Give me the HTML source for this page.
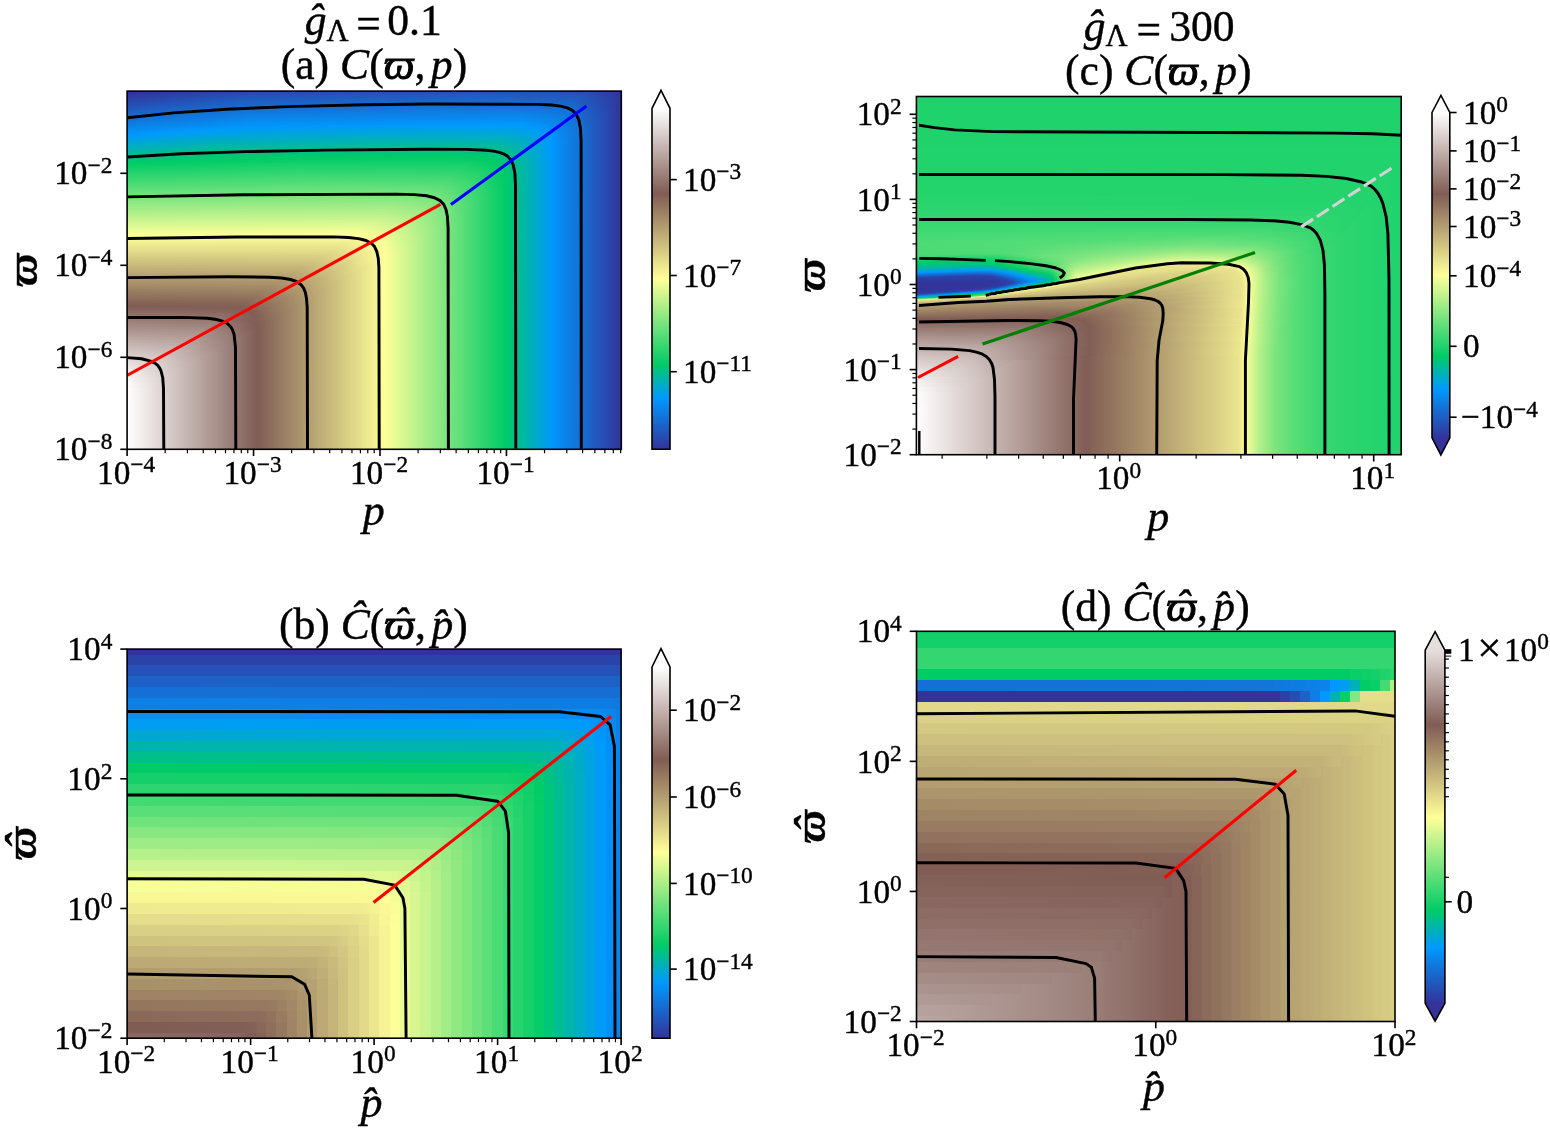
<!DOCTYPE html>
<html><head><meta charset="utf-8"><title>C(varpi,p) contour panels</title><style>html,body{margin:0;padding:0;background:#fff;overflow:hidden}svg{display:block}text{stroke:#000;stroke-width:0.4px;paint-order:stroke}</style></head><body>
<svg width="1550" height="1138" viewBox="0 0 1550 1138" font-family="'Liberation Serif', 'DejaVu Serif', serif">
<defs><linearGradient id="g0" gradientUnits="userSpaceOnUse" x1="127.00" y1="0" x2="622.00" y2="0"><stop offset="0.00101" stop-color="#ffffff"/><stop offset="0.2636" stop-color="#805d55"/><stop offset="0.5202" stop-color="#feff99"/><stop offset="0.7646" stop-color="#00cc67"/><stop offset="0.8596" stop-color="#0098fe"/><stop offset="0.999" stop-color="#333399"/></linearGradient>
<linearGradient id="g1" gradientUnits="userSpaceOnUse" x1="127.00" y1="0" x2="622.00" y2="0"><stop offset="0.00101" stop-color="#333399"/><stop offset="0.3" stop-color="#264db3"/><stop offset="0.8495" stop-color="#2254ba"/><stop offset="0.9444" stop-color="#274ab0"/><stop offset="0.999" stop-color="#333399"/></linearGradient>
<linearGradient id="g2" gradientUnits="userSpaceOnUse" x1="127.00" y1="0" x2="622.00" y2="0"><stop offset="0.00101" stop-color="#32349a"/><stop offset="0.2192" stop-color="#264db3"/><stop offset="0.696" stop-color="#2059bf"/><stop offset="0.9182" stop-color="#2353b9"/><stop offset="0.9828" stop-color="#2f3ba1"/><stop offset="0.999" stop-color="#333399"/></linearGradient>
<linearGradient id="g3" gradientUnits="userSpaceOnUse" x1="127.00" y1="0" x2="622.00" y2="0"><stop offset="0.00101" stop-color="#30399f"/><stop offset="0.2172" stop-color="#2452b8"/><stop offset="0.698" stop-color="#1e5dc3"/><stop offset="0.9121" stop-color="#2158be"/><stop offset="0.9768" stop-color="#2d3fa5"/><stop offset="0.999" stop-color="#333399"/></linearGradient>
<linearGradient id="g4" gradientUnits="userSpaceOnUse" x1="127.00" y1="0" x2="622.00" y2="0"><stop offset="0.00101" stop-color="#2e3ea4"/><stop offset="0.2212" stop-color="#2156bc"/><stop offset="0.7121" stop-color="#1c61c7"/><stop offset="0.9081" stop-color="#1f5cc2"/><stop offset="0.9727" stop-color="#2b42a8"/><stop offset="0.999" stop-color="#333399"/></linearGradient>
<linearGradient id="g5" gradientUnits="userSpaceOnUse" x1="127.00" y1="0" x2="622.00" y2="0"><stop offset="0.00101" stop-color="#2b43a9"/><stop offset="0.2232" stop-color="#1f5bc1"/><stop offset="0.7242" stop-color="#1a66cc"/><stop offset="0.904" stop-color="#1d5fc5"/><stop offset="0.9687" stop-color="#2a45ab"/><stop offset="0.999" stop-color="#333399"/></linearGradient>
<linearGradient id="g6" gradientUnits="userSpaceOnUse" x1="127.00" y1="0" x2="619.00" y2="0"><stop offset="0.001016" stop-color="#2947ad"/><stop offset="0.2266" stop-color="#1d60c6"/><stop offset="0.7388" stop-color="#186ad0"/><stop offset="0.9055" stop-color="#1b63c9"/><stop offset="0.9726" stop-color="#2947ad"/><stop offset="0.999" stop-color="#31369c"/></linearGradient>
<linearGradient id="g7" gradientUnits="userSpaceOnUse" x1="127.00" y1="0" x2="616.00" y2="0"><stop offset="0.001022" stop-color="#264cb2"/><stop offset="0.2321" stop-color="#1a64ca"/><stop offset="0.7597" stop-color="#156ed4"/><stop offset="0.907" stop-color="#1967cd"/><stop offset="0.9744" stop-color="#274ab0"/><stop offset="0.999" stop-color="#2f3ba1"/></linearGradient>
<linearGradient id="g8" gradientUnits="userSpaceOnUse" x1="127.00" y1="0" x2="613.00" y2="0"><stop offset="0.001029" stop-color="#2451b7"/><stop offset="0.2377" stop-color="#1869cf"/><stop offset="0.7809" stop-color="#1372d8"/><stop offset="0.9105" stop-color="#176bd1"/><stop offset="0.9784" stop-color="#264cb2"/><stop offset="0.999" stop-color="#2d3fa5"/></linearGradient>
<linearGradient id="g9" gradientUnits="userSpaceOnUse" x1="127.00" y1="0" x2="610.00" y2="0"><stop offset="0.001035" stop-color="#2156bc"/><stop offset="0.2412" stop-color="#166dd3"/><stop offset="0.7961" stop-color="#1176dc"/><stop offset="0.9141" stop-color="#166ed4"/><stop offset="0.9845" stop-color="#264db3"/><stop offset="0.999" stop-color="#2b44aa"/></linearGradient>
<linearGradient id="g10" gradientUnits="userSpaceOnUse" x1="127.00" y1="0" x2="607.00" y2="0"><stop offset="0.001042" stop-color="#1f5bc1"/><stop offset="0.2469" stop-color="#1372d8"/><stop offset="0.8115" stop-color="#0f7be1"/><stop offset="0.9177" stop-color="#1471d7"/><stop offset="0.9927" stop-color="#274cb2"/><stop offset="0.999" stop-color="#2948ae"/></linearGradient>
<linearGradient id="g11" gradientUnits="userSpaceOnUse" x1="127.00" y1="0" x2="604.00" y2="0"><stop offset="0.001048" stop-color="#1d60c6"/><stop offset="0.2526" stop-color="#1177dd"/><stop offset="0.8249" stop-color="#0d7fe5"/><stop offset="0.9214" stop-color="#1274da"/><stop offset="0.999" stop-color="#264cb2"/></linearGradient>
<linearGradient id="g12" gradientUnits="userSpaceOnUse" x1="127.00" y1="0" x2="601.00" y2="0"><stop offset="0.001055" stop-color="#1a65cb"/><stop offset="0.2584" stop-color="#0f7be1"/><stop offset="0.8365" stop-color="#0b83e9"/><stop offset="0.9251" stop-color="#1177dd"/><stop offset="0.9989" stop-color="#2451b7"/></linearGradient>
<linearGradient id="g13" gradientUnits="userSpaceOnUse" x1="127.00" y1="0" x2="598.00" y2="0"><stop offset="0.001062" stop-color="#186ad0"/><stop offset="0.2622" stop-color="#0d80e6"/><stop offset="0.8418" stop-color="#0987ed"/><stop offset="0.9268" stop-color="#0f7be1"/><stop offset="0.9989" stop-color="#2255bb"/></linearGradient>
<linearGradient id="g14" gradientUnits="userSpaceOnUse" x1="127.00" y1="0" x2="596.00" y2="0"><stop offset="0.001066" stop-color="#156fd5"/><stop offset="0.2676" stop-color="#0a84ea"/><stop offset="0.8454" stop-color="#078bf1"/><stop offset="0.9286" stop-color="#0e7de3"/><stop offset="0.9989" stop-color="#2058be"/></linearGradient>
<linearGradient id="g15" gradientUnits="userSpaceOnUse" x1="127.00" y1="0" x2="593.00" y2="0"><stop offset="0.001073" stop-color="#1373d9"/><stop offset="0.2758" stop-color="#0889ef"/><stop offset="0.8509" stop-color="#058ff5"/><stop offset="0.9303" stop-color="#0c81e7"/><stop offset="0.9989" stop-color="#1e5cc2"/></linearGradient>
<linearGradient id="g16" gradientUnits="userSpaceOnUse" x1="127.00" y1="0" x2="590.00" y2="0"><stop offset="0.00108" stop-color="#1078de"/><stop offset="0.2819" stop-color="#068ef4"/><stop offset="0.8542" stop-color="#0393f9"/><stop offset="0.932" stop-color="#0a84ea"/><stop offset="0.9989" stop-color="#1c61c7"/></linearGradient>
<linearGradient id="g17" gradientUnits="userSpaceOnUse" x1="127.00" y1="0" x2="587.00" y2="0"><stop offset="0.001087" stop-color="#0e7de3"/><stop offset="0.288" stop-color="#0392f8"/><stop offset="0.8598" stop-color="#0197fd"/><stop offset="0.9359" stop-color="#0987ed"/><stop offset="0.9989" stop-color="#1a65cb"/></linearGradient>
<linearGradient id="g18" gradientUnits="userSpaceOnUse" x1="127.00" y1="0" x2="584.00" y2="0"><stop offset="0.001094" stop-color="#0c81e7"/><stop offset="0.2943" stop-color="#0296fc"/><stop offset="0.535" stop-color="#009afc"/><stop offset="0.8589" stop-color="#009afd"/><stop offset="0.9179" stop-color="#0491f7"/><stop offset="0.9989" stop-color="#1869cf"/></linearGradient>
<linearGradient id="g19" gradientUnits="userSpaceOnUse" x1="127.00" y1="0" x2="583.00" y2="0"><stop offset="0.001096" stop-color="#0b83e9"/><stop offset="0.2971" stop-color="#0198fe"/><stop offset="0.8103" stop-color="#009cf5"/><stop offset="0.9024" stop-color="#0197fd"/><stop offset="0.9748" stop-color="#1079df"/><stop offset="0.9989" stop-color="#176bd1"/></linearGradient>
<linearGradient id="g20" gradientUnits="userSpaceOnUse" x1="127.00" y1="0" x2="581.00" y2="0"><stop offset="0.001101" stop-color="#0a86ec"/><stop offset="0.2764" stop-color="#0099fe"/><stop offset="0.6949" stop-color="#009eef"/><stop offset="0.8733" stop-color="#009cf6"/><stop offset="0.9086" stop-color="#0198fe"/><stop offset="0.9835" stop-color="#1177dd"/><stop offset="0.9989" stop-color="#166ed4"/></linearGradient>
<linearGradient id="g21" gradientUnits="userSpaceOnUse" x1="127.00" y1="0" x2="580.00" y2="0"><stop offset="0.001104" stop-color="#0888ee"/><stop offset="0.2307" stop-color="#009afd"/><stop offset="0.6126" stop-color="#00a0eb"/><stop offset="0.8642" stop-color="#009ef0"/><stop offset="0.9172" stop-color="#0197fd"/><stop offset="0.9989" stop-color="#156fd5"/></linearGradient>
<linearGradient id="g22" gradientUnits="userSpaceOnUse" x1="127.00" y1="0" x2="578.00" y2="0"><stop offset="0.001109" stop-color="#078bf1"/><stop offset="0.1874" stop-color="#009afd"/><stop offset="0.5222" stop-color="#00a0e9"/><stop offset="0.8548" stop-color="#00a0ea"/><stop offset="0.9124" stop-color="#009afb"/><stop offset="0.9279" stop-color="#0196fc"/><stop offset="0.9989" stop-color="#1372d8"/></linearGradient>
<linearGradient id="g23" gradientUnits="userSpaceOnUse" x1="127.00" y1="0" x2="577.00" y2="0"><stop offset="0.001111" stop-color="#068df3"/><stop offset="0.15" stop-color="#009afd"/><stop offset="0.4478" stop-color="#00a1e6"/><stop offset="0.8344" stop-color="#00a2e3"/><stop offset="0.9011" stop-color="#009ef1"/><stop offset="0.9278" stop-color="#0198fe"/><stop offset="0.9989" stop-color="#1374da"/></linearGradient>
<linearGradient id="g24" gradientUnits="userSpaceOnUse" x1="127.00" y1="0" x2="575.00" y2="0"><stop offset="0.001116" stop-color="#0590f6"/><stop offset="0.115" stop-color="#009afd"/><stop offset="0.3828" stop-color="#00a2e4"/><stop offset="0.8158" stop-color="#00a4dd"/><stop offset="0.894" stop-color="#00a0e9"/><stop offset="0.9342" stop-color="#0198fe"/><stop offset="0.9989" stop-color="#1177dd"/></linearGradient>
<linearGradient id="g25" gradientUnits="userSpaceOnUse" x1="127.00" y1="0" x2="574.00" y2="0"><stop offset="0.001119" stop-color="#0392f8"/><stop offset="0.08389" stop-color="#009afd"/><stop offset="0.3277" stop-color="#00a2e3"/><stop offset="0.7819" stop-color="#00a6d8"/><stop offset="0.8848" stop-color="#00a3e2"/><stop offset="0.934" stop-color="#009afd"/><stop offset="0.9989" stop-color="#1078de"/></linearGradient>
<linearGradient id="g26" gradientUnits="userSpaceOnUse" x1="127.00" y1="0" x2="572.00" y2="0"><stop offset="0.001124" stop-color="#0294fa"/><stop offset="0.05955" stop-color="#009afc"/><stop offset="0.2865" stop-color="#00a3e0"/><stop offset="0.7337" stop-color="#00a8d3"/><stop offset="0.8753" stop-color="#00a5da"/><stop offset="0.927" stop-color="#009df2"/><stop offset="0.9449" stop-color="#0198fe"/><stop offset="0.9989" stop-color="#0f7be1"/></linearGradient>
<linearGradient id="g27" gradientUnits="userSpaceOnUse" x1="127.00" y1="0" x2="571.00" y2="0"><stop offset="0.001126" stop-color="#0197fd"/><stop offset="0.04617" stop-color="#009bf9"/><stop offset="0.2646" stop-color="#00a4dd"/><stop offset="0.7038" stop-color="#00a9ce"/><stop offset="0.8705" stop-color="#00a7d5"/><stop offset="0.9223" stop-color="#00a0eb"/><stop offset="0.9471" stop-color="#0098fe"/><stop offset="0.9989" stop-color="#0e7de3"/></linearGradient>
<linearGradient id="g28" gradientUnits="userSpaceOnUse" x1="127.00" y1="0" x2="569.00" y2="0"><stop offset="0.001131" stop-color="#0099fe"/><stop offset="0.1912" stop-color="#00a4df"/><stop offset="0.5532" stop-color="#00aacc"/><stop offset="0.8563" stop-color="#00aacd"/><stop offset="0.9129" stop-color="#00a4df"/><stop offset="0.9536" stop-color="#0098fe"/><stop offset="0.9989" stop-color="#0d7fe5"/></linearGradient>
<linearGradient id="g29" gradientUnits="userSpaceOnUse" x1="127.00" y1="0" x2="568.00" y2="0"><stop offset="0.001134" stop-color="#009bf9"/><stop offset="0.1916" stop-color="#00a5da"/><stop offset="0.559" stop-color="#00acc7"/><stop offset="0.856" stop-color="#00abc9"/><stop offset="0.9127" stop-color="#00a5db"/><stop offset="0.9558" stop-color="#0099ff"/><stop offset="0.9989" stop-color="#0c81e7"/></linearGradient>
<linearGradient id="g30" gradientUnits="userSpaceOnUse" x1="127.00" y1="0" x2="567.00" y2="0"><stop offset="0.001136" stop-color="#009df3"/><stop offset="0.1943" stop-color="#00a7d4"/><stop offset="0.5693" stop-color="#00adc2"/><stop offset="0.8557" stop-color="#00adc4"/><stop offset="0.9125" stop-color="#00a6d7"/><stop offset="0.9602" stop-color="#0198fe"/><stop offset="0.9989" stop-color="#0b82e8"/></linearGradient>
<linearGradient id="g31" gradientUnits="userSpaceOnUse" x1="127.00" y1="0" x2="565.00" y2="0"><stop offset="0.001142" stop-color="#009fee"/><stop offset="0.1975" stop-color="#00a9cf"/><stop offset="0.5811" stop-color="#00afbd"/><stop offset="0.8573" stop-color="#00aec0"/><stop offset="0.9144" stop-color="#00a8d3"/><stop offset="0.9646" stop-color="#0098fe"/><stop offset="0.9989" stop-color="#0a85eb"/></linearGradient>
<linearGradient id="g32" gradientUnits="userSpaceOnUse" x1="127.00" y1="0" x2="564.00" y2="0"><stop offset="0.001144" stop-color="#00a1e8"/><stop offset="0.2002" stop-color="#00abca"/><stop offset="0.5915" stop-color="#00b1b8"/><stop offset="0.857" stop-color="#00b0bb"/><stop offset="0.9119" stop-color="#00aacd"/><stop offset="0.9622" stop-color="#009bfa"/><stop offset="0.9691" stop-color="#0198fe"/><stop offset="0.9989" stop-color="#0987ed"/></linearGradient>
<linearGradient id="g33" gradientUnits="userSpaceOnUse" x1="127.00" y1="0" x2="562.00" y2="0"><stop offset="0.001149" stop-color="#00a2e3"/><stop offset="0.2034" stop-color="#00adc4"/><stop offset="0.6034" stop-color="#00b2b3"/><stop offset="0.8586" stop-color="#00b1b6"/><stop offset="0.9138" stop-color="#00abc9"/><stop offset="0.9644" stop-color="#009cf7"/><stop offset="0.9736" stop-color="#0198fe"/><stop offset="0.9989" stop-color="#088af0"/></linearGradient>
<linearGradient id="g34" gradientUnits="userSpaceOnUse" x1="127.00" y1="0" x2="561.00" y2="0"><stop offset="0.001152" stop-color="#00a4dd"/><stop offset="0.2062" stop-color="#00aebf"/><stop offset="0.6164" stop-color="#00b4ae"/><stop offset="0.8583" stop-color="#00b3b2"/><stop offset="0.9136" stop-color="#00acc5"/><stop offset="0.9643" stop-color="#009df3"/><stop offset="0.9758" stop-color="#0098fe"/><stop offset="0.9988" stop-color="#078bf1"/></linearGradient>
<linearGradient id="g35" gradientUnits="userSpaceOnUse" x1="127.00" y1="0" x2="559.00" y2="0"><stop offset="0.001157" stop-color="#00a6d8"/><stop offset="0.2072" stop-color="#00b0ba"/><stop offset="0.6238" stop-color="#00b6a9"/><stop offset="0.86" stop-color="#00b4ad"/><stop offset="0.9155" stop-color="#00aec1"/><stop offset="0.9664" stop-color="#009eef"/><stop offset="0.9803" stop-color="#0099ff"/><stop offset="0.9988" stop-color="#058ef4"/></linearGradient>
<linearGradient id="g36" gradientUnits="userSpaceOnUse" x1="127.00" y1="0" x2="558.00" y2="0"><stop offset="0.00116" stop-color="#00a8d2"/><stop offset="0.21" stop-color="#00b2b5"/><stop offset="0.6346" stop-color="#00b7a4"/><stop offset="0.8596" stop-color="#00b6a9"/><stop offset="0.9153" stop-color="#00afbd"/><stop offset="0.9664" stop-color="#009fec"/><stop offset="0.9849" stop-color="#0197fd"/><stop offset="0.9988" stop-color="#0590f6"/></linearGradient>
<linearGradient id="g37" gradientUnits="userSpaceOnUse" x1="127.00" y1="0" x2="556.00" y2="0"><stop offset="0.001166" stop-color="#00aacd"/><stop offset="0.2133" stop-color="#00b3b0"/><stop offset="0.6492" stop-color="#00b99f"/><stop offset="0.8613" stop-color="#00b7a4"/><stop offset="0.9172" stop-color="#00b0b9"/><stop offset="0.9685" stop-color="#00a1e8"/><stop offset="0.9872" stop-color="#0099ff"/><stop offset="0.9988" stop-color="#0392f8"/></linearGradient>
<linearGradient id="g38" gradientUnits="userSpaceOnUse" x1="127.00" y1="0" x2="555.00" y2="0"><stop offset="0.001168" stop-color="#00acc7"/><stop offset="0.2161" stop-color="#00b5aa"/><stop offset="0.6624" stop-color="#00bb9a"/><stop offset="0.861" stop-color="#00b9a0"/><stop offset="0.9171" stop-color="#00b2b5"/><stop offset="0.9685" stop-color="#00a2e5"/><stop offset="0.9918" stop-color="#0198fe"/><stop offset="0.9988" stop-color="#0394fa"/></linearGradient>
<linearGradient id="g39" gradientUnits="userSpaceOnUse" x1="127.00" y1="0" x2="554.00" y2="0"><stop offset="0.001171" stop-color="#00adc2"/><stop offset="0.219" stop-color="#00b7a5"/><stop offset="0.6756" stop-color="#00bc95"/><stop offset="0.8607" stop-color="#00ba9b"/><stop offset="0.9169" stop-color="#00b3b1"/><stop offset="0.9684" stop-color="#00a3e1"/><stop offset="0.9941" stop-color="#0098fe"/><stop offset="0.9988" stop-color="#0295fb"/></linearGradient>
<linearGradient id="g40" gradientUnits="userSpaceOnUse" x1="127.00" y1="0" x2="552.00" y2="0"><stop offset="0.001176" stop-color="#00afbc"/><stop offset="0.2224" stop-color="#00b9a0"/><stop offset="0.6906" stop-color="#00be90"/><stop offset="0.8647" stop-color="#00bc97"/><stop offset="0.9188" stop-color="#00b4ad"/><stop offset="0.9729" stop-color="#00a3e0"/><stop offset="0.9988" stop-color="#0098fe"/></linearGradient>
<linearGradient id="g41" gradientUnits="userSpaceOnUse" x1="127.00" y1="0" x2="552.00" y2="0"><stop offset="0.001176" stop-color="#00b1b7"/><stop offset="0.2247" stop-color="#00ba9b"/><stop offset="0.7024" stop-color="#00c08b"/><stop offset="0.8624" stop-color="#00bd92"/><stop offset="0.9165" stop-color="#00b6a9"/><stop offset="0.9706" stop-color="#00a4dd"/><stop offset="0.9988" stop-color="#0098fe"/></linearGradient>
<linearGradient id="g42" gradientUnits="userSpaceOnUse" x1="127.00" y1="0" x2="552.00" y2="0"><stop offset="0.001176" stop-color="#00b3b1"/><stop offset="0.2294" stop-color="#00bc95"/><stop offset="0.7141" stop-color="#00c187"/><stop offset="0.8624" stop-color="#00bf8e"/><stop offset="0.9165" stop-color="#00b7a6"/><stop offset="0.9706" stop-color="#00a5dc"/><stop offset="0.9988" stop-color="#0099ff"/></linearGradient>
<linearGradient id="g43" gradientUnits="userSpaceOnUse" x1="127.00" y1="0" x2="552.00" y2="0"><stop offset="0.001176" stop-color="#00b5ac"/><stop offset="0.2318" stop-color="#00be90"/><stop offset="0.7235" stop-color="#00c382"/><stop offset="0.86" stop-color="#00c08a"/><stop offset="0.9141" stop-color="#00b8a2"/><stop offset="0.9706" stop-color="#00a5dc"/><stop offset="0.9988" stop-color="#0099ff"/></linearGradient>
<linearGradient id="g44" gradientUnits="userSpaceOnUse" x1="127.00" y1="0" x2="552.00" y2="0"><stop offset="0.001176" stop-color="#00b7a6"/><stop offset="0.2341" stop-color="#00c08b"/><stop offset="0.7306" stop-color="#00c47d"/><stop offset="0.8576" stop-color="#00c285"/><stop offset="0.9118" stop-color="#00b99e"/><stop offset="0.9682" stop-color="#00a6d8"/><stop offset="0.9988" stop-color="#0099ff"/></linearGradient>
<linearGradient id="g45" gradientUnits="userSpaceOnUse" x1="127.00" y1="0" x2="552.00" y2="0"><stop offset="0.001176" stop-color="#00b8a1"/><stop offset="0.2365" stop-color="#00c186"/><stop offset="0.7353" stop-color="#00c678"/><stop offset="0.8576" stop-color="#00c381"/><stop offset="0.9094" stop-color="#00bb9a"/><stop offset="0.9659" stop-color="#00a7d5"/><stop offset="0.9988" stop-color="#0099ff"/></linearGradient>
<linearGradient id="g46" gradientUnits="userSpaceOnUse" x1="127.00" y1="0" x2="553.00" y2="0"><stop offset="0.001174" stop-color="#00ba9b"/><stop offset="0.2406" stop-color="#00c381"/><stop offset="0.743" stop-color="#00c774"/><stop offset="0.8533" stop-color="#00c47d"/><stop offset="0.9049" stop-color="#00bc96"/><stop offset="0.9613" stop-color="#00a8d1"/><stop offset="0.9965" stop-color="#0099ff"/><stop offset="0.9988" stop-color="#0198fe"/></linearGradient>
<linearGradient id="g47" gradientUnits="userSpaceOnUse" x1="127.00" y1="0" x2="553.00" y2="0"><stop offset="0.001174" stop-color="#00bc96"/><stop offset="0.243" stop-color="#00c57b"/><stop offset="0.7477" stop-color="#00c96f"/><stop offset="0.8533" stop-color="#00c679"/><stop offset="0.9049" stop-color="#00bd94"/><stop offset="0.9636" stop-color="#00a7d4"/><stop offset="0.9965" stop-color="#0099ff"/><stop offset="0.9988" stop-color="#0198fe"/></linearGradient>
<linearGradient id="g48" gradientUnits="userSpaceOnUse" x1="127.00" y1="0" x2="551.00" y2="0"><stop offset="0.001179" stop-color="#00be90"/><stop offset="0.2512" stop-color="#00c776"/><stop offset="0.7583" stop-color="#00cb6a"/><stop offset="0.855" stop-color="#00c774"/><stop offset="0.9068" stop-color="#00be91"/><stop offset="0.9658" stop-color="#00a9d0"/><stop offset="0.9988" stop-color="#009afc"/></linearGradient>
<linearGradient id="g49" gradientUnits="userSpaceOnUse" x1="127.00" y1="0" x2="550.00" y2="0"><stop offset="0.001182" stop-color="#00c08b"/><stop offset="0.2565" stop-color="#00c871"/><stop offset="0.7364" stop-color="#01cc66"/><stop offset="0.8452" stop-color="#00ca6d"/><stop offset="0.8995" stop-color="#00c187"/><stop offset="0.9539" stop-color="#00afbe"/><stop offset="0.9988" stop-color="#009bf8"/></linearGradient>
<linearGradient id="g50" gradientUnits="userSpaceOnUse" x1="127.00" y1="0" x2="548.00" y2="0"><stop offset="0.001188" stop-color="#00c285"/><stop offset="0.2625" stop-color="#00ca6b"/><stop offset="0.5831" stop-color="#03cd67"/><stop offset="0.8492" stop-color="#00cb69"/><stop offset="0.9014" stop-color="#00c283"/><stop offset="0.9561" stop-color="#00b0bb"/><stop offset="0.9988" stop-color="#009df2"/></linearGradient>
<linearGradient id="g51" gradientUnits="userSpaceOnUse" x1="127.00" y1="0" x2="547.00" y2="0"><stop offset="0.00119" stop-color="#00c380"/><stop offset="0.2655" stop-color="#00cc66"/><stop offset="0.8155" stop-color="#05cd67"/><stop offset="0.8655" stop-color="#00ca6b"/><stop offset="0.9179" stop-color="#00bf8d"/><stop offset="0.9893" stop-color="#00a3e2"/><stop offset="0.9988" stop-color="#009fee"/></linearGradient>
<linearGradient id="g52" gradientUnits="userSpaceOnUse" x1="127.00" y1="0" x2="545.00" y2="0"><stop offset="0.001196" stop-color="#00c57a"/><stop offset="0.2141" stop-color="#01cc66"/><stop offset="0.7978" stop-color="#09ce68"/><stop offset="0.8744" stop-color="#00cb69"/><stop offset="0.927" stop-color="#00be91"/><stop offset="0.9988" stop-color="#00a1e8"/></linearGradient>
<linearGradient id="g53" gradientUnits="userSpaceOnUse" x1="127.00" y1="0" x2="544.00" y2="0"><stop offset="0.001199" stop-color="#00c775"/><stop offset="0.1595" stop-color="#02cc66"/><stop offset="0.7542" stop-color="#0dcf69"/><stop offset="0.8645" stop-color="#03cd67"/><stop offset="0.8861" stop-color="#00ca6c"/><stop offset="0.9388" stop-color="#00bb9a"/><stop offset="0.9988" stop-color="#00a2e5"/></linearGradient>
<linearGradient id="g54" gradientUnits="userSpaceOnUse" x1="127.00" y1="0" x2="542.00" y2="0"><stop offset="0.001205" stop-color="#00c96f"/><stop offset="0.1096" stop-color="#02cc66"/><stop offset="0.6518" stop-color="#10cf69"/><stop offset="0.847" stop-color="#0bce68"/><stop offset="0.8904" stop-color="#00cb69"/><stop offset="0.9458" stop-color="#00ba9c"/><stop offset="0.9988" stop-color="#00a4de"/></linearGradient>
<linearGradient id="g55" gradientUnits="userSpaceOnUse" x1="127.00" y1="0" x2="541.00" y2="0"><stop offset="0.001208" stop-color="#00cb6a"/><stop offset="0.1365" stop-color="#07cd67"/><stop offset="0.7283" stop-color="#14d06a"/><stop offset="0.8587" stop-color="#0bce68"/><stop offset="0.8949" stop-color="#00cb69"/><stop offset="0.9505" stop-color="#00b99e"/><stop offset="0.9988" stop-color="#00a5db"/></linearGradient>
<linearGradient id="g56" gradientUnits="userSpaceOnUse" x1="127.00" y1="0" x2="540.00" y2="0"><stop offset="0.001211" stop-color="#01cc66"/><stop offset="0.3814" stop-color="#13d06a"/><stop offset="0.822" stop-color="#14d06a"/><stop offset="0.8923" stop-color="#02cc66"/><stop offset="0.9213" stop-color="#00c57b"/><stop offset="0.9988" stop-color="#00a6d7"/></linearGradient>
<linearGradient id="g57" gradientUnits="userSpaceOnUse" x1="127.00" y1="0" x2="538.00" y2="0"><stop offset="0.001217" stop-color="#04cd67"/><stop offset="0.3881" stop-color="#17d16b"/><stop offset="0.8236" stop-color="#17d16b"/><stop offset="0.8942" stop-color="#05cd67"/><stop offset="0.9088" stop-color="#00cb6a"/><stop offset="0.972" stop-color="#00b4ae"/><stop offset="0.9988" stop-color="#00a8d1"/></linearGradient>
<linearGradient id="g58" gradientUnits="userSpaceOnUse" x1="127.00" y1="0" x2="537.00" y2="0"><stop offset="0.00122" stop-color="#08ce68"/><stop offset="0.3963" stop-color="#1ad16b"/><stop offset="0.8232" stop-color="#1ad16b"/><stop offset="0.8939" stop-color="#07cd67"/><stop offset="0.9134" stop-color="#00ca6b"/><stop offset="0.9817" stop-color="#00b1b7"/><stop offset="0.9988" stop-color="#00aacd"/></linearGradient>
<linearGradient id="g59" gradientUnits="userSpaceOnUse" x1="127.00" y1="0" x2="535.00" y2="0"><stop offset="0.001225" stop-color="#0cce68"/><stop offset="0.4032" stop-color="#1ed26c"/><stop offset="0.8223" stop-color="#1dd26c"/><stop offset="0.8934" stop-color="#0bce68"/><stop offset="0.9179" stop-color="#00cb69"/><stop offset="0.989" stop-color="#00b0ba"/><stop offset="0.9988" stop-color="#00acc7"/></linearGradient>
<linearGradient id="g60" gradientUnits="userSpaceOnUse" x1="127.00" y1="0" x2="534.00" y2="0"><stop offset="0.001229" stop-color="#0fcf69"/><stop offset="0.4091" stop-color="#21d36d"/><stop offset="0.8219" stop-color="#21d36d"/><stop offset="0.8931" stop-color="#0ecf69"/><stop offset="0.9201" stop-color="#00cb68"/><stop offset="0.9939" stop-color="#00afbd"/><stop offset="0.9988" stop-color="#00adc4"/></linearGradient>
<linearGradient id="g61" gradientUnits="userSpaceOnUse" x1="127.00" y1="0" x2="532.00" y2="0"><stop offset="0.001235" stop-color="#13d06a"/><stop offset="0.416" stop-color="#24d36d"/><stop offset="0.8235" stop-color="#24d36d"/><stop offset="0.8951" stop-color="#10cf69"/><stop offset="0.9272" stop-color="#00cb69"/><stop offset="0.9988" stop-color="#00afbd"/></linearGradient>
<linearGradient id="g62" gradientUnits="userSpaceOnUse" x1="127.00" y1="0" x2="531.00" y2="0"><stop offset="0.001238" stop-color="#16d06a"/><stop offset="0.4245" stop-color="#28d46e"/><stop offset="0.823" stop-color="#27d46e"/><stop offset="0.8948" stop-color="#13d06a"/><stop offset="0.9295" stop-color="#00cb68"/><stop offset="0.9988" stop-color="#00b0ba"/></linearGradient>
<linearGradient id="g63" gradientUnits="userSpaceOnUse" x1="127.00" y1="0" x2="529.00" y2="0"><stop offset="0.001244" stop-color="#1ad16b"/><stop offset="0.4341" stop-color="#2bd56f"/><stop offset="0.8246" stop-color="#2ad46e"/><stop offset="0.8968" stop-color="#16d06a"/><stop offset="0.9366" stop-color="#00cb6a"/><stop offset="0.9988" stop-color="#00b2b3"/></linearGradient>
<linearGradient id="g64" gradientUnits="userSpaceOnUse" x1="127.00" y1="0" x2="528.00" y2="0"><stop offset="0.001247" stop-color="#1ed26c"/><stop offset="0.4401" stop-color="#2ed56f"/><stop offset="0.8217" stop-color="#2dd56f"/><stop offset="0.894" stop-color="#19d16b"/><stop offset="0.9389" stop-color="#00cb69"/><stop offset="0.9988" stop-color="#00b3b0"/></linearGradient>
<linearGradient id="g65" gradientUnits="userSpaceOnUse" x1="127.00" y1="0" x2="526.00" y2="0"><stop offset="0.001253" stop-color="#21d36d"/><stop offset="0.4499" stop-color="#32d670"/><stop offset="0.8233" stop-color="#30d670"/><stop offset="0.896" stop-color="#1cd26c"/><stop offset="0.9436" stop-color="#00cb68"/><stop offset="0.9987" stop-color="#00b6a9"/></linearGradient>
<linearGradient id="g66" gradientUnits="userSpaceOnUse" x1="127.00" y1="0" x2="525.00" y2="0"><stop offset="0.001256" stop-color="#25d36d"/><stop offset="0.4585" stop-color="#35d771"/><stop offset="0.8229" stop-color="#33d670"/><stop offset="0.8932" stop-color="#20d26c"/><stop offset="0.946" stop-color="#00cc67"/><stop offset="0.9987" stop-color="#00b7a6"/></linearGradient>
<linearGradient id="g67" gradientUnits="userSpaceOnUse" x1="127.00" y1="0" x2="523.00" y2="0"><stop offset="0.001263" stop-color="#28d46e"/><stop offset="0.4684" stop-color="#39d771"/><stop offset="0.8245" stop-color="#36d771"/><stop offset="0.8952" stop-color="#22d36d"/><stop offset="0.9533" stop-color="#00cb69"/><stop offset="0.9987" stop-color="#00b99f"/></linearGradient>
<linearGradient id="g68" gradientUnits="userSpaceOnUse" x1="127.00" y1="0" x2="522.00" y2="0"><stop offset="0.001266" stop-color="#2cd56f"/><stop offset="0.4772" stop-color="#3cd872"/><stop offset="0.8241" stop-color="#39d771"/><stop offset="0.8949" stop-color="#25d36d"/><stop offset="0.9557" stop-color="#00cb69"/><stop offset="0.9987" stop-color="#00ba9c"/></linearGradient>
<linearGradient id="g69" gradientUnits="userSpaceOnUse" x1="127.00" y1="0" x2="520.00" y2="0"><stop offset="0.001272" stop-color="#30d670"/><stop offset="0.4873" stop-color="#3fd973"/><stop offset="0.8232" stop-color="#3dd872"/><stop offset="0.8944" stop-color="#29d46e"/><stop offset="0.9606" stop-color="#00cb68"/><stop offset="0.9987" stop-color="#00bc96"/></linearGradient>
<linearGradient id="g70" gradientUnits="userSpaceOnUse" x1="127.00" y1="0" x2="519.00" y2="0"><stop offset="0.001276" stop-color="#33d670"/><stop offset="0.4987" stop-color="#43d973"/><stop offset="0.8227" stop-color="#40d973"/><stop offset="0.8941" stop-color="#2bd56f"/><stop offset="0.963" stop-color="#00cb68"/><stop offset="0.9987" stop-color="#00bd92"/></linearGradient>
<linearGradient id="g71" gradientUnits="userSpaceOnUse" x1="127.00" y1="0" x2="518.00" y2="0"><stop offset="0.001279" stop-color="#37d771"/><stop offset="0.5102" stop-color="#46da74"/><stop offset="0.8223" stop-color="#43d973"/><stop offset="0.8939" stop-color="#2ed56f"/><stop offset="0.9655" stop-color="#00cc67"/><stop offset="0.9987" stop-color="#00be8f"/></linearGradient>
<linearGradient id="g72" gradientUnits="userSpaceOnUse" x1="127.00" y1="0" x2="516.00" y2="0"><stop offset="0.001285" stop-color="#3ad872"/><stop offset="0.5206" stop-color="#49db75"/><stop offset="0.8239" stop-color="#46da74"/><stop offset="0.8959" stop-color="#31d670"/><stop offset="0.9704" stop-color="#00cc67"/><stop offset="0.9987" stop-color="#00c188"/></linearGradient>
<linearGradient id="g73" gradientUnits="userSpaceOnUse" x1="127.00" y1="0" x2="515.00" y2="0"><stop offset="0.001289" stop-color="#3ed872"/><stop offset="0.5322" stop-color="#4ddb75"/><stop offset="0.8235" stop-color="#49db75"/><stop offset="0.8956" stop-color="#33d670"/><stop offset="0.9729" stop-color="#00cc67"/><stop offset="0.9987" stop-color="#00c285"/></linearGradient>
<linearGradient id="g74" gradientUnits="userSpaceOnUse" x1="127.00" y1="0" x2="513.00" y2="0"><stop offset="0.001295" stop-color="#42d973"/><stop offset="0.5479" stop-color="#50dc76"/><stop offset="0.8251" stop-color="#4cdb75"/><stop offset="0.8977" stop-color="#36d771"/><stop offset="0.978" stop-color="#00cc66"/><stop offset="0.9987" stop-color="#00c47f"/></linearGradient>
<linearGradient id="g75" gradientUnits="userSpaceOnUse" x1="127.00" y1="0" x2="512.00" y2="0"><stop offset="0.001299" stop-color="#45da74"/><stop offset="0.5597" stop-color="#53dd77"/><stop offset="0.8247" stop-color="#4fdc76"/><stop offset="0.8948" stop-color="#3ad872"/><stop offset="0.9831" stop-color="#00cb69"/><stop offset="0.9987" stop-color="#00c57c"/></linearGradient>
<linearGradient id="g76" gradientUnits="userSpaceOnUse" x1="127.00" y1="0" x2="510.00" y2="0"><stop offset="0.001305" stop-color="#49db75"/><stop offset="0.5757" stop-color="#57dd77"/><stop offset="0.8264" stop-color="#52dc76"/><stop offset="0.8969" stop-color="#3cd872"/><stop offset="0.9883" stop-color="#00cb69"/><stop offset="0.9987" stop-color="#00c775"/></linearGradient>
<linearGradient id="g77" gradientUnits="userSpaceOnUse" x1="127.00" y1="0" x2="508.00" y2="0"><stop offset="0.001312" stop-color="#4cdb75"/><stop offset="0.5919" stop-color="#5ade78"/><stop offset="0.8281" stop-color="#55dd77"/><stop offset="0.899" stop-color="#3fd973"/><stop offset="0.9934" stop-color="#00cb69"/><stop offset="0.9987" stop-color="#00c96f"/></linearGradient>
<linearGradient id="g78" gradientUnits="userSpaceOnUse" x1="127.00" y1="0" x2="507.00" y2="0"><stop offset="0.001316" stop-color="#50dc76"/><stop offset="0.6066" stop-color="#5ddf79"/><stop offset="0.8276" stop-color="#58de78"/><stop offset="0.8987" stop-color="#41d973"/><stop offset="0.9961" stop-color="#00cb69"/><stop offset="0.9987" stop-color="#00ca6c"/></linearGradient>
<linearGradient id="g79" gradientUnits="userSpaceOnUse" x1="127.00" y1="0" x2="500.00" y2="0"><stop offset="0.00134" stop-color="#54dd77"/><stop offset="0.6314" stop-color="#61df79"/><stop offset="0.8405" stop-color="#5bde78"/><stop offset="0.9129" stop-color="#44da74"/><stop offset="0.9987" stop-color="#0bce68"/></linearGradient>
<linearGradient id="g80" gradientUnits="userSpaceOnUse" x1="127.00" y1="0" x2="498.00" y2="0"><stop offset="0.001348" stop-color="#57dd77"/><stop offset="0.6509" stop-color="#64e07a"/><stop offset="0.845" stop-color="#5edf79"/><stop offset="0.9178" stop-color="#45da74"/><stop offset="0.9987" stop-color="#0fcf69"/></linearGradient>
<linearGradient id="g81" gradientUnits="userSpaceOnUse" x1="127.00" y1="0" x2="497.00" y2="0"><stop offset="0.001351" stop-color="#5bde78"/><stop offset="0.6689" stop-color="#67e17b"/><stop offset="0.8446" stop-color="#61df79"/><stop offset="0.9176" stop-color="#47da74"/><stop offset="0.9986" stop-color="#11cf69"/></linearGradient>
<linearGradient id="g82" gradientUnits="userSpaceOnUse" x1="127.00" y1="0" x2="495.00" y2="0"><stop offset="0.001359" stop-color="#5edf79"/><stop offset="0.6861" stop-color="#6be17b"/><stop offset="0.8492" stop-color="#63e07a"/><stop offset="0.9198" stop-color="#4adb75"/><stop offset="0.9986" stop-color="#15d06a"/></linearGradient>
<linearGradient id="g83" gradientUnits="userSpaceOnUse" x1="127.00" y1="0" x2="494.00" y2="0"><stop offset="0.001362" stop-color="#62e07a"/><stop offset="0.7016" stop-color="#6ee27c"/><stop offset="0.8515" stop-color="#65e07a"/><stop offset="0.9223" stop-color="#4bdb75"/><stop offset="0.9986" stop-color="#17d16b"/></linearGradient>
<linearGradient id="g84" gradientUnits="userSpaceOnUse" x1="127.00" y1="0" x2="492.00" y2="0"><stop offset="0.00137" stop-color="#66e07a"/><stop offset="0.7192" stop-color="#71e37d"/><stop offset="0.8562" stop-color="#68e17b"/><stop offset="0.9274" stop-color="#4cdb75"/><stop offset="0.9986" stop-color="#1cd26c"/></linearGradient>
<linearGradient id="g85" gradientUnits="userSpaceOnUse" x1="127.00" y1="0" x2="491.00" y2="0"><stop offset="0.001374" stop-color="#69e17b"/><stop offset="0.7294" stop-color="#74e37d"/><stop offset="0.8558" stop-color="#6be17b"/><stop offset="0.9272" stop-color="#4edc76"/><stop offset="0.9986" stop-color="#1ed26c"/></linearGradient>
<linearGradient id="g86" gradientUnits="userSpaceOnUse" x1="127.00" y1="0" x2="489.00" y2="0"><stop offset="0.001381" stop-color="#6de27c"/><stop offset="0.7417" stop-color="#77e47e"/><stop offset="0.8605" stop-color="#6de27c"/><stop offset="0.9323" stop-color="#4fdc76"/><stop offset="0.9986" stop-color="#22d36d"/></linearGradient>
<linearGradient id="g87" gradientUnits="userSpaceOnUse" x1="127.00" y1="0" x2="488.00" y2="0"><stop offset="0.001385" stop-color="#70e27c"/><stop offset="0.7548" stop-color="#7ae47e"/><stop offset="0.8657" stop-color="#6ee27c"/><stop offset="0.9404" stop-color="#4cdb75"/><stop offset="0.9986" stop-color="#24d36d"/></linearGradient>
<linearGradient id="g88" gradientUnits="userSpaceOnUse" x1="127.00" y1="0" x2="486.00" y2="0"><stop offset="0.001393" stop-color="#74e37d"/><stop offset="0.7618" stop-color="#7de57f"/><stop offset="0.8677" stop-color="#71e37d"/><stop offset="0.9429" stop-color="#4fdc76"/><stop offset="0.9986" stop-color="#28d46e"/></linearGradient>
<linearGradient id="g89" gradientUnits="userSpaceOnUse" x1="127.00" y1="0" x2="485.00" y2="0"><stop offset="0.001397" stop-color="#78e47e"/><stop offset="0.7668" stop-color="#81e680"/><stop offset="0.8701" stop-color="#73e37d"/><stop offset="0.9455" stop-color="#4fdc76"/><stop offset="0.9986" stop-color="#2bd56f"/></linearGradient>
<linearGradient id="g90" gradientUnits="userSpaceOnUse" x1="127.00" y1="0" x2="483.00" y2="0"><stop offset="0.001404" stop-color="#7de57f"/><stop offset="0.7683" stop-color="#86e781"/><stop offset="0.8694" stop-color="#78e47e"/><stop offset="0.9452" stop-color="#54dd77"/><stop offset="0.9986" stop-color="#2fd56f"/></linearGradient>
<linearGradient id="g91" gradientUnits="userSpaceOnUse" x1="127.00" y1="0" x2="480.00" y2="0"><stop offset="0.001416" stop-color="#84e680"/><stop offset="0.7691" stop-color="#8ce882"/><stop offset="0.8683" stop-color="#7fe57f"/><stop offset="0.9448" stop-color="#5ade78"/><stop offset="0.9986" stop-color="#35d771"/></linearGradient>
<linearGradient id="g92" gradientUnits="userSpaceOnUse" x1="127.00" y1="0" x2="477.00" y2="0"><stop offset="0.001429" stop-color="#8be882"/><stop offset="0.77" stop-color="#93e983"/><stop offset="0.8671" stop-color="#85e781"/><stop offset="0.9471" stop-color="#5fdf79"/><stop offset="0.9986" stop-color="#3cd872"/></linearGradient>
<linearGradient id="g93" gradientUnits="userSpaceOnUse" x1="127.00" y1="0" x2="473.00" y2="0"><stop offset="0.001445" stop-color="#92e983"/><stop offset="0.7731" stop-color="#99eb85"/><stop offset="0.8714" stop-color="#8be882"/><stop offset="0.9552" stop-color="#61df79"/><stop offset="0.9986" stop-color="#44da74"/></linearGradient>
<linearGradient id="g94" gradientUnits="userSpaceOnUse" x1="127.00" y1="0" x2="470.00" y2="0"><stop offset="0.001458" stop-color="#98ea84"/><stop offset="0.7711" stop-color="#a0ec86"/><stop offset="0.8703" stop-color="#91e983"/><stop offset="0.9548" stop-color="#68e17b"/><stop offset="0.9985" stop-color="#4bdb75"/></linearGradient>
<linearGradient id="g95" gradientUnits="userSpaceOnUse" x1="127.00" y1="0" x2="467.00" y2="0"><stop offset="0.001471" stop-color="#9fec86"/><stop offset="0.7721" stop-color="#a7ed87"/><stop offset="0.8691" stop-color="#98ea84"/><stop offset="0.9544" stop-color="#6ee27c"/><stop offset="0.9985" stop-color="#51dc76"/></linearGradient>
<linearGradient id="g96" gradientUnits="userSpaceOnUse" x1="127.00" y1="0" x2="464.00" y2="0"><stop offset="0.001484" stop-color="#a6ed87"/><stop offset="0.77" stop-color="#adef89"/><stop offset="0.868" stop-color="#9eec86"/><stop offset="0.957" stop-color="#73e37d"/><stop offset="0.9985" stop-color="#57dd77"/></linearGradient>
<linearGradient id="g97" gradientUnits="userSpaceOnUse" x1="127.00" y1="0" x2="461.00" y2="0"><stop offset="0.001497" stop-color="#adef89"/><stop offset="0.771" stop-color="#b4f08a"/><stop offset="0.8668" stop-color="#a5ed87"/><stop offset="0.9566" stop-color="#79e47e"/><stop offset="0.9985" stop-color="#5edf79"/></linearGradient>
<linearGradient id="g98" gradientUnits="userSpaceOnUse" x1="127.00" y1="0" x2="458.00" y2="0"><stop offset="0.001511" stop-color="#b4f08a"/><stop offset="0.7689" stop-color="#bbf18b"/><stop offset="0.8656" stop-color="#abee88"/><stop offset="0.9562" stop-color="#80e680"/><stop offset="0.9985" stop-color="#64e07a"/></linearGradient>
<linearGradient id="g99" gradientUnits="userSpaceOnUse" x1="127.00" y1="0" x2="454.00" y2="0"><stop offset="0.001529" stop-color="#bbf18b"/><stop offset="0.7691" stop-color="#c1f38d"/><stop offset="0.867" stop-color="#b2f08a"/><stop offset="0.9587" stop-color="#86e781"/><stop offset="0.9985" stop-color="#6de27c"/></linearGradient>
<linearGradient id="g100" gradientUnits="userSpaceOnUse" x1="127.00" y1="0" x2="451.00" y2="0"><stop offset="0.001543" stop-color="#c2f38d"/><stop offset="0.7701" stop-color="#c8f48e"/><stop offset="0.8688" stop-color="#b7f18b"/><stop offset="0.9645" stop-color="#88e781"/><stop offset="0.9985" stop-color="#73e37d"/></linearGradient>
<linearGradient id="g101" gradientUnits="userSpaceOnUse" x1="127.00" y1="0" x2="448.00" y2="0"><stop offset="0.001558" stop-color="#c9f48e"/><stop offset="0.7679" stop-color="#cef58f"/><stop offset="0.8676" stop-color="#bef28c"/><stop offset="0.9642" stop-color="#8fe983"/><stop offset="0.9984" stop-color="#79e47e"/></linearGradient>
<linearGradient id="g102" gradientUnits="userSpaceOnUse" x1="127.00" y1="0" x2="445.00" y2="0"><stop offset="0.001572" stop-color="#d0f690"/><stop offset="0.7657" stop-color="#d5f791"/><stop offset="0.8632" stop-color="#c5f38d"/><stop offset="0.9607" stop-color="#97ea84"/><stop offset="0.9984" stop-color="#80e680"/></linearGradient>
<linearGradient id="g103" gradientUnits="userSpaceOnUse" x1="127.00" y1="0" x2="442.00" y2="0"><stop offset="0.001587" stop-color="#d7f791"/><stop offset="0.7635" stop-color="#dcf892"/><stop offset="0.8619" stop-color="#ccf58f"/><stop offset="0.9603" stop-color="#9deb85"/><stop offset="0.9984" stop-color="#86e781"/></linearGradient>
<linearGradient id="g104" gradientUnits="userSpaceOnUse" x1="127.00" y1="0" x2="438.00" y2="0"><stop offset="0.001608" stop-color="#ddf892"/><stop offset="0.7637" stop-color="#e2f993"/><stop offset="0.8633" stop-color="#d2f690"/><stop offset="0.963" stop-color="#a3ed87"/><stop offset="0.9984" stop-color="#8ee882"/></linearGradient>
<linearGradient id="g105" gradientUnits="userSpaceOnUse" x1="127.00" y1="0" x2="435.00" y2="0"><stop offset="0.001623" stop-color="#e4fa94"/><stop offset="0.7614" stop-color="#e9fb95"/><stop offset="0.862" stop-color="#d9f791"/><stop offset="0.9627" stop-color="#aaee88"/><stop offset="0.9984" stop-color="#94ea84"/></linearGradient>
<linearGradient id="g106" gradientUnits="userSpaceOnUse" x1="127.00" y1="0" x2="432.00" y2="0"><stop offset="0.001639" stop-color="#ebfb95"/><stop offset="0.759" stop-color="#f0fc96"/><stop offset="0.8607" stop-color="#dff993"/><stop offset="0.9623" stop-color="#b0ef89"/><stop offset="0.9984" stop-color="#9beb85"/></linearGradient>
<linearGradient id="g107" gradientUnits="userSpaceOnUse" x1="127.00" y1="0" x2="429.00" y2="0"><stop offset="0.001656" stop-color="#f2fc96"/><stop offset="0.7566" stop-color="#f6fd97"/><stop offset="0.8593" stop-color="#e6fa94"/><stop offset="0.9652" stop-color="#b4f08a"/><stop offset="0.9983" stop-color="#a1ec86"/></linearGradient>
<linearGradient id="g108" gradientUnits="userSpaceOnUse" x1="127.00" y1="0" x2="425.00" y2="0"><stop offset="0.001678" stop-color="#f9fe98"/><stop offset="0.7802" stop-color="#fbfe98"/><stop offset="0.8775" stop-color="#e6fa94"/><stop offset="0.9983" stop-color="#a9ee88"/></linearGradient>
<linearGradient id="g109" gradientUnits="userSpaceOnUse" x1="127.00" y1="0" x2="422.00" y2="0"><stop offset="0.001695" stop-color="#fefe99"/><stop offset="0.7847" stop-color="#fefe98"/><stop offset="0.8525" stop-color="#f5fd97"/><stop offset="0.9576" stop-color="#c7f48e"/><stop offset="0.9983" stop-color="#afef89"/></linearGradient>
<linearGradient id="g110" gradientUnits="userSpaceOnUse" x1="127.00" y1="0" x2="419.00" y2="0"><stop offset="0.001712" stop-color="#fbfa97"/><stop offset="0.7825" stop-color="#faf997"/><stop offset="0.851" stop-color="#fbfe98"/><stop offset="0.9538" stop-color="#cff58f"/><stop offset="0.9983" stop-color="#b6f08a"/></linearGradient>
<linearGradient id="g111" gradientUnits="userSpaceOnUse" x1="127.00" y1="0" x2="415.00" y2="0"><stop offset="0.001736" stop-color="#f7f595"/><stop offset="0.7795" stop-color="#f7f495"/><stop offset="0.8698" stop-color="#fcfe98"/><stop offset="0.9913" stop-color="#c2f38d"/><stop offset="0.9983" stop-color="#bef28c"/></linearGradient>
<linearGradient id="g112" gradientUnits="userSpaceOnUse" x1="127.00" y1="0" x2="412.00" y2="0"><stop offset="0.001754" stop-color="#f4f193"/><stop offset="0.7772" stop-color="#f3f093"/><stop offset="0.886" stop-color="#fdff99"/><stop offset="0.9982" stop-color="#c4f38d"/></linearGradient>
<linearGradient id="g113" gradientUnits="userSpaceOnUse" x1="127.00" y1="0" x2="408.00" y2="0"><stop offset="0.001779" stop-color="#f0ec91"/><stop offset="0.774" stop-color="#f0eb91"/><stop offset="0.9021" stop-color="#fdff99"/><stop offset="0.9982" stop-color="#ccf58f"/></linearGradient>
<linearGradient id="g114" gradientUnits="userSpaceOnUse" x1="127.00" y1="0" x2="405.00" y2="0"><stop offset="0.001799" stop-color="#ece78f"/><stop offset="0.7716" stop-color="#ece78f"/><stop offset="0.9011" stop-color="#fdfc98"/><stop offset="0.9227" stop-color="#fafe98"/><stop offset="0.9982" stop-color="#d3f690"/></linearGradient>
<linearGradient id="g115" gradientUnits="userSpaceOnUse" x1="127.00" y1="0" x2="401.00" y2="0"><stop offset="0.001825" stop-color="#e9e38d"/><stop offset="0.7682" stop-color="#e9e28d"/><stop offset="0.8996" stop-color="#f9f796"/><stop offset="0.9325" stop-color="#fdff99"/><stop offset="0.9982" stop-color="#dbf892"/></linearGradient>
<linearGradient id="g116" gradientUnits="userSpaceOnUse" x1="127.00" y1="0" x2="398.00" y2="0"><stop offset="0.001845" stop-color="#e5de8b"/><stop offset="0.7657" stop-color="#e5de8b"/><stop offset="0.8985" stop-color="#f6f394"/><stop offset="0.9428" stop-color="#feff99"/><stop offset="0.9982" stop-color="#e1f993"/></linearGradient>
<linearGradient id="g117" gradientUnits="userSpaceOnUse" x1="127.00" y1="0" x2="394.00" y2="0"><stop offset="0.001873" stop-color="#e1d989"/><stop offset="0.7659" stop-color="#e2d989"/><stop offset="0.9007" stop-color="#f2ef92"/><stop offset="0.9607" stop-color="#fdff99"/><stop offset="0.9981" stop-color="#e9fb95"/></linearGradient>
<linearGradient id="g118" gradientUnits="userSpaceOnUse" x1="127.00" y1="0" x2="391.00" y2="0"><stop offset="0.001894" stop-color="#ded487"/><stop offset="0.7595" stop-color="#ded587"/><stop offset="0.8958" stop-color="#efea90"/><stop offset="0.9716" stop-color="#fdff99"/><stop offset="0.9981" stop-color="#f0fc96"/></linearGradient>
<linearGradient id="g119" gradientUnits="userSpaceOnUse" x1="127.00" y1="0" x2="388.00" y2="0"><stop offset="0.001916" stop-color="#dad085"/><stop offset="0.7567" stop-color="#dad085"/><stop offset="0.8946" stop-color="#ebe68e"/><stop offset="0.9828" stop-color="#feff99"/><stop offset="0.9981" stop-color="#f6fd97"/></linearGradient>
<linearGradient id="g120" gradientUnits="userSpaceOnUse" x1="127.00" y1="0" x2="378.00" y2="0"><stop offset="0.001992" stop-color="#d6cb83"/><stop offset="0.7709" stop-color="#d7cc83"/><stop offset="0.9143" stop-color="#e8e18c"/><stop offset="0.998" stop-color="#faf896"/></linearGradient>
<linearGradient id="g121" gradientUnits="userSpaceOnUse" x1="127.00" y1="0" x2="374.00" y2="0"><stop offset="0.002024" stop-color="#d3c681"/><stop offset="0.7713" stop-color="#d3c781"/><stop offset="0.917" stop-color="#e4dd8b"/><stop offset="0.998" stop-color="#f6f394"/></linearGradient>
<linearGradient id="g122" gradientUnits="userSpaceOnUse" x1="127.00" y1="0" x2="371.00" y2="0"><stop offset="0.002049" stop-color="#cfc27f"/><stop offset="0.7684" stop-color="#d0c380"/><stop offset="0.916" stop-color="#e1d989"/><stop offset="0.998" stop-color="#f3ef92"/></linearGradient>
<linearGradient id="g123" gradientUnits="userSpaceOnUse" x1="127.00" y1="0" x2="367.00" y2="0"><stop offset="0.002083" stop-color="#cbbd7d"/><stop offset="0.7646" stop-color="#ccbe7e"/><stop offset="0.9146" stop-color="#ddd487"/><stop offset="0.9979" stop-color="#efea90"/></linearGradient>
<linearGradient id="g124" gradientUnits="userSpaceOnUse" x1="127.00" y1="0" x2="363.00" y2="0"><stop offset="0.002119" stop-color="#c8b87b"/><stop offset="0.7648" stop-color="#c9ba7c"/><stop offset="0.9174" stop-color="#dad085"/><stop offset="0.9979" stop-color="#ebe58e"/></linearGradient>
<linearGradient id="g125" gradientUnits="userSpaceOnUse" x1="127.00" y1="0" x2="360.00" y2="0"><stop offset="0.002146" stop-color="#c4b379"/><stop offset="0.7575" stop-color="#c5b57a"/><stop offset="0.912" stop-color="#d6cb83"/><stop offset="0.9979" stop-color="#e8e18c"/></linearGradient>
<linearGradient id="g126" gradientUnits="userSpaceOnUse" x1="127.00" y1="0" x2="356.00" y2="0"><stop offset="0.002183" stop-color="#c0af77"/><stop offset="0.7576" stop-color="#c2b078"/><stop offset="0.9148" stop-color="#d3c781"/><stop offset="0.9978" stop-color="#e4dc8a"/></linearGradient>
<linearGradient id="g127" gradientUnits="userSpaceOnUse" x1="127.00" y1="0" x2="353.00" y2="0"><stop offset="0.002212" stop-color="#bdaa75"/><stop offset="0.75" stop-color="#beac76"/><stop offset="0.9093" stop-color="#cfc27f"/><stop offset="0.9978" stop-color="#e1d889"/></linearGradient>
<linearGradient id="g128" gradientUnits="userSpaceOnUse" x1="127.00" y1="0" x2="349.00" y2="0"><stop offset="0.002252" stop-color="#b9a573"/><stop offset="0.75" stop-color="#baa774"/><stop offset="0.9122" stop-color="#ccbe7e"/><stop offset="0.9977" stop-color="#ddd386"/></linearGradient>
<linearGradient id="g129" gradientUnits="userSpaceOnUse" x1="127.00" y1="0" x2="345.00" y2="0"><stop offset="0.002294" stop-color="#b5a171"/><stop offset="0.75" stop-color="#b7a372"/><stop offset="0.9151" stop-color="#c9ba7c"/><stop offset="0.9977" stop-color="#d9ce84"/></linearGradient>
<linearGradient id="g130" gradientUnits="userSpaceOnUse" x1="127.00" y1="0" x2="342.00" y2="0"><stop offset="0.002326" stop-color="#b29c6f"/><stop offset="0.7419" stop-color="#b39e70"/><stop offset="0.9093" stop-color="#c5b57a"/><stop offset="0.9977" stop-color="#d6ca83"/></linearGradient>
<linearGradient id="g131" gradientUnits="userSpaceOnUse" x1="127.00" y1="0" x2="338.00" y2="0"><stop offset="0.00237" stop-color="#ae976d"/><stop offset="0.7417" stop-color="#b09a6e"/><stop offset="0.9123" stop-color="#c2b178"/><stop offset="0.9976" stop-color="#d2c580"/></linearGradient>
<linearGradient id="g132" gradientUnits="userSpaceOnUse" x1="127.00" y1="0" x2="335.00" y2="0"><stop offset="0.002404" stop-color="#aa936b"/><stop offset="0.738" stop-color="#ac956c"/><stop offset="0.9111" stop-color="#bfad76"/><stop offset="0.9976" stop-color="#cec17f"/></linearGradient>
<linearGradient id="g133" gradientUnits="userSpaceOnUse" x1="127.00" y1="0" x2="331.00" y2="0"><stop offset="0.002451" stop-color="#a78e69"/><stop offset="0.7328" stop-color="#a9916a"/><stop offset="0.9093" stop-color="#bba874"/><stop offset="0.9975" stop-color="#cbbc7d"/></linearGradient>
<linearGradient id="g134" gradientUnits="userSpaceOnUse" x1="127.00" y1="0" x2="328.00" y2="0"><stop offset="0.002488" stop-color="#a38a67"/><stop offset="0.7289" stop-color="#a58c69"/><stop offset="0.908" stop-color="#b8a473"/><stop offset="0.9975" stop-color="#c7b87b"/></linearGradient>
<linearGradient id="g135" gradientUnits="userSpaceOnUse" x1="127.00" y1="0" x2="324.00" y2="0"><stop offset="0.002538" stop-color="#a08566"/><stop offset="0.7284" stop-color="#a28867"/><stop offset="0.9112" stop-color="#b5a071"/><stop offset="0.9975" stop-color="#c4b379"/></linearGradient>
<linearGradient id="g136" gradientUnits="userSpaceOnUse" x1="127.00" y1="0" x2="321.00" y2="0"><stop offset="0.002577" stop-color="#9c8064"/><stop offset="0.7191" stop-color="#9e8365"/><stop offset="0.9046" stop-color="#b19b6f"/><stop offset="0.9974" stop-color="#c0af77"/></linearGradient>
<linearGradient id="g137" gradientUnits="userSpaceOnUse" x1="127.00" y1="0" x2="317.00" y2="0"><stop offset="0.002632" stop-color="#987c62"/><stop offset="0.7184" stop-color="#9b7f63"/><stop offset="0.9079" stop-color="#ae976d"/><stop offset="0.9974" stop-color="#bcaa75"/></linearGradient>
<linearGradient id="g138" gradientUnits="userSpaceOnUse" x1="127.00" y1="0" x2="314.00" y2="0"><stop offset="0.002674" stop-color="#957760"/><stop offset="0.7086" stop-color="#977a61"/><stop offset="0.9011" stop-color="#aa926b"/><stop offset="0.9973" stop-color="#b9a673"/></linearGradient>
<linearGradient id="g139" gradientUnits="userSpaceOnUse" x1="127.00" y1="0" x2="310.00" y2="0"><stop offset="0.002732" stop-color="#91735e"/><stop offset="0.7077" stop-color="#94765f"/><stop offset="0.9044" stop-color="#a78e69"/><stop offset="0.9973" stop-color="#b5a171"/></linearGradient>
<linearGradient id="g140" gradientUnits="userSpaceOnUse" x1="127.00" y1="0" x2="306.00" y2="0"><stop offset="0.002793" stop-color="#8e6e5c"/><stop offset="0.7067" stop-color="#90715d"/><stop offset="0.9078" stop-color="#a48a68"/><stop offset="0.9972" stop-color="#b29c6f"/></linearGradient>
<linearGradient id="g141" gradientUnits="userSpaceOnUse" x1="127.00" y1="0" x2="303.00" y2="0"><stop offset="0.002841" stop-color="#8a695a"/><stop offset="0.7017" stop-color="#8d6d5b"/><stop offset="0.9062" stop-color="#a08666"/><stop offset="0.9972" stop-color="#ae986e"/></linearGradient>
<linearGradient id="g142" gradientUnits="userSpaceOnUse" x1="127.00" y1="0" x2="299.00" y2="0"><stop offset="0.002907" stop-color="#866558"/><stop offset="0.6948" stop-color="#896859"/><stop offset="0.9041" stop-color="#9c8164"/><stop offset="0.9971" stop-color="#aa936b"/></linearGradient>
<linearGradient id="g143" gradientUnits="userSpaceOnUse" x1="127.00" y1="0" x2="296.00" y2="0"><stop offset="0.002959" stop-color="#836056"/><stop offset="0.6893" stop-color="#866458"/><stop offset="0.9024" stop-color="#997d62"/><stop offset="0.997" stop-color="#a78f6a"/></linearGradient>
<linearGradient id="g144" gradientUnits="userSpaceOnUse" x1="127.00" y1="0" x2="292.00" y2="0"><stop offset="0.00303" stop-color="#805d55"/><stop offset="0.7061" stop-color="#836156"/><stop offset="0.9303" stop-color="#9a7d62"/><stop offset="0.997" stop-color="#a38a68"/></linearGradient>
<linearGradient id="g145" gradientUnits="userSpaceOnUse" x1="127.00" y1="0" x2="289.00" y2="0"><stop offset="0.003086" stop-color="#836159"/><stop offset="0.6759" stop-color="#805d55"/><stop offset="0.8673" stop-color="#8e6f5c"/><stop offset="0.9969" stop-color="#a08666"/></linearGradient>
<linearGradient id="g146" gradientUnits="userSpaceOnUse" x1="127.00" y1="0" x2="285.00" y2="0"><stop offset="0.003165" stop-color="#87655e"/><stop offset="0.6677" stop-color="#84615a"/><stop offset="0.7816" stop-color="#825f56"/><stop offset="0.9968" stop-color="#9c8164"/></linearGradient>
<linearGradient id="g147" gradientUnits="userSpaceOnUse" x1="127.00" y1="0" x2="282.00" y2="0"><stop offset="0.003226" stop-color="#8b6a63"/><stop offset="0.6613" stop-color="#87665e"/><stop offset="0.8032" stop-color="#815e55"/><stop offset="0.9968" stop-color="#997d62"/></linearGradient>
<linearGradient id="g148" gradientUnits="userSpaceOnUse" x1="127.00" y1="0" x2="278.00" y2="0"><stop offset="0.003311" stop-color="#8e6f68"/><stop offset="0.6589" stop-color="#8b6a63"/><stop offset="0.8377" stop-color="#815e55"/><stop offset="0.9967" stop-color="#957860"/></linearGradient>
<linearGradient id="g149" gradientUnits="userSpaceOnUse" x1="127.00" y1="0" x2="275.00" y2="0"><stop offset="0.003378" stop-color="#92736d"/><stop offset="0.652" stop-color="#8e6e68"/><stop offset="0.8615" stop-color="#815e55"/><stop offset="0.9966" stop-color="#92745e"/></linearGradient>
<linearGradient id="g150" gradientUnits="userSpaceOnUse" x1="127.00" y1="0" x2="271.00" y2="0"><stop offset="0.003472" stop-color="#957871"/><stop offset="0.6424" stop-color="#92736d"/><stop offset="0.8924" stop-color="#815e55"/><stop offset="0.9965" stop-color="#8e6f5c"/></linearGradient>
<linearGradient id="g151" gradientUnits="userSpaceOnUse" x1="127.00" y1="0" x2="268.00" y2="0"><stop offset="0.003546" stop-color="#997c76"/><stop offset="0.6348" stop-color="#957771"/><stop offset="0.883" stop-color="#825f57"/><stop offset="0.9326" stop-color="#836156"/><stop offset="0.9965" stop-color="#8b6b5b"/></linearGradient>
<linearGradient id="g152" gradientUnits="userSpaceOnUse" x1="127.00" y1="0" x2="264.00" y2="0"><stop offset="0.00365" stop-color="#9d817b"/><stop offset="0.6314" stop-color="#997c76"/><stop offset="0.8869" stop-color="#85635b"/><stop offset="0.9453" stop-color="#815e55"/><stop offset="0.9964" stop-color="#876658"/></linearGradient>
<linearGradient id="g153" gradientUnits="userSpaceOnUse" x1="127.00" y1="0" x2="260.00" y2="0"><stop offset="0.003759" stop-color="#a08680"/><stop offset="0.6278" stop-color="#9c807a"/><stop offset="0.8985" stop-color="#87665e"/><stop offset="0.9737" stop-color="#815d55"/><stop offset="0.9962" stop-color="#836156"/></linearGradient>
<linearGradient id="g154" gradientUnits="userSpaceOnUse" x1="127.00" y1="0" x2="257.00" y2="0"><stop offset="0.003846" stop-color="#a48a85"/><stop offset="0.6192" stop-color="#9f857f"/><stop offset="0.8962" stop-color="#8a6962"/><stop offset="0.9962" stop-color="#805d55"/></linearGradient>
<linearGradient id="g155" gradientUnits="userSpaceOnUse" x1="127.00" y1="0" x2="254.00" y2="0"><stop offset="0.003937" stop-color="#a88f8a"/><stop offset="0.6102" stop-color="#a38983"/><stop offset="0.8937" stop-color="#8d6d67"/><stop offset="0.9961" stop-color="#825f57"/></linearGradient>
<linearGradient id="g156" gradientUnits="userSpaceOnUse" x1="127.00" y1="0" x2="250.00" y2="0"><stop offset="0.004065" stop-color="#ab948f"/><stop offset="0.6057" stop-color="#a68d88"/><stop offset="0.8984" stop-color="#90716b"/><stop offset="0.9959" stop-color="#86645c"/></linearGradient>
<linearGradient id="g157" gradientUnits="userSpaceOnUse" x1="127.00" y1="0" x2="247.00" y2="0"><stop offset="0.004167" stop-color="#af9894"/><stop offset="0.5958" stop-color="#a9928c"/><stop offset="0.8958" stop-color="#93756f"/><stop offset="0.9958" stop-color="#896860"/></linearGradient>
<linearGradient id="g158" gradientUnits="userSpaceOnUse" x1="127.00" y1="0" x2="243.00" y2="0"><stop offset="0.00431" stop-color="#b29d98"/><stop offset="0.5905" stop-color="#ad9691"/><stop offset="0.9095" stop-color="#967872"/><stop offset="0.9957" stop-color="#8d6d66"/></linearGradient>
<linearGradient id="g159" gradientUnits="userSpaceOnUse" x1="127.00" y1="0" x2="240.00" y2="0"><stop offset="0.004425" stop-color="#b6a29d"/><stop offset="0.5796" stop-color="#b09a95"/><stop offset="0.9071" stop-color="#997c76"/><stop offset="0.9956" stop-color="#90716a"/></linearGradient>
<linearGradient id="g160" gradientUnits="userSpaceOnUse" x1="127.00" y1="0" x2="236.00" y2="0"><stop offset="0.004587" stop-color="#baa6a2"/><stop offset="0.5734" stop-color="#b49f9a"/><stop offset="0.9128" stop-color="#9c807a"/><stop offset="0.9954" stop-color="#94766f"/></linearGradient>
<linearGradient id="g161" gradientUnits="userSpaceOnUse" x1="127.00" y1="0" x2="233.00" y2="0"><stop offset="0.004717" stop-color="#bdaba7"/><stop offset="0.5708" stop-color="#b7a29e"/><stop offset="0.9292" stop-color="#9d827c"/><stop offset="0.9953" stop-color="#977a73"/></linearGradient>
<linearGradient id="g162" gradientUnits="userSpaceOnUse" x1="127.00" y1="0" x2="229.00" y2="0"><stop offset="0.004902" stop-color="#c1afac"/><stop offset="0.5637" stop-color="#baa7a3"/><stop offset="0.9363" stop-color="#a08680"/><stop offset="0.9951" stop-color="#9b7f79"/></linearGradient>
<linearGradient id="g163" gradientUnits="userSpaceOnUse" x1="127.00" y1="0" x2="225.00" y2="0"><stop offset="0.005102" stop-color="#c4b4b1"/><stop offset="0.5561" stop-color="#bdaba7"/><stop offset="0.9541" stop-color="#a28883"/><stop offset="0.9949" stop-color="#9f847e"/></linearGradient>
<linearGradient id="g164" gradientUnits="userSpaceOnUse" x1="127.00" y1="0" x2="222.00" y2="0"><stop offset="0.005263" stop-color="#c8b9b5"/><stop offset="0.5526" stop-color="#c0afab"/><stop offset="0.9737" stop-color="#a48a84"/><stop offset="0.9947" stop-color="#a28882"/></linearGradient>
<linearGradient id="g165" gradientUnits="userSpaceOnUse" x1="127.00" y1="0" x2="218.00" y2="0"><stop offset="0.005495" stop-color="#ccbdba"/><stop offset="0.544" stop-color="#c4b3af"/><stop offset="0.9945" stop-color="#a68d87"/></linearGradient>
<linearGradient id="g166" gradientUnits="userSpaceOnUse" x1="127.00" y1="0" x2="215.00" y2="0"><stop offset="0.005682" stop-color="#cfc2bf"/><stop offset="0.5398" stop-color="#c7b7b3"/><stop offset="0.9943" stop-color="#a9908b"/></linearGradient>
<linearGradient id="g167" gradientUnits="userSpaceOnUse" x1="127.00" y1="0" x2="211.00" y2="0"><stop offset="0.005952" stop-color="#d3c6c4"/><stop offset="0.5417" stop-color="#c9bab7"/><stop offset="0.994" stop-color="#ad9691"/></linearGradient>
<linearGradient id="g168" gradientUnits="userSpaceOnUse" x1="127.00" y1="0" x2="207.00" y2="0"><stop offset="0.00625" stop-color="#d6cbc8"/><stop offset="0.5437" stop-color="#ccbebb"/><stop offset="0.9938" stop-color="#b19b96"/></linearGradient>
<linearGradient id="g169" gradientUnits="userSpaceOnUse" x1="127.00" y1="0" x2="204.00" y2="0"><stop offset="0.006494" stop-color="#dacfcd"/><stop offset="0.539" stop-color="#cfc1bf"/><stop offset="0.9935" stop-color="#b49f9a"/></linearGradient>
<linearGradient id="g170" gradientUnits="userSpaceOnUse" x1="127.00" y1="0" x2="200.00" y2="0"><stop offset="0.006849" stop-color="#ddd3d1"/><stop offset="0.5411" stop-color="#d2c5c2"/><stop offset="0.9932" stop-color="#b8a49f"/></linearGradient>
<linearGradient id="g171" gradientUnits="userSpaceOnUse" x1="127.00" y1="0" x2="197.00" y2="0"><stop offset="0.007143" stop-color="#e0d8d6"/><stop offset="0.55" stop-color="#d4c8c5"/><stop offset="0.9929" stop-color="#bba7a3"/></linearGradient>
<linearGradient id="g172" gradientUnits="userSpaceOnUse" x1="127.00" y1="0" x2="193.00" y2="0"><stop offset="0.007576" stop-color="#e3dcda"/><stop offset="0.5682" stop-color="#d6cac8"/><stop offset="0.9924" stop-color="#bfada9"/></linearGradient>
<linearGradient id="g173" gradientUnits="userSpaceOnUse" x1="127.00" y1="0" x2="189.00" y2="0"><stop offset="0.008065" stop-color="#e7e0de"/><stop offset="0.5887" stop-color="#d7ccca"/><stop offset="0.9919" stop-color="#c3b2ae"/></linearGradient>
<linearGradient id="g174" gradientUnits="userSpaceOnUse" x1="127.00" y1="0" x2="186.00" y2="0"><stop offset="0.008475" stop-color="#eae4e2"/><stop offset="0.6186" stop-color="#d8cecb"/><stop offset="0.9915" stop-color="#c6b5b2"/></linearGradient>
<linearGradient id="g175" gradientUnits="userSpaceOnUse" x1="127.00" y1="0" x2="182.00" y2="0"><stop offset="0.009091" stop-color="#ece7e6"/><stop offset="0.6636" stop-color="#d9cfcc"/><stop offset="0.9909" stop-color="#cabbb7"/></linearGradient>
<linearGradient id="g176" gradientUnits="userSpaceOnUse" x1="127.00" y1="0" x2="178.00" y2="0"><stop offset="0.009804" stop-color="#f0ebea"/><stop offset="0.7353" stop-color="#d9cfcc"/><stop offset="0.9902" stop-color="#cec0bd"/></linearGradient>
<linearGradient id="g177" gradientUnits="userSpaceOnUse" x1="127.00" y1="0" x2="173.00" y2="0"><stop offset="0.01087" stop-color="#f3f0ef"/><stop offset="0.8587" stop-color="#d8cdcb"/><stop offset="0.9891" stop-color="#d3c6c3"/></linearGradient>
<linearGradient id="g178" gradientUnits="userSpaceOnUse" x1="127.00" y1="0" x2="168.00" y2="0"><stop offset="0.0122" stop-color="#f6f4f3"/><stop offset="0.9878" stop-color="#d8cdca"/></linearGradient>
<linearGradient id="g179" gradientUnits="userSpaceOnUse" x1="127.00" y1="0" x2="162.00" y2="0"><stop offset="0.01429" stop-color="#f9f7f7"/><stop offset="0.9857" stop-color="#ded4d2"/></linearGradient>
<linearGradient id="g180" gradientUnits="userSpaceOnUse" x1="127.00" y1="0" x2="155.00" y2="0"><stop offset="0.01786" stop-color="#fcfbfb"/><stop offset="0.9821" stop-color="#e5dddc"/></linearGradient>
<linearGradient id="g181" gradientUnits="userSpaceOnUse" x1="127.00" y1="0" x2="144.00" y2="0"><stop offset="0.02941" stop-color="#fffefe"/><stop offset="0.9706" stop-color="#f0eceb"/></linearGradient>
<linearGradient id="g182" gradientUnits="userSpaceOnUse" x1="127.00" y1="0" x2="622.00" y2="0"><stop offset="0.00101" stop-color="#896861"/><stop offset="0.2172" stop-color="#87655e"/><stop offset="0.2374" stop-color="#85625b"/><stop offset="0.2414" stop-color="#805d55"/><stop offset="0.2596" stop-color="#805d55"/><stop offset="0.2636" stop-color="#856357"/><stop offset="0.2798" stop-color="#856357"/><stop offset="0.2818" stop-color="#8d6d5b"/><stop offset="0.3" stop-color="#8d6d5b"/><stop offset="0.302" stop-color="#957860"/><stop offset="0.3222" stop-color="#957860"/><stop offset="0.3242" stop-color="#9f8465"/><stop offset="0.3424" stop-color="#9f8465"/><stop offset="0.3444" stop-color="#a8906a"/><stop offset="0.3626" stop-color="#a8906a"/><stop offset="0.3646" stop-color="#b29c6f"/><stop offset="0.3828" stop-color="#b29c6f"/><stop offset="0.3848" stop-color="#bca975"/><stop offset="0.4051" stop-color="#bca975"/><stop offset="0.4071" stop-color="#c5b57a"/><stop offset="0.4253" stop-color="#c5b57a"/><stop offset="0.4273" stop-color="#cfc27f"/><stop offset="0.4455" stop-color="#cfc27f"/><stop offset="0.4475" stop-color="#d9ce84"/><stop offset="0.4677" stop-color="#d9ce84"/><stop offset="0.4697" stop-color="#e2da8a"/><stop offset="0.4879" stop-color="#e2da8a"/><stop offset="0.4899" stop-color="#ece78f"/><stop offset="0.5081" stop-color="#ece78f"/><stop offset="0.5101" stop-color="#f6f394"/><stop offset="0.5303" stop-color="#f6f394"/><stop offset="0.5323" stop-color="#feff99"/><stop offset="0.5505" stop-color="#feff99"/><stop offset="0.5525" stop-color="#eafb95"/><stop offset="0.5707" stop-color="#eafb95"/><stop offset="0.5727" stop-color="#d9f791"/><stop offset="0.5909" stop-color="#d9f791"/><stop offset="0.5929" stop-color="#c7f48e"/><stop offset="0.6131" stop-color="#c7f48e"/><stop offset="0.6152" stop-color="#b5f08a"/><stop offset="0.6333" stop-color="#b5f08a"/><stop offset="0.6354" stop-color="#a3ed87"/><stop offset="0.6535" stop-color="#a3ed87"/><stop offset="0.6556" stop-color="#92e983"/><stop offset="0.6758" stop-color="#92e983"/><stop offset="0.6778" stop-color="#80e680"/><stop offset="0.696" stop-color="#80e680"/><stop offset="0.698" stop-color="#6ee27c"/><stop offset="0.7162" stop-color="#6ee27c"/><stop offset="0.7182" stop-color="#5cde78"/><stop offset="0.7364" stop-color="#5cde78"/><stop offset="0.7384" stop-color="#4bdb75"/><stop offset="0.7586" stop-color="#4bdb75"/><stop offset="0.7606" stop-color="#39d771"/><stop offset="0.7788" stop-color="#39d771"/><stop offset="0.7808" stop-color="#28d46e"/><stop offset="0.799" stop-color="#28d46e"/><stop offset="0.801" stop-color="#16d06a"/><stop offset="0.8212" stop-color="#16d06a"/><stop offset="0.8232" stop-color="#05cd67"/><stop offset="0.8414" stop-color="#05cd67"/><stop offset="0.8434" stop-color="#00c678"/><stop offset="0.8616" stop-color="#00c678"/><stop offset="0.8636" stop-color="#00bd92"/><stop offset="0.8818" stop-color="#00bd92"/><stop offset="0.8838" stop-color="#00b5ac"/><stop offset="0.904" stop-color="#00b5ac"/><stop offset="0.9061" stop-color="#00acc6"/><stop offset="0.9242" stop-color="#00acc6"/><stop offset="0.9263" stop-color="#00a4df"/><stop offset="0.9444" stop-color="#00a4df"/><stop offset="0.9465" stop-color="#009bf9"/><stop offset="0.9667" stop-color="#009bf9"/><stop offset="0.9687" stop-color="#0490f6"/><stop offset="0.9869" stop-color="#0490f6"/><stop offset="0.9889" stop-color="#0a85eb"/><stop offset="0.999" stop-color="#0a85eb"/></linearGradient>
<linearGradient id="g183" gradientUnits="userSpaceOnUse" x1="127.00" y1="0" x2="622.00" y2="0"><stop offset="0.00101" stop-color="#1470d6"/><stop offset="0.999" stop-color="#166dd3"/></linearGradient>
<linearGradient id="g184" gradientUnits="userSpaceOnUse" x1="127.00" y1="0" x2="622.00" y2="0"><stop offset="0.00101" stop-color="#1470d6"/><stop offset="0.999" stop-color="#166dd3"/></linearGradient>
<linearGradient id="g185" gradientUnits="userSpaceOnUse" x1="127.00" y1="0" x2="622.00" y2="0"><stop offset="0.00101" stop-color="#0d80e6"/><stop offset="0.9667" stop-color="#0e7de3"/><stop offset="0.999" stop-color="#1177dd"/></linearGradient>
<linearGradient id="g186" gradientUnits="userSpaceOnUse" x1="127.00" y1="0" x2="622.00" y2="0"><stop offset="0.00101" stop-color="#0d80e6"/><stop offset="0.9667" stop-color="#0e7de3"/><stop offset="0.999" stop-color="#1177dd"/></linearGradient>
<linearGradient id="g187" gradientUnits="userSpaceOnUse" x1="127.00" y1="0" x2="622.00" y2="0"><stop offset="0.00101" stop-color="#058ff5"/><stop offset="0.9444" stop-color="#078cf2"/><stop offset="0.9667" stop-color="#0889ef"/><stop offset="0.9747" stop-color="#0a85eb"/><stop offset="0.9869" stop-color="#0a85eb"/><stop offset="0.9909" stop-color="#0d7ee4"/><stop offset="0.999" stop-color="#0d7ee4"/></linearGradient>
<linearGradient id="g188" gradientUnits="userSpaceOnUse" x1="127.00" y1="0" x2="622.00" y2="0"><stop offset="0.00101" stop-color="#009df3"/><stop offset="0.8818" stop-color="#009cf5"/><stop offset="0.904" stop-color="#009cf7"/><stop offset="0.9182" stop-color="#009afb"/><stop offset="0.9444" stop-color="#0197fd"/><stop offset="0.9505" stop-color="#0392f8"/><stop offset="0.9667" stop-color="#0392f8"/><stop offset="0.9687" stop-color="#078bf1"/><stop offset="0.9869" stop-color="#078bf1"/><stop offset="0.9889" stop-color="#0c82e8"/><stop offset="0.999" stop-color="#0c82e8"/></linearGradient>
<linearGradient id="g189" gradientUnits="userSpaceOnUse" x1="127.00" y1="0" x2="622.00" y2="0"><stop offset="0.00101" stop-color="#009df3"/><stop offset="0.8818" stop-color="#009cf5"/><stop offset="0.904" stop-color="#009cf7"/><stop offset="0.9182" stop-color="#009afb"/><stop offset="0.9444" stop-color="#0197fd"/><stop offset="0.9505" stop-color="#0392f8"/><stop offset="0.9667" stop-color="#0392f8"/><stop offset="0.9687" stop-color="#078bf1"/><stop offset="0.9869" stop-color="#078bf1"/><stop offset="0.9889" stop-color="#0c82e8"/><stop offset="0.999" stop-color="#0c82e8"/></linearGradient>
<linearGradient id="g190" gradientUnits="userSpaceOnUse" x1="127.00" y1="0" x2="617.00" y2="0"><stop offset="0.00102" stop-color="#00a8d1"/><stop offset="0.8704" stop-color="#00a8d3"/><stop offset="0.8908" stop-color="#00a7d6"/><stop offset="0.8969" stop-color="#00a5db"/><stop offset="0.9133" stop-color="#00a5db"/><stop offset="0.9153" stop-color="#00a2e4"/><stop offset="0.9337" stop-color="#00a2e4"/><stop offset="0.9357" stop-color="#009ef1"/><stop offset="0.9541" stop-color="#009ef1"/><stop offset="0.9561" stop-color="#0197fd"/><stop offset="0.9765" stop-color="#0197fd"/><stop offset="0.9786" stop-color="#068ef4"/><stop offset="0.9969" stop-color="#068ef4"/><stop offset="0.999" stop-color="#0b84ea"/></linearGradient>
<linearGradient id="g191" gradientUnits="userSpaceOnUse" x1="127.00" y1="0" x2="617.00" y2="0"><stop offset="0.00102" stop-color="#00a8d1"/><stop offset="0.8704" stop-color="#00a8d3"/><stop offset="0.8908" stop-color="#00a7d6"/><stop offset="0.8969" stop-color="#00a5db"/><stop offset="0.9133" stop-color="#00a5db"/><stop offset="0.9153" stop-color="#00a2e4"/><stop offset="0.9337" stop-color="#00a2e4"/><stop offset="0.9357" stop-color="#009ef1"/><stop offset="0.9541" stop-color="#009ef1"/><stop offset="0.9561" stop-color="#0197fd"/><stop offset="0.9765" stop-color="#0197fd"/><stop offset="0.9786" stop-color="#068ef4"/><stop offset="0.9969" stop-color="#068ef4"/><stop offset="0.999" stop-color="#0b84ea"/></linearGradient>
<linearGradient id="g192" gradientUnits="userSpaceOnUse" x1="127.00" y1="0" x2="607.00" y2="0"><stop offset="0.001042" stop-color="#00b4ae"/><stop offset="0.8677" stop-color="#00b3b2"/><stop offset="0.8885" stop-color="#00b2b5"/><stop offset="0.8927" stop-color="#00b0bb"/><stop offset="0.9094" stop-color="#00b0bb"/><stop offset="0.9115" stop-color="#00acc5"/><stop offset="0.9323" stop-color="#00acc5"/><stop offset="0.9344" stop-color="#00a7d4"/><stop offset="0.9531" stop-color="#00a7d4"/><stop offset="0.9552" stop-color="#00a1e7"/><stop offset="0.974" stop-color="#00a1e7"/><stop offset="0.976" stop-color="#009afd"/><stop offset="0.9969" stop-color="#009afd"/><stop offset="0.999" stop-color="#058ff5"/></linearGradient>
<linearGradient id="g193" gradientUnits="userSpaceOnUse" x1="127.00" y1="0" x2="607.00" y2="0"><stop offset="0.001042" stop-color="#00b4ae"/><stop offset="0.8677" stop-color="#00b3b2"/><stop offset="0.8885" stop-color="#00b2b5"/><stop offset="0.8927" stop-color="#00b0bb"/><stop offset="0.9094" stop-color="#00b0bb"/><stop offset="0.9115" stop-color="#00acc5"/><stop offset="0.9323" stop-color="#00acc5"/><stop offset="0.9344" stop-color="#00a7d4"/><stop offset="0.9531" stop-color="#00a7d4"/><stop offset="0.9552" stop-color="#00a1e7"/><stop offset="0.974" stop-color="#00a1e7"/><stop offset="0.976" stop-color="#009afd"/><stop offset="0.9969" stop-color="#009afd"/><stop offset="0.999" stop-color="#058ff5"/></linearGradient>
<linearGradient id="g194" gradientUnits="userSpaceOnUse" x1="127.00" y1="0" x2="596.00" y2="0"><stop offset="0.001066" stop-color="#00bf8c"/><stop offset="0.8433" stop-color="#00bf8e"/><stop offset="0.8667" stop-color="#00be90"/><stop offset="0.8817" stop-color="#00bd94"/><stop offset="0.8881" stop-color="#00bd94"/><stop offset="0.8902" stop-color="#00ba9b"/><stop offset="0.9094" stop-color="#00ba9b"/><stop offset="0.9115" stop-color="#00b6a7"/><stop offset="0.9307" stop-color="#00b6a7"/><stop offset="0.9328" stop-color="#00b1b7"/><stop offset="0.9542" stop-color="#00b1b7"/><stop offset="0.9563" stop-color="#00aacc"/><stop offset="0.9755" stop-color="#00aacc"/><stop offset="0.9776" stop-color="#00a3e2"/><stop offset="0.9968" stop-color="#00a3e2"/><stop offset="0.9989" stop-color="#009afb"/></linearGradient>
<linearGradient id="g195" gradientUnits="userSpaceOnUse" x1="127.00" y1="0" x2="596.00" y2="0"><stop offset="0.001066" stop-color="#00bf8c"/><stop offset="0.8433" stop-color="#00bf8e"/><stop offset="0.8667" stop-color="#00be90"/><stop offset="0.8817" stop-color="#00bd94"/><stop offset="0.8881" stop-color="#00bd94"/><stop offset="0.8902" stop-color="#00ba9b"/><stop offset="0.9094" stop-color="#00ba9b"/><stop offset="0.9115" stop-color="#00b6a7"/><stop offset="0.9307" stop-color="#00b6a7"/><stop offset="0.9328" stop-color="#00b1b7"/><stop offset="0.9542" stop-color="#00b1b7"/><stop offset="0.9563" stop-color="#00aacc"/><stop offset="0.9755" stop-color="#00aacc"/><stop offset="0.9776" stop-color="#00a3e2"/><stop offset="0.9968" stop-color="#00a3e2"/><stop offset="0.9989" stop-color="#009afb"/></linearGradient>
<linearGradient id="g196" gradientUnits="userSpaceOnUse" x1="127.00" y1="0" x2="586.00" y2="0"><stop offset="0.001089" stop-color="#00cb69"/><stop offset="0.8399" stop-color="#00ca6c"/><stop offset="0.8617" stop-color="#00c96f"/><stop offset="0.8682" stop-color="#00c774"/><stop offset="0.8856" stop-color="#00c774"/><stop offset="0.8878" stop-color="#00c57c"/><stop offset="0.9074" stop-color="#00c57c"/><stop offset="0.9096" stop-color="#00c089"/><stop offset="0.9292" stop-color="#00c089"/><stop offset="0.9314" stop-color="#00ba9b"/><stop offset="0.951" stop-color="#00ba9b"/><stop offset="0.9532" stop-color="#00b3b0"/><stop offset="0.9749" stop-color="#00b3b0"/><stop offset="0.9771" stop-color="#00abc8"/><stop offset="0.9967" stop-color="#00abc8"/><stop offset="0.9989" stop-color="#00a3e1"/></linearGradient>
<linearGradient id="g197" gradientUnits="userSpaceOnUse" x1="127.00" y1="0" x2="576.00" y2="0"><stop offset="0.001114" stop-color="#15d06a"/><stop offset="0.8363" stop-color="#13d06a"/><stop offset="0.8808" stop-color="#0cce68"/><stop offset="0.8853" stop-color="#06cd67"/><stop offset="0.9053" stop-color="#06cd67"/><stop offset="0.9098" stop-color="#00ca6c"/><stop offset="0.9276" stop-color="#00ca6c"/><stop offset="0.9298" stop-color="#00c380"/><stop offset="0.9499" stop-color="#00c380"/><stop offset="0.9521" stop-color="#00bc96"/><stop offset="0.9722" stop-color="#00bc96"/><stop offset="0.9744" stop-color="#00b4ae"/><stop offset="0.9967" stop-color="#00b4ae"/><stop offset="0.9989" stop-color="#00acc6"/></linearGradient>
<linearGradient id="g198" gradientUnits="userSpaceOnUse" x1="127.00" y1="0" x2="576.00" y2="0"><stop offset="0.001114" stop-color="#15d06a"/><stop offset="0.8363" stop-color="#13d06a"/><stop offset="0.8808" stop-color="#0cce68"/><stop offset="0.8853" stop-color="#06cd67"/><stop offset="0.9053" stop-color="#06cd67"/><stop offset="0.9098" stop-color="#00ca6c"/><stop offset="0.9276" stop-color="#00ca6c"/><stop offset="0.9298" stop-color="#00c380"/><stop offset="0.9499" stop-color="#00c380"/><stop offset="0.9521" stop-color="#00bc96"/><stop offset="0.9722" stop-color="#00bc96"/><stop offset="0.9744" stop-color="#00b4ae"/><stop offset="0.9967" stop-color="#00b4ae"/><stop offset="0.9989" stop-color="#00acc6"/></linearGradient>
<linearGradient id="g199" gradientUnits="userSpaceOnUse" x1="127.00" y1="0" x2="555.00" y2="0"><stop offset="0.001168" stop-color="#2cd56f"/><stop offset="0.8516" stop-color="#29d46e"/><stop offset="0.8773" stop-color="#26d46e"/><stop offset="0.8843" stop-color="#21d36d"/><stop offset="0.9007" stop-color="#21d36d"/><stop offset="0.903" stop-color="#1ad16b"/><stop offset="0.9241" stop-color="#1ad16b"/><stop offset="0.9264" stop-color="#0fcf69"/><stop offset="0.9498" stop-color="#0fcf69"/><stop offset="0.9521" stop-color="#01cc66"/><stop offset="0.9731" stop-color="#01cc66"/><stop offset="0.9755" stop-color="#00c57b"/><stop offset="0.9965" stop-color="#00c57b"/><stop offset="0.9988" stop-color="#00bd93"/></linearGradient>
<linearGradient id="g200" gradientUnits="userSpaceOnUse" x1="127.00" y1="0" x2="555.00" y2="0"><stop offset="0.001168" stop-color="#2cd56f"/><stop offset="0.8516" stop-color="#29d46e"/><stop offset="0.8773" stop-color="#26d46e"/><stop offset="0.8843" stop-color="#21d36d"/><stop offset="0.9007" stop-color="#21d36d"/><stop offset="0.903" stop-color="#1ad16b"/><stop offset="0.9241" stop-color="#1ad16b"/><stop offset="0.9264" stop-color="#0fcf69"/><stop offset="0.9498" stop-color="#0fcf69"/><stop offset="0.9521" stop-color="#01cc66"/><stop offset="0.9731" stop-color="#01cc66"/><stop offset="0.9755" stop-color="#00c57b"/><stop offset="0.9965" stop-color="#00c57b"/><stop offset="0.9988" stop-color="#00bd93"/></linearGradient>
<linearGradient id="g201" gradientUnits="userSpaceOnUse" x1="127.00" y1="0" x2="545.00" y2="0"><stop offset="0.001196" stop-color="#43d973"/><stop offset="0.8481" stop-color="#3fd973"/><stop offset="0.872" stop-color="#3cd872"/><stop offset="0.8768" stop-color="#36d771"/><stop offset="0.8983" stop-color="#36d771"/><stop offset="0.9007" stop-color="#2dd56f"/><stop offset="0.9222" stop-color="#2dd56f"/><stop offset="0.9246" stop-color="#21d36d"/><stop offset="0.9462" stop-color="#21d36d"/><stop offset="0.9486" stop-color="#13d06a"/><stop offset="0.9725" stop-color="#13d06a"/><stop offset="0.9749" stop-color="#04cd67"/><stop offset="0.9964" stop-color="#04cd67"/><stop offset="0.9988" stop-color="#00c679"/></linearGradient>
<linearGradient id="g202" gradientUnits="userSpaceOnUse" x1="127.00" y1="0" x2="545.00" y2="0"><stop offset="0.001196" stop-color="#43d973"/><stop offset="0.8481" stop-color="#3fd973"/><stop offset="0.872" stop-color="#3cd872"/><stop offset="0.8768" stop-color="#36d771"/><stop offset="0.8983" stop-color="#36d771"/><stop offset="0.9007" stop-color="#2dd56f"/><stop offset="0.9222" stop-color="#2dd56f"/><stop offset="0.9246" stop-color="#21d36d"/><stop offset="0.9462" stop-color="#21d36d"/><stop offset="0.9486" stop-color="#13d06a"/><stop offset="0.9725" stop-color="#13d06a"/><stop offset="0.9749" stop-color="#04cd67"/><stop offset="0.9964" stop-color="#04cd67"/><stop offset="0.9988" stop-color="#00c679"/></linearGradient>
<linearGradient id="g203" gradientUnits="userSpaceOnUse" x1="127.00" y1="0" x2="524.00" y2="0"><stop offset="0.001259" stop-color="#5ade78"/><stop offset="0.8678" stop-color="#56dd77"/><stop offset="0.8904" stop-color="#52dc76"/><stop offset="0.9005" stop-color="#4bdb75"/><stop offset="0.9181" stop-color="#4bdb75"/><stop offset="0.9207" stop-color="#41d973"/><stop offset="0.9458" stop-color="#41d973"/><stop offset="0.9484" stop-color="#34d670"/><stop offset="0.971" stop-color="#34d670"/><stop offset="0.9736" stop-color="#25d36d"/><stop offset="0.9962" stop-color="#25d36d"/><stop offset="0.9987" stop-color="#15d06a"/></linearGradient>
<linearGradient id="g204" gradientUnits="userSpaceOnUse" x1="127.00" y1="0" x2="524.00" y2="0"><stop offset="0.001259" stop-color="#5ade78"/><stop offset="0.8678" stop-color="#56dd77"/><stop offset="0.8904" stop-color="#52dc76"/><stop offset="0.9005" stop-color="#4bdb75"/><stop offset="0.9181" stop-color="#4bdb75"/><stop offset="0.9207" stop-color="#41d973"/><stop offset="0.9458" stop-color="#41d973"/><stop offset="0.9484" stop-color="#34d670"/><stop offset="0.971" stop-color="#34d670"/><stop offset="0.9736" stop-color="#25d36d"/><stop offset="0.9962" stop-color="#25d36d"/><stop offset="0.9987" stop-color="#15d06a"/></linearGradient>
<linearGradient id="g205" gradientUnits="userSpaceOnUse" x1="127.00" y1="0" x2="514.00" y2="0"><stop offset="0.001292" stop-color="#71e37d"/><stop offset="0.8359" stop-color="#6ee27c"/><stop offset="0.8643" stop-color="#6ce27c"/><stop offset="0.8747" stop-color="#67e17b"/><stop offset="0.8902" stop-color="#67e17b"/><stop offset="0.8928" stop-color="#5fdf79"/><stop offset="0.916" stop-color="#5fdf79"/><stop offset="0.9186" stop-color="#54dd77"/><stop offset="0.9419" stop-color="#54dd77"/><stop offset="0.9444" stop-color="#47da74"/><stop offset="0.9703" stop-color="#47da74"/><stop offset="0.9729" stop-color="#37d771"/><stop offset="0.9961" stop-color="#37d771"/><stop offset="0.9987" stop-color="#27d46e"/></linearGradient>
<linearGradient id="g206" gradientUnits="userSpaceOnUse" x1="127.00" y1="0" x2="504.00" y2="0"><stop offset="0.001326" stop-color="#88e781"/><stop offset="0.8316" stop-color="#85e781"/><stop offset="0.8581" stop-color="#81e680"/><stop offset="0.8634" stop-color="#7ce57f"/><stop offset="0.8873" stop-color="#7ce57f"/><stop offset="0.8899" stop-color="#73e37d"/><stop offset="0.9138" stop-color="#73e37d"/><stop offset="0.9164" stop-color="#68e17b"/><stop offset="0.9403" stop-color="#68e17b"/><stop offset="0.943" stop-color="#59de78"/><stop offset="0.9668" stop-color="#59de78"/><stop offset="0.9695" stop-color="#49db75"/><stop offset="0.996" stop-color="#49db75"/><stop offset="0.9987" stop-color="#38d771"/></linearGradient>
<linearGradient id="g207" gradientUnits="userSpaceOnUse" x1="127.00" y1="0" x2="504.00" y2="0"><stop offset="0.001326" stop-color="#88e781"/><stop offset="0.8316" stop-color="#85e781"/><stop offset="0.8581" stop-color="#81e680"/><stop offset="0.8634" stop-color="#7ce57f"/><stop offset="0.8873" stop-color="#7ce57f"/><stop offset="0.8899" stop-color="#73e37d"/><stop offset="0.9138" stop-color="#73e37d"/><stop offset="0.9164" stop-color="#68e17b"/><stop offset="0.9403" stop-color="#68e17b"/><stop offset="0.943" stop-color="#59de78"/><stop offset="0.9668" stop-color="#59de78"/><stop offset="0.9695" stop-color="#49db75"/><stop offset="0.996" stop-color="#49db75"/><stop offset="0.9987" stop-color="#38d771"/></linearGradient>
<linearGradient id="g208" gradientUnits="userSpaceOnUse" x1="127.00" y1="0" x2="483.00" y2="0"><stop offset="0.001404" stop-color="#9eec86"/><stop offset="0.8525" stop-color="#9beb85"/><stop offset="0.8806" stop-color="#97ea84"/><stop offset="0.8862" stop-color="#91e983"/><stop offset="0.9087" stop-color="#91e983"/><stop offset="0.9115" stop-color="#87e781"/><stop offset="0.9396" stop-color="#87e781"/><stop offset="0.9424" stop-color="#7ae47e"/><stop offset="0.9677" stop-color="#7ae47e"/><stop offset="0.9705" stop-color="#6ce27c"/><stop offset="0.9958" stop-color="#6ce27c"/><stop offset="0.9986" stop-color="#5bde78"/></linearGradient>
<linearGradient id="g209" gradientUnits="userSpaceOnUse" x1="127.00" y1="0" x2="483.00" y2="0"><stop offset="0.001404" stop-color="#9eec86"/><stop offset="0.8525" stop-color="#9beb85"/><stop offset="0.8806" stop-color="#97ea84"/><stop offset="0.8862" stop-color="#91e983"/><stop offset="0.9087" stop-color="#91e983"/><stop offset="0.9115" stop-color="#87e781"/><stop offset="0.9396" stop-color="#87e781"/><stop offset="0.9424" stop-color="#7ae47e"/><stop offset="0.9677" stop-color="#7ae47e"/><stop offset="0.9705" stop-color="#6ce27c"/><stop offset="0.9958" stop-color="#6ce27c"/><stop offset="0.9986" stop-color="#5bde78"/></linearGradient>
<linearGradient id="g210" gradientUnits="userSpaceOnUse" x1="127.00" y1="0" x2="473.00" y2="0"><stop offset="0.001445" stop-color="#b5f08a"/><stop offset="0.8165" stop-color="#b3f08a"/><stop offset="0.8454" stop-color="#b1ef89"/><stop offset="0.8598" stop-color="#adef89"/><stop offset="0.8772" stop-color="#adef89"/><stop offset="0.8801" stop-color="#a5ed87"/><stop offset="0.9061" stop-color="#a5ed87"/><stop offset="0.909" stop-color="#9beb85"/><stop offset="0.935" stop-color="#9beb85"/><stop offset="0.9379" stop-color="#8de882"/><stop offset="0.9668" stop-color="#8de882"/><stop offset="0.9697" stop-color="#7ee57f"/><stop offset="0.9957" stop-color="#7ee57f"/><stop offset="0.9986" stop-color="#6de27c"/></linearGradient>
<linearGradient id="g211" gradientUnits="userSpaceOnUse" x1="127.00" y1="0" x2="473.00" y2="0"><stop offset="0.001445" stop-color="#b5f08a"/><stop offset="0.8165" stop-color="#b3f08a"/><stop offset="0.8454" stop-color="#b1ef89"/><stop offset="0.8598" stop-color="#adef89"/><stop offset="0.8772" stop-color="#adef89"/><stop offset="0.8801" stop-color="#a5ed87"/><stop offset="0.9061" stop-color="#a5ed87"/><stop offset="0.909" stop-color="#9beb85"/><stop offset="0.935" stop-color="#9beb85"/><stop offset="0.9379" stop-color="#8de882"/><stop offset="0.9668" stop-color="#8de882"/><stop offset="0.9697" stop-color="#7ee57f"/><stop offset="0.9957" stop-color="#7ee57f"/><stop offset="0.9986" stop-color="#6de27c"/></linearGradient>
<linearGradient id="g212" gradientUnits="userSpaceOnUse" x1="127.00" y1="0" x2="463.00" y2="0"><stop offset="0.001488" stop-color="#ccf58f"/><stop offset="0.811" stop-color="#caf48e"/><stop offset="0.8408" stop-color="#c7f48e"/><stop offset="0.8497" stop-color="#c2f38d"/><stop offset="0.8705" stop-color="#c2f38d"/><stop offset="0.8735" stop-color="#b9f18b"/><stop offset="0.9033" stop-color="#b9f18b"/><stop offset="0.9062" stop-color="#aeef89"/><stop offset="0.933" stop-color="#aeef89"/><stop offset="0.936" stop-color="#a0ec86"/><stop offset="0.9628" stop-color="#a0ec86"/><stop offset="0.9658" stop-color="#90e983"/><stop offset="0.9955" stop-color="#90e983"/><stop offset="0.9985" stop-color="#7fe57f"/></linearGradient>
<linearGradient id="g213" gradientUnits="userSpaceOnUse" x1="127.00" y1="0" x2="463.00" y2="0"><stop offset="0.001488" stop-color="#ccf58f"/><stop offset="0.811" stop-color="#caf48e"/><stop offset="0.8408" stop-color="#c7f48e"/><stop offset="0.8497" stop-color="#c2f38d"/><stop offset="0.8705" stop-color="#c2f38d"/><stop offset="0.8735" stop-color="#b9f18b"/><stop offset="0.9033" stop-color="#b9f18b"/><stop offset="0.9062" stop-color="#aeef89"/><stop offset="0.933" stop-color="#aeef89"/><stop offset="0.936" stop-color="#a0ec86"/><stop offset="0.9628" stop-color="#a0ec86"/><stop offset="0.9658" stop-color="#90e983"/><stop offset="0.9955" stop-color="#90e983"/><stop offset="0.9985" stop-color="#7fe57f"/></linearGradient>
<linearGradient id="g214" gradientUnits="userSpaceOnUse" x1="127.00" y1="0" x2="442.00" y2="0"><stop offset="0.001587" stop-color="#e3f993"/><stop offset="0.8333" stop-color="#e0f993"/><stop offset="0.8651" stop-color="#ddf892"/><stop offset="0.8714" stop-color="#d7f791"/><stop offset="0.8968" stop-color="#d7f791"/><stop offset="0.9" stop-color="#cdf58f"/><stop offset="0.9286" stop-color="#cdf58f"/><stop offset="0.9317" stop-color="#c1f38d"/><stop offset="0.9635" stop-color="#c1f38d"/><stop offset="0.9667" stop-color="#b2f08a"/><stop offset="0.9952" stop-color="#b2f08a"/><stop offset="0.9984" stop-color="#a2ec86"/></linearGradient>
<linearGradient id="g215" gradientUnits="userSpaceOnUse" x1="127.00" y1="0" x2="432.00" y2="0"><stop offset="0.001639" stop-color="#f8fe98"/><stop offset="0.8246" stop-color="#f5fd97"/><stop offset="0.8607" stop-color="#f1fc96"/><stop offset="0.8672" stop-color="#ebfb95"/><stop offset="0.8934" stop-color="#ebfb95"/><stop offset="0.8967" stop-color="#e0f993"/><stop offset="0.9262" stop-color="#e0f993"/><stop offset="0.9295" stop-color="#d3f690"/><stop offset="0.959" stop-color="#d3f690"/><stop offset="0.9623" stop-color="#c4f38d"/><stop offset="0.9951" stop-color="#c4f38d"/><stop offset="0.9984" stop-color="#b4f08a"/></linearGradient>
<linearGradient id="g216" gradientUnits="userSpaceOnUse" x1="127.00" y1="0" x2="432.00" y2="0"><stop offset="0.001639" stop-color="#f8fe98"/><stop offset="0.8246" stop-color="#f5fd97"/><stop offset="0.8607" stop-color="#f1fc96"/><stop offset="0.8672" stop-color="#ebfb95"/><stop offset="0.8934" stop-color="#ebfb95"/><stop offset="0.8967" stop-color="#e0f993"/><stop offset="0.9262" stop-color="#e0f993"/><stop offset="0.9295" stop-color="#d3f690"/><stop offset="0.959" stop-color="#d3f690"/><stop offset="0.9623" stop-color="#c4f38d"/><stop offset="0.9951" stop-color="#c4f38d"/><stop offset="0.9984" stop-color="#b4f08a"/></linearGradient>
<linearGradient id="g217" gradientUnits="userSpaceOnUse" x1="127.00" y1="0" x2="421.00" y2="0"><stop offset="0.001701" stop-color="#f8f795"/><stop offset="0.8214" stop-color="#faf996"/><stop offset="0.8929" stop-color="#ffff99"/><stop offset="0.8963" stop-color="#f4fd97"/><stop offset="0.9269" stop-color="#f4fd97"/><stop offset="0.9303" stop-color="#e6fa94"/><stop offset="0.9609" stop-color="#e6fa94"/><stop offset="0.9643" stop-color="#d6f791"/><stop offset="0.9949" stop-color="#d6f791"/><stop offset="0.9983" stop-color="#c6f48e"/></linearGradient>
<linearGradient id="g218" gradientUnits="userSpaceOnUse" x1="127.00" y1="0" x2="421.00" y2="0"><stop offset="0.001701" stop-color="#f8f795"/><stop offset="0.8214" stop-color="#faf996"/><stop offset="0.8929" stop-color="#ffff99"/><stop offset="0.8963" stop-color="#f4fd97"/><stop offset="0.9269" stop-color="#f4fd97"/><stop offset="0.9303" stop-color="#e6fa94"/><stop offset="0.9609" stop-color="#e6fa94"/><stop offset="0.9643" stop-color="#d6f791"/><stop offset="0.9949" stop-color="#d6f791"/><stop offset="0.9983" stop-color="#c6f48e"/></linearGradient>
<linearGradient id="g219" gradientUnits="userSpaceOnUse" x1="127.00" y1="0" x2="411.00" y2="0"><stop offset="0.001761" stop-color="#eeea90"/><stop offset="0.8151" stop-color="#f0ec91"/><stop offset="0.8504" stop-color="#f2ee92"/><stop offset="0.8644" stop-color="#f5f394"/><stop offset="0.8856" stop-color="#f5f394"/><stop offset="0.8926" stop-color="#fbf997"/><stop offset="0.9243" stop-color="#fbf997"/><stop offset="0.9384" stop-color="#f9fe98"/><stop offset="0.9595" stop-color="#f9fe98"/><stop offset="0.963" stop-color="#e8fa94"/><stop offset="0.9947" stop-color="#e8fa94"/><stop offset="0.9982" stop-color="#d8f791"/></linearGradient>
<linearGradient id="g220" gradientUnits="userSpaceOnUse" x1="127.00" y1="0" x2="411.00" y2="0"><stop offset="0.001761" stop-color="#eeea90"/><stop offset="0.8151" stop-color="#f0ec91"/><stop offset="0.8504" stop-color="#f2ee92"/><stop offset="0.8644" stop-color="#f5f394"/><stop offset="0.8856" stop-color="#f5f394"/><stop offset="0.8926" stop-color="#fbf997"/><stop offset="0.9243" stop-color="#fbf997"/><stop offset="0.9384" stop-color="#f9fe98"/><stop offset="0.9595" stop-color="#f9fe98"/><stop offset="0.963" stop-color="#e8fa94"/><stop offset="0.9947" stop-color="#e8fa94"/><stop offset="0.9982" stop-color="#d8f791"/></linearGradient>
<linearGradient id="g221" gradientUnits="userSpaceOnUse" x1="127.00" y1="0" x2="401.00" y2="0"><stop offset="0.001825" stop-color="#e4dd8b"/><stop offset="0.8047" stop-color="#e6df8b"/><stop offset="0.8449" stop-color="#e8e18d"/><stop offset="0.8595" stop-color="#ebe68e"/><stop offset="0.8814" stop-color="#ebe68e"/><stop offset="0.8887" stop-color="#f1ed91"/><stop offset="0.9179" stop-color="#f1ed91"/><stop offset="0.9215" stop-color="#f8f695"/><stop offset="0.958" stop-color="#f8f695"/><stop offset="0.9617" stop-color="#fcfe98"/><stop offset="0.9945" stop-color="#fcfe98"/><stop offset="0.9982" stop-color="#eafb95"/></linearGradient>
<linearGradient id="g222" gradientUnits="userSpaceOnUse" x1="127.00" y1="0" x2="401.00" y2="0"><stop offset="0.001825" stop-color="#e4dd8b"/><stop offset="0.8047" stop-color="#e6df8b"/><stop offset="0.8449" stop-color="#e8e18d"/><stop offset="0.8595" stop-color="#ebe68e"/><stop offset="0.8814" stop-color="#ebe68e"/><stop offset="0.8887" stop-color="#f1ed91"/><stop offset="0.9179" stop-color="#f1ed91"/><stop offset="0.9215" stop-color="#f8f695"/><stop offset="0.958" stop-color="#f8f695"/><stop offset="0.9617" stop-color="#fcfe98"/><stop offset="0.9945" stop-color="#fcfe98"/><stop offset="0.9982" stop-color="#eafb95"/></linearGradient>
<linearGradient id="g223" gradientUnits="userSpaceOnUse" x1="127.00" y1="0" x2="380.00" y2="0"><stop offset="0.001976" stop-color="#dad085"/><stop offset="0.832" stop-color="#dcd286"/><stop offset="0.8715" stop-color="#ded587"/><stop offset="0.8874" stop-color="#e1d989"/><stop offset="0.915" stop-color="#e1d989"/><stop offset="0.919" stop-color="#e7e08c"/><stop offset="0.9545" stop-color="#e7e08c"/><stop offset="0.9585" stop-color="#eeea90"/><stop offset="0.9941" stop-color="#eeea90"/><stop offset="0.998" stop-color="#f7f595"/></linearGradient>
<linearGradient id="g224" gradientUnits="userSpaceOnUse" x1="127.00" y1="0" x2="380.00" y2="0"><stop offset="0.001976" stop-color="#dad085"/><stop offset="0.832" stop-color="#dcd286"/><stop offset="0.8715" stop-color="#ded587"/><stop offset="0.8874" stop-color="#e1d989"/><stop offset="0.915" stop-color="#e1d989"/><stop offset="0.919" stop-color="#e7e08c"/><stop offset="0.9545" stop-color="#e7e08c"/><stop offset="0.9585" stop-color="#eeea90"/><stop offset="0.9941" stop-color="#eeea90"/><stop offset="0.998" stop-color="#f7f595"/></linearGradient>
<linearGradient id="g225" gradientUnits="userSpaceOnUse" x1="127.00" y1="0" x2="370.00" y2="0"><stop offset="0.002058" stop-color="#d0c380"/><stop offset="0.8251" stop-color="#d2c581"/><stop offset="0.8663" stop-color="#d4c882"/><stop offset="0.8827" stop-color="#d8cd84"/><stop offset="0.9074" stop-color="#d8cd84"/><stop offset="0.9115" stop-color="#ddd487"/><stop offset="0.9527" stop-color="#ddd487"/><stop offset="0.9568" stop-color="#e5dd8b"/><stop offset="0.9938" stop-color="#e5dd8b"/><stop offset="0.9979" stop-color="#ede88f"/></linearGradient>
<linearGradient id="g226" gradientUnits="userSpaceOnUse" x1="127.00" y1="0" x2="360.00" y2="0"><stop offset="0.002146" stop-color="#c6b67a"/><stop offset="0.8133" stop-color="#c8b97b"/><stop offset="0.8605" stop-color="#cabb7c"/><stop offset="0.8734" stop-color="#cec07e"/><stop offset="0.9034" stop-color="#cec07e"/><stop offset="0.9077" stop-color="#d3c781"/><stop offset="0.9464" stop-color="#d3c781"/><stop offset="0.9506" stop-color="#dbd185"/><stop offset="0.9936" stop-color="#dbd185"/><stop offset="0.9979" stop-color="#e3dc8a"/></linearGradient>
<linearGradient id="g227" gradientUnits="userSpaceOnUse" x1="127.00" y1="0" x2="360.00" y2="0"><stop offset="0.002146" stop-color="#c6b67a"/><stop offset="0.8133" stop-color="#c8b97b"/><stop offset="0.8605" stop-color="#cabb7c"/><stop offset="0.8734" stop-color="#cec07e"/><stop offset="0.9034" stop-color="#cec07e"/><stop offset="0.9077" stop-color="#d3c781"/><stop offset="0.9464" stop-color="#d3c781"/><stop offset="0.9506" stop-color="#dbd185"/><stop offset="0.9936" stop-color="#dbd185"/><stop offset="0.9979" stop-color="#e3dc8a"/></linearGradient>
<linearGradient id="g228" gradientUnits="userSpaceOnUse" x1="127.00" y1="0" x2="349.00" y2="0"><stop offset="0.002252" stop-color="#bca975"/><stop offset="0.8086" stop-color="#beac76"/><stop offset="0.8536" stop-color="#c0ae77"/><stop offset="0.8671" stop-color="#c4b379"/><stop offset="0.9032" stop-color="#c4b379"/><stop offset="0.9077" stop-color="#cabb7c"/><stop offset="0.9482" stop-color="#cabb7c"/><stop offset="0.9527" stop-color="#d1c480"/><stop offset="0.9932" stop-color="#d1c480"/><stop offset="0.9977" stop-color="#dacf85"/></linearGradient>
<linearGradient id="g229" gradientUnits="userSpaceOnUse" x1="127.00" y1="0" x2="349.00" y2="0"><stop offset="0.002252" stop-color="#bca975"/><stop offset="0.8086" stop-color="#beac76"/><stop offset="0.8536" stop-color="#c0ae77"/><stop offset="0.8671" stop-color="#c4b379"/><stop offset="0.9032" stop-color="#c4b379"/><stop offset="0.9077" stop-color="#cabb7c"/><stop offset="0.9482" stop-color="#cabb7c"/><stop offset="0.9527" stop-color="#d1c480"/><stop offset="0.9932" stop-color="#d1c480"/><stop offset="0.9977" stop-color="#dacf85"/></linearGradient>
<linearGradient id="g230" gradientUnits="userSpaceOnUse" x1="127.00" y1="0" x2="339.00" y2="0"><stop offset="0.002358" stop-color="#b29d6f"/><stop offset="0.7995" stop-color="#b49f71"/><stop offset="0.8467" stop-color="#b6a272"/><stop offset="0.8608" stop-color="#baa774"/><stop offset="0.8939" stop-color="#baa774"/><stop offset="0.8986" stop-color="#c0ae77"/><stop offset="0.9458" stop-color="#c0ae77"/><stop offset="0.9505" stop-color="#c7b87b"/><stop offset="0.9929" stop-color="#c7b87b"/><stop offset="0.9976" stop-color="#d0c380"/></linearGradient>
<linearGradient id="g231" gradientUnits="userSpaceOnUse" x1="127.00" y1="0" x2="339.00" y2="0"><stop offset="0.002358" stop-color="#b29d6f"/><stop offset="0.7995" stop-color="#b49f71"/><stop offset="0.8467" stop-color="#b6a272"/><stop offset="0.8608" stop-color="#baa774"/><stop offset="0.8939" stop-color="#baa774"/><stop offset="0.8986" stop-color="#c0ae77"/><stop offset="0.9458" stop-color="#c0ae77"/><stop offset="0.9505" stop-color="#c7b87b"/><stop offset="0.9929" stop-color="#c7b87b"/><stop offset="0.9976" stop-color="#d0c380"/></linearGradient>
<linearGradient id="g232" gradientUnits="userSpaceOnUse" x1="127.00" y1="0" x2="329.00" y2="0"><stop offset="0.002475" stop-color="#a8906a"/><stop offset="0.7896" stop-color="#aa926b"/><stop offset="0.8391" stop-color="#ac956c"/><stop offset="0.854" stop-color="#b09a6e"/><stop offset="0.8886" stop-color="#b09a6e"/><stop offset="0.8936" stop-color="#b6a172"/><stop offset="0.9381" stop-color="#b6a172"/><stop offset="0.9431" stop-color="#bdab76"/><stop offset="0.9926" stop-color="#bdab76"/><stop offset="0.9975" stop-color="#c6b67a"/></linearGradient>
<linearGradient id="g233" gradientUnits="userSpaceOnUse" x1="127.00" y1="0" x2="329.00" y2="0"><stop offset="0.002475" stop-color="#a8906a"/><stop offset="0.7896" stop-color="#aa926b"/><stop offset="0.8391" stop-color="#ac956c"/><stop offset="0.854" stop-color="#b09a6e"/><stop offset="0.8886" stop-color="#b09a6e"/><stop offset="0.8936" stop-color="#b6a172"/><stop offset="0.9381" stop-color="#b6a172"/><stop offset="0.9431" stop-color="#bdab76"/><stop offset="0.9926" stop-color="#bdab76"/><stop offset="0.9975" stop-color="#c6b67a"/></linearGradient>
<linearGradient id="g234" gradientUnits="userSpaceOnUse" x1="127.00" y1="0" x2="318.00" y2="0"><stop offset="0.002618" stop-color="#9e8365"/><stop offset="0.7775" stop-color="#a08566"/><stop offset="0.8351" stop-color="#a28867"/><stop offset="0.8508" stop-color="#a68d69"/><stop offset="0.8874" stop-color="#a68d69"/><stop offset="0.8927" stop-color="#ac956c"/><stop offset="0.9398" stop-color="#ac956c"/><stop offset="0.945" stop-color="#b49f70"/><stop offset="0.9921" stop-color="#b49f70"/><stop offset="0.9974" stop-color="#bcaa75"/></linearGradient>
<linearGradient id="g235" gradientUnits="userSpaceOnUse" x1="127.00" y1="0" x2="308.00" y2="0"><stop offset="0.002762" stop-color="#94765f"/><stop offset="0.7652" stop-color="#967960"/><stop offset="0.8204" stop-color="#987c62"/><stop offset="0.837" stop-color="#9c8164"/><stop offset="0.8812" stop-color="#9c8164"/><stop offset="0.8867" stop-color="#a28867"/><stop offset="0.9365" stop-color="#a28867"/><stop offset="0.942" stop-color="#aa926b"/><stop offset="0.9917" stop-color="#aa926b"/><stop offset="0.9972" stop-color="#b39d70"/></linearGradient>
<linearGradient id="g236" gradientUnits="userSpaceOnUse" x1="127.00" y1="0" x2="308.00" y2="0"><stop offset="0.002762" stop-color="#94765f"/><stop offset="0.7652" stop-color="#967960"/><stop offset="0.8204" stop-color="#987c62"/><stop offset="0.837" stop-color="#9c8164"/><stop offset="0.8812" stop-color="#9c8164"/><stop offset="0.8867" stop-color="#a28867"/><stop offset="0.9365" stop-color="#a28867"/><stop offset="0.942" stop-color="#aa926b"/><stop offset="0.9917" stop-color="#aa926b"/><stop offset="0.9972" stop-color="#b39d70"/></linearGradient>
<linearGradient id="g237" gradientUnits="userSpaceOnUse" x1="127.00" y1="0" x2="298.00" y2="0"><stop offset="0.002924" stop-color="#8a695a"/><stop offset="0.7515" stop-color="#8c6c5b"/><stop offset="0.8099" stop-color="#8e6f5c"/><stop offset="0.8275" stop-color="#92745e"/><stop offset="0.8684" stop-color="#92745e"/><stop offset="0.8743" stop-color="#987c62"/><stop offset="0.9327" stop-color="#987c62"/><stop offset="0.9386" stop-color="#a08666"/><stop offset="0.9912" stop-color="#a08666"/><stop offset="0.9971" stop-color="#a9916b"/></linearGradient>
<linearGradient id="g238" gradientUnits="userSpaceOnUse" x1="127.00" y1="0" x2="298.00" y2="0"><stop offset="0.002924" stop-color="#8a695a"/><stop offset="0.7515" stop-color="#8c6c5b"/><stop offset="0.8099" stop-color="#8e6f5c"/><stop offset="0.8275" stop-color="#92745e"/><stop offset="0.8684" stop-color="#92745e"/><stop offset="0.8743" stop-color="#987c62"/><stop offset="0.9327" stop-color="#987c62"/><stop offset="0.9386" stop-color="#a08666"/><stop offset="0.9912" stop-color="#a08666"/><stop offset="0.9971" stop-color="#a9916b"/></linearGradient>
<linearGradient id="g239" gradientUnits="userSpaceOnUse" x1="127.00" y1="0" x2="277.00" y2="0"><stop offset="0.003333" stop-color="#805c54"/><stop offset="0.7833" stop-color="#825f56"/><stop offset="0.8567" stop-color="#846257"/><stop offset="0.87" stop-color="#896759"/><stop offset="0.9233" stop-color="#896759"/><stop offset="0.93" stop-color="#8f6f5c"/><stop offset="0.99" stop-color="#8f6f5c"/><stop offset="0.9967" stop-color="#967961"/></linearGradient>
<linearGradient id="g240" gradientUnits="userSpaceOnUse" x1="127.00" y1="0" x2="277.00" y2="0"><stop offset="0.003333" stop-color="#805c54"/><stop offset="0.7833" stop-color="#825f56"/><stop offset="0.8567" stop-color="#846257"/><stop offset="0.87" stop-color="#896759"/><stop offset="0.9233" stop-color="#896759"/><stop offset="0.93" stop-color="#8f6f5c"/><stop offset="0.99" stop-color="#8f6f5c"/><stop offset="0.9967" stop-color="#967961"/></linearGradient>
<linearGradient id="g241" gradientUnits="userSpaceOnUse" x1="916.00" y1="0" x2="1402.00" y2="0"><stop offset="0.001029" stop-color="#ffffff"/><stop offset="0.3508" stop-color="#815d55"/><stop offset="0.6636" stop-color="#eae48e"/><stop offset="0.678" stop-color="#fdff99"/><stop offset="0.7047" stop-color="#b7f18b"/><stop offset="0.7377" stop-color="#7fe57f"/><stop offset="0.7809" stop-color="#54dd77"/><stop offset="0.8467" stop-color="#34d670"/><stop offset="0.9455" stop-color="#24d36d"/><stop offset="0.999" stop-color="#21d36d"/></linearGradient>
<linearGradient id="g242" gradientUnits="userSpaceOnUse" x1="916.00" y1="0" x2="1371.00" y2="0"><stop offset="0.001099" stop-color="#28d46e"/><stop offset="0.9813" stop-color="#24d36d"/><stop offset="0.9989" stop-color="#23d36d"/></linearGradient>
<linearGradient id="g243" gradientUnits="userSpaceOnUse" x1="916.00" y1="0" x2="1365.00" y2="0"><stop offset="0.001114" stop-color="#2cd56f"/><stop offset="0.9388" stop-color="#28d46e"/><stop offset="0.9989" stop-color="#24d36d"/></linearGradient>
<linearGradient id="g244" gradientUnits="userSpaceOnUse" x1="916.00" y1="0" x2="1360.00" y2="0"><stop offset="0.001126" stop-color="#30d670"/><stop offset="0.9133" stop-color="#2cd56f"/><stop offset="0.9989" stop-color="#25d36d"/></linearGradient>
<linearGradient id="g245" gradientUnits="userSpaceOnUse" x1="916.00" y1="0" x2="1356.00" y2="0"><stop offset="0.001136" stop-color="#34d670"/><stop offset="0.892" stop-color="#30d670"/><stop offset="0.9989" stop-color="#26d46e"/></linearGradient>
<linearGradient id="g246" gradientUnits="userSpaceOnUse" x1="916.00" y1="0" x2="1353.00" y2="0"><stop offset="0.001144" stop-color="#37d771"/><stop offset="0.8707" stop-color="#34d670"/><stop offset="0.9989" stop-color="#27d46e"/></linearGradient>
<linearGradient id="g247" gradientUnits="userSpaceOnUse" x1="916.00" y1="0" x2="1351.00" y2="0"><stop offset="0.001149" stop-color="#3ad872"/><stop offset="0.8448" stop-color="#39d771"/><stop offset="0.9989" stop-color="#27d46e"/></linearGradient>
<linearGradient id="g248" gradientUnits="userSpaceOnUse" x1="916.00" y1="0" x2="1348.00" y2="0"><stop offset="0.001157" stop-color="#3bd872"/><stop offset="0.8252" stop-color="#3ed872"/><stop offset="0.9988" stop-color="#28d46e"/></linearGradient>
<linearGradient id="g249" gradientUnits="userSpaceOnUse" x1="916.00" y1="0" x2="1346.00" y2="0"><stop offset="0.001163" stop-color="#3dd872"/><stop offset="0.8081" stop-color="#42d973"/><stop offset="0.9988" stop-color="#29d46e"/></linearGradient>
<linearGradient id="g250" gradientUnits="userSpaceOnUse" x1="916.00" y1="0" x2="1344.00" y2="0"><stop offset="0.001168" stop-color="#3fd973"/><stop offset="0.7909" stop-color="#47da74"/><stop offset="0.9404" stop-color="#34d670"/><stop offset="0.9988" stop-color="#2ad46e"/></linearGradient>
<linearGradient id="g251" gradientUnits="userSpaceOnUse" x1="916.00" y1="0" x2="1342.00" y2="0"><stop offset="0.001174" stop-color="#41d973"/><stop offset="0.5927" stop-color="#4ddb75"/><stop offset="0.8462" stop-color="#47da74"/><stop offset="0.9988" stop-color="#2bd56f"/></linearGradient>
<linearGradient id="g252" gradientUnits="userSpaceOnUse" x1="916.00" y1="0" x2="1340.00" y2="0"><stop offset="0.001179" stop-color="#43d973"/><stop offset="0.52" stop-color="#4edc76"/><stop offset="0.7936" stop-color="#50dc76"/><stop offset="0.921" stop-color="#3cd872"/><stop offset="0.9988" stop-color="#2cd56f"/></linearGradient>
<linearGradient id="g253" gradientUnits="userSpaceOnUse" x1="916.00" y1="0" x2="1338.00" y2="0"><stop offset="0.001185" stop-color="#45da74"/><stop offset="0.4893" stop-color="#51dc76"/><stop offset="0.731" stop-color="#58de78"/><stop offset="0.8709" stop-color="#4bdb75"/><stop offset="0.9988" stop-color="#2dd56f"/></linearGradient>
<linearGradient id="g254" gradientUnits="userSpaceOnUse" x1="916.00" y1="0" x2="1336.00" y2="0"><stop offset="0.00119" stop-color="#47da74"/><stop offset="0.4655" stop-color="#53dd77"/><stop offset="0.6988" stop-color="#5edf79"/><stop offset="0.8512" stop-color="#54dd77"/><stop offset="0.9988" stop-color="#2ed56f"/></linearGradient>
<linearGradient id="g255" gradientUnits="userSpaceOnUse" x1="916.00" y1="0" x2="1334.00" y2="0"><stop offset="0.001196" stop-color="#49db75"/><stop offset="0.4438" stop-color="#55dd77"/><stop offset="0.6878" stop-color="#64e07a"/><stop offset="0.8433" stop-color="#59de78"/><stop offset="0.9988" stop-color="#2fd56f"/></linearGradient>
<linearGradient id="g256" gradientUnits="userSpaceOnUse" x1="916.00" y1="0" x2="1333.00" y2="0"><stop offset="0.001199" stop-color="#4adb75"/><stop offset="0.4281" stop-color="#56dd77"/><stop offset="0.6823" stop-color="#68e17b"/><stop offset="0.8381" stop-color="#5ddf79"/><stop offset="0.9988" stop-color="#2fd56f"/></linearGradient>
<linearGradient id="g257" gradientUnits="userSpaceOnUse" x1="916.00" y1="0" x2="1332.00" y2="0"><stop offset="0.001202" stop-color="#4bdb75"/><stop offset="0.4123" stop-color="#57dd77"/><stop offset="0.6791" stop-color="#6ce27c"/><stop offset="0.8353" stop-color="#61df79"/><stop offset="0.9988" stop-color="#30d670"/></linearGradient>
<linearGradient id="g258" gradientUnits="userSpaceOnUse" x1="916.00" y1="0" x2="1331.00" y2="0"><stop offset="0.001205" stop-color="#4cdb75"/><stop offset="0.3193" stop-color="#53dd77"/><stop offset="0.6831" stop-color="#70e27c"/><stop offset="0.8325" stop-color="#65e07a"/><stop offset="0.9988" stop-color="#31d670"/></linearGradient>
<linearGradient id="g259" gradientUnits="userSpaceOnUse" x1="916.00" y1="0" x2="1330.00" y2="0"><stop offset="0.001208" stop-color="#4cdb75"/><stop offset="0.2331" stop-color="#51dc76"/><stop offset="0.5133" stop-color="#66e07a"/><stop offset="0.6824" stop-color="#74e37d"/><stop offset="0.8297" stop-color="#69e17b"/><stop offset="0.9988" stop-color="#31d670"/></linearGradient>
<linearGradient id="g260" gradientUnits="userSpaceOnUse" x1="916.00" y1="0" x2="1329.00" y2="0"><stop offset="0.001211" stop-color="#4bdb75"/><stop offset="0.2288" stop-color="#51dc76"/><stop offset="0.5194" stop-color="#6ae17b"/><stop offset="0.6792" stop-color="#79e47e"/><stop offset="0.8245" stop-color="#6ee27c"/><stop offset="0.9383" stop-color="#44da74"/><stop offset="0.9988" stop-color="#32d670"/></linearGradient>
<linearGradient id="g261" gradientUnits="userSpaceOnUse" x1="916.00" y1="0" x2="1328.00" y2="0"><stop offset="0.001214" stop-color="#4bdb75"/><stop offset="0.2245" stop-color="#51dc76"/><stop offset="0.5231" stop-color="#6ee27c"/><stop offset="0.676" stop-color="#7de57f"/><stop offset="0.8192" stop-color="#73e37d"/><stop offset="0.9114" stop-color="#51dc76"/><stop offset="0.9988" stop-color="#33d670"/></linearGradient>
<linearGradient id="g262" gradientUnits="userSpaceOnUse" x1="916.00" y1="0" x2="1327.00" y2="0"><stop offset="0.001217" stop-color="#4bdb75"/><stop offset="0.2226" stop-color="#51dc76"/><stop offset="0.5243" stop-color="#72e37d"/><stop offset="0.6727" stop-color="#82e680"/><stop offset="0.8163" stop-color="#78e47e"/><stop offset="0.9015" stop-color="#58de78"/><stop offset="0.9988" stop-color="#33d670"/></linearGradient>
<linearGradient id="g263" gradientUnits="userSpaceOnUse" x1="916.00" y1="0" x2="1325.00" y2="0"><stop offset="0.001222" stop-color="#4bdb75"/><stop offset="0.2188" stop-color="#50dc76"/><stop offset="0.5269" stop-color="#75e37d"/><stop offset="0.6736" stop-color="#88e781"/><stop offset="0.813" stop-color="#7ee57f"/><stop offset="0.8936" stop-color="#5fdf79"/><stop offset="0.989" stop-color="#37d771"/><stop offset="0.9988" stop-color="#35d771"/></linearGradient>
<linearGradient id="g264" gradientUnits="userSpaceOnUse" x1="916.00" y1="0" x2="1323.00" y2="0"><stop offset="0.001229" stop-color="#4bdb75"/><stop offset="0.2174" stop-color="#51dc76"/><stop offset="0.5295" stop-color="#7ae47e"/><stop offset="0.672" stop-color="#8de882"/><stop offset="0.8096" stop-color="#84e680"/><stop offset="0.8857" stop-color="#67e17b"/><stop offset="0.9816" stop-color="#3bd872"/><stop offset="0.9988" stop-color="#36d771"/></linearGradient>
<linearGradient id="g265" gradientUnits="userSpaceOnUse" x1="916.00" y1="0" x2="1320.00" y2="0"><stop offset="0.001238" stop-color="#4bdb75"/><stop offset="0.2166" stop-color="#51dc76"/><stop offset="0.5309" stop-color="#7de57f"/><stop offset="0.672" stop-color="#93e983"/><stop offset="0.8057" stop-color="#8be882"/><stop offset="0.88" stop-color="#70e27c"/><stop offset="0.979" stop-color="#3fd973"/><stop offset="0.9988" stop-color="#38d771"/></linearGradient>
<linearGradient id="g266" gradientUnits="userSpaceOnUse" x1="916.00" y1="0" x2="1318.00" y2="0"><stop offset="0.001244" stop-color="#4bdb75"/><stop offset="0.2127" stop-color="#50dc76"/><stop offset="0.5286" stop-color="#81e680"/><stop offset="0.6729" stop-color="#99eb85"/><stop offset="0.8022" stop-color="#92e983"/><stop offset="0.8744" stop-color="#78e47e"/><stop offset="0.9764" stop-color="#42d973"/><stop offset="0.9988" stop-color="#3ad872"/></linearGradient>
<linearGradient id="g267" gradientUnits="userSpaceOnUse" x1="916.00" y1="0" x2="1315.00" y2="0"><stop offset="0.001253" stop-color="#4bdb75"/><stop offset="0.2118" stop-color="#50dc76"/><stop offset="0.5301" stop-color="#85e781"/><stop offset="0.6754" stop-color="#a0ec86"/><stop offset="0.8008" stop-color="#99eb85"/><stop offset="0.8709" stop-color="#80e680"/><stop offset="0.9787" stop-color="#44da74"/><stop offset="0.9987" stop-color="#3cd872"/></linearGradient>
<linearGradient id="g268" gradientUnits="userSpaceOnUse" x1="916.00" y1="0" x2="1312.00" y2="0"><stop offset="0.001263" stop-color="#4bdb75"/><stop offset="0.2159" stop-color="#50dc76"/><stop offset="0.5341" stop-color="#89e781"/><stop offset="0.678" stop-color="#a7ed87"/><stop offset="0.7992" stop-color="#a0ec86"/><stop offset="0.8699" stop-color="#88e781"/><stop offset="0.9785" stop-color="#47da74"/><stop offset="0.9987" stop-color="#3fd973"/></linearGradient>
<linearGradient id="g269" gradientUnits="userSpaceOnUse" x1="916.00" y1="0" x2="1308.00" y2="0"><stop offset="0.001276" stop-color="#4bdb75"/><stop offset="0.213" stop-color="#45da74"/><stop offset="0.2691" stop-color="#5cde78"/><stop offset="0.5319" stop-color="#8ce882"/><stop offset="0.6798" stop-color="#aeef89"/><stop offset="0.7972" stop-color="#a8ee88"/><stop offset="0.8686" stop-color="#91e983"/><stop offset="0.9834" stop-color="#4adb75"/><stop offset="0.9987" stop-color="#43d973"/></linearGradient>
<linearGradient id="g270" gradientUnits="userSpaceOnUse" x1="916.00" y1="0" x2="1305.00" y2="0"><stop offset="0.001285" stop-color="#46da74"/><stop offset="0.1941" stop-color="#39d771"/><stop offset="0.2326" stop-color="#46da74"/><stop offset="0.2995" stop-color="#62e07a"/><stop offset="0.5386" stop-color="#92e983"/><stop offset="0.6851" stop-color="#b6f08a"/><stop offset="0.7982" stop-color="#b0ef89"/><stop offset="0.8702" stop-color="#98ea84"/><stop offset="0.9859" stop-color="#4cdb75"/><stop offset="0.9987" stop-color="#46da74"/></linearGradient>
<linearGradient id="g271" gradientUnits="userSpaceOnUse" x1="916.00" y1="0" x2="1301.00" y2="0"><stop offset="0.001299" stop-color="#3bd872"/><stop offset="0.1935" stop-color="#2fd56f"/><stop offset="0.2351" stop-color="#3ed872"/><stop offset="0.326" stop-color="#67e17b"/><stop offset="0.5442" stop-color="#97ea84"/><stop offset="0.6896" stop-color="#bef28c"/><stop offset="0.7987" stop-color="#b9f18b"/><stop offset="0.874" stop-color="#a0ec86"/><stop offset="0.9909" stop-color="#4fdc76"/><stop offset="0.9987" stop-color="#4bdb75"/></linearGradient>
<linearGradient id="g272" gradientUnits="userSpaceOnUse" x1="916.00" y1="0" x2="1298.00" y2="0"><stop offset="0.001309" stop-color="#31d670"/><stop offset="0.1898" stop-color="#24d36d"/><stop offset="0.2317" stop-color="#33d670"/><stop offset="0.3285" stop-color="#63e07a"/><stop offset="0.428" stop-color="#7fe57f"/><stop offset="0.5589" stop-color="#a0ec86"/><stop offset="0.695" stop-color="#c6f48e"/><stop offset="0.7997" stop-color="#c2f38d"/><stop offset="0.8757" stop-color="#a8ee88"/><stop offset="0.9908" stop-color="#54dd77"/><stop offset="0.9987" stop-color="#50dc76"/></linearGradient>
<linearGradient id="g273" gradientUnits="userSpaceOnUse" x1="916.00" y1="0" x2="1294.00" y2="0"><stop offset="0.001323" stop-color="#26d46e"/><stop offset="0.1839" stop-color="#1ad16b"/><stop offset="0.2315" stop-color="#29d46e"/><stop offset="0.3214" stop-color="#59de78"/><stop offset="0.414" stop-color="#7fe57f"/><stop offset="0.5516" stop-color="#a2ec86"/><stop offset="0.6997" stop-color="#cff58f"/><stop offset="0.8003" stop-color="#cbf58f"/><stop offset="0.8743" stop-color="#b3f08a"/><stop offset="0.9378" stop-color="#81e680"/><stop offset="0.9987" stop-color="#56dd77"/></linearGradient>
<linearGradient id="g274" gradientUnits="userSpaceOnUse" x1="916.00" y1="0" x2="1290.00" y2="0"><stop offset="0.001337" stop-color="#1cd26c"/><stop offset="0.1805" stop-color="#0fcf69"/><stop offset="0.2259" stop-color="#1cd26c"/><stop offset="0.3195" stop-color="#52dc76"/><stop offset="0.4291" stop-color="#85e781"/><stop offset="0.5548" stop-color="#a7ed87"/><stop offset="0.7045" stop-color="#d8f791"/><stop offset="0.8008" stop-color="#d6f791"/><stop offset="0.8757" stop-color="#bdf28c"/><stop offset="0.9265" stop-color="#96ea84"/><stop offset="0.9987" stop-color="#5cde78"/></linearGradient>
<linearGradient id="g275" gradientUnits="userSpaceOnUse" x1="916.00" y1="0" x2="1286.00" y2="0"><stop offset="0.001351" stop-color="#12d06a"/><stop offset="0.1716" stop-color="#07cd67"/><stop offset="0.2176" stop-color="#11cf69"/><stop offset="0.3365" stop-color="#53dd77"/><stop offset="0.3905" stop-color="#73e37d"/><stop offset="0.4419" stop-color="#8be882"/><stop offset="0.5608" stop-color="#adef89"/><stop offset="0.7122" stop-color="#e2f993"/><stop offset="0.8068" stop-color="#e0f993"/><stop offset="0.8797" stop-color="#c6f48e"/><stop offset="0.9284" stop-color="#a1ec86"/><stop offset="0.9986" stop-color="#64e07a"/></linearGradient>
<linearGradient id="g276" gradientUnits="userSpaceOnUse" x1="916.00" y1="0" x2="1283.00" y2="0"><stop offset="0.001362" stop-color="#08ce68"/><stop offset="0.1839" stop-color="#01cc66"/><stop offset="0.2248" stop-color="#0dcf69"/><stop offset="0.3202" stop-color="#46da74"/><stop offset="0.3747" stop-color="#63e07a"/><stop offset="0.4373" stop-color="#8de882"/><stop offset="0.5572" stop-color="#b0ef89"/><stop offset="0.7153" stop-color="#edfb95"/><stop offset="0.8052" stop-color="#ebfb95"/><stop offset="0.876" stop-color="#d3f690"/><stop offset="0.9251" stop-color="#aeef89"/><stop offset="0.9986" stop-color="#6ae17b"/></linearGradient>
<linearGradient id="g277" gradientUnits="userSpaceOnUse" x1="916.00" y1="0" x2="1279.00" y2="0"><stop offset="0.001377" stop-color="#00cc66"/><stop offset="0.1667" stop-color="#00c872"/><stop offset="0.2107" stop-color="#00cc67"/><stop offset="0.3292" stop-color="#45da74"/><stop offset="0.3788" stop-color="#61df79"/><stop offset="0.4421" stop-color="#92e983"/><stop offset="0.5579" stop-color="#b4f08a"/><stop offset="0.7231" stop-color="#f8fe98"/><stop offset="0.8113" stop-color="#f7fd97"/><stop offset="0.8802" stop-color="#def892"/><stop offset="0.9298" stop-color="#b8f18b"/><stop offset="0.9986" stop-color="#74e37d"/></linearGradient>
<linearGradient id="g278" gradientUnits="userSpaceOnUse" x1="916.00" y1="0" x2="1274.00" y2="0"><stop offset="0.001397" stop-color="#00c970"/><stop offset="0.1662" stop-color="#00c47d"/><stop offset="0.2109" stop-color="#00c873"/><stop offset="0.2304" stop-color="#02cc66"/><stop offset="0.3254" stop-color="#3ed872"/><stop offset="0.3813" stop-color="#5cde78"/><stop offset="0.4483" stop-color="#96ea84"/><stop offset="0.5628" stop-color="#baf18b"/><stop offset="0.7193" stop-color="#fefd98"/><stop offset="0.8142" stop-color="#fbfa97"/><stop offset="0.8534" stop-color="#fcfe98"/><stop offset="0.9148" stop-color="#d8f791"/><stop offset="0.9986" stop-color="#81e680"/></linearGradient>
<linearGradient id="g279" gradientUnits="userSpaceOnUse" x1="916.00" y1="0" x2="1270.00" y2="0"><stop offset="0.001412" stop-color="#00c57b"/><stop offset="0.1681" stop-color="#00c188"/><stop offset="0.2133" stop-color="#00c47d"/><stop offset="0.2415" stop-color="#01cc66"/><stop offset="0.3263" stop-color="#3ad872"/><stop offset="0.3828" stop-color="#58de78"/><stop offset="0.4534" stop-color="#9beb85"/><stop offset="0.5664" stop-color="#bff28c"/><stop offset="0.6992" stop-color="#fefe98"/><stop offset="0.7556" stop-color="#f2ef92"/><stop offset="0.846" stop-color="#f6f494"/><stop offset="0.8884" stop-color="#fcfe98"/><stop offset="0.9393" stop-color="#d1f690"/><stop offset="0.9986" stop-color="#8de882"/></linearGradient>
<linearGradient id="g280" gradientUnits="userSpaceOnUse" x1="916.00" y1="0" x2="1266.00" y2="0"><stop offset="0.001429" stop-color="#00c186"/><stop offset="0.1671" stop-color="#00bd93"/><stop offset="0.2157" stop-color="#00c187"/><stop offset="0.2529" stop-color="#02cc66"/><stop offset="0.33" stop-color="#37d771"/><stop offset="0.3871" stop-color="#57dd77"/><stop offset="0.4586" stop-color="#9fec86"/><stop offset="0.57" stop-color="#c5f38d"/><stop offset="0.6843" stop-color="#fefe99"/><stop offset="0.7529" stop-color="#eae48e"/><stop offset="0.8471" stop-color="#ede88f"/><stop offset="0.9129" stop-color="#fdff99"/><stop offset="0.9614" stop-color="#c8f48e"/><stop offset="0.9986" stop-color="#9aeb85"/></linearGradient>
<linearGradient id="g281" gradientUnits="userSpaceOnUse" x1="916.00" y1="0" x2="1287.00" y2="0"><stop offset="0.001348" stop-color="#00be90"/><stop offset="0.1739" stop-color="#00b99f"/><stop offset="0.2035" stop-color="#00bb99"/><stop offset="0.2385" stop-color="#00c774"/><stop offset="0.252" stop-color="#03cd67"/><stop offset="0.3113" stop-color="#32d670"/><stop offset="0.3652" stop-color="#55dd77"/><stop offset="0.4299" stop-color="#a3ed87"/><stop offset="0.5323" stop-color="#caf48e"/><stop offset="0.6267" stop-color="#fdfd98"/><stop offset="0.6833" stop-color="#e9e38d"/><stop offset="0.8235" stop-color="#ebe58e"/><stop offset="0.872" stop-color="#fcfe98"/><stop offset="0.9555" stop-color="#8ce882"/><stop offset="0.9987" stop-color="#65e07a"/></linearGradient>
<linearGradient id="g282" gradientUnits="userSpaceOnUse" x1="916.00" y1="0" x2="1291.00" y2="0"><stop offset="0.001333" stop-color="#00ba9b"/><stop offset="0.09733" stop-color="#00b5aa"/><stop offset="0.1587" stop-color="#00b1b6"/><stop offset="0.2013" stop-color="#00b4af"/><stop offset="0.2387" stop-color="#00c382"/><stop offset="0.26" stop-color="#02cc66"/><stop offset="0.308" stop-color="#2ad46e"/><stop offset="0.3613" stop-color="#50dc76"/><stop offset="0.4253" stop-color="#a9ee88"/><stop offset="0.524" stop-color="#d0f690"/><stop offset="0.6013" stop-color="#fdfd98"/><stop offset="0.652" stop-color="#e9e38d"/><stop offset="0.8147" stop-color="#e8e28d"/><stop offset="0.8413" stop-color="#efeb91"/><stop offset="0.8653" stop-color="#fffe99"/><stop offset="0.9427" stop-color="#91e983"/><stop offset="0.9987" stop-color="#5ddf79"/></linearGradient>
<linearGradient id="g283" gradientUnits="userSpaceOnUse" x1="916.00" y1="0" x2="1294.00" y2="0"><stop offset="0.001323" stop-color="#00b7a5"/><stop offset="0.1521" stop-color="#00aacd"/><stop offset="0.1971" stop-color="#00acc7"/><stop offset="0.2368" stop-color="#00bd93"/><stop offset="0.2685" stop-color="#02cc66"/><stop offset="0.3108" stop-color="#26d46e"/><stop offset="0.3585" stop-color="#4adb75"/><stop offset="0.422" stop-color="#aeef89"/><stop offset="0.5172" stop-color="#d6f791"/><stop offset="0.578" stop-color="#fefe99"/><stop offset="0.623" stop-color="#e9e38d"/><stop offset="0.7712" stop-color="#e5de8b"/><stop offset="0.8399" stop-color="#ede78f"/><stop offset="0.8638" stop-color="#feff99"/><stop offset="0.9299" stop-color="#98ea84"/><stop offset="0.9828" stop-color="#63e07a"/><stop offset="0.9987" stop-color="#58de78"/></linearGradient>
<linearGradient id="g284" gradientUnits="userSpaceOnUse" x1="916.00" y1="0" x2="1296.00" y2="0"><stop offset="0.001316" stop-color="#00b0bb"/><stop offset="0.1513" stop-color="#00a2e4"/><stop offset="0.1987" stop-color="#00a5db"/><stop offset="0.2276" stop-color="#00b1b8"/><stop offset="0.2776" stop-color="#01cc66"/><stop offset="0.3539" stop-color="#3fd973"/><stop offset="0.4197" stop-color="#b3f08a"/><stop offset="0.5118" stop-color="#dcf892"/><stop offset="0.5618" stop-color="#fefd98"/><stop offset="0.5987" stop-color="#e9e38d"/><stop offset="0.7487" stop-color="#e3db8a"/><stop offset="0.8382" stop-color="#eae48e"/><stop offset="0.8618" stop-color="#feff99"/><stop offset="0.9224" stop-color="#9deb85"/><stop offset="0.9724" stop-color="#68e17b"/><stop offset="0.9987" stop-color="#55dd77"/></linearGradient>
<linearGradient id="g285" gradientUnits="userSpaceOnUse" x1="916.00" y1="0" x2="1297.00" y2="0"><stop offset="0.001312" stop-color="#00a8d2"/><stop offset="0.1483" stop-color="#0098fe"/><stop offset="0.2008" stop-color="#009afb"/><stop offset="0.2297" stop-color="#00a8d1"/><stop offset="0.29" stop-color="#00cc67"/><stop offset="0.353" stop-color="#33d670"/><stop offset="0.4186" stop-color="#b9f18b"/><stop offset="0.5079" stop-color="#e3f993"/><stop offset="0.5472" stop-color="#fefd98"/><stop offset="0.5787" stop-color="#e9e38d"/><stop offset="0.731" stop-color="#e1d989"/><stop offset="0.8386" stop-color="#eae38d"/><stop offset="0.8622" stop-color="#feff99"/><stop offset="0.9173" stop-color="#a1ec86"/><stop offset="0.9672" stop-color="#6ae17b"/><stop offset="0.9987" stop-color="#54dd77"/></linearGradient>
<linearGradient id="g286" gradientUnits="userSpaceOnUse" x1="916.00" y1="0" x2="1298.00" y2="0"><stop offset="0.001309" stop-color="#00a1e8"/><stop offset="0.07723" stop-color="#0198fe"/><stop offset="0.161" stop-color="#0987ed"/><stop offset="0.2003" stop-color="#078cf2"/><stop offset="0.2212" stop-color="#0099fe"/><stop offset="0.2893" stop-color="#00c47d"/><stop offset="0.3102" stop-color="#02cc66"/><stop offset="0.3521" stop-color="#28d46e"/><stop offset="0.4175" stop-color="#bff28c"/><stop offset="0.5065" stop-color="#ebfb95"/><stop offset="0.5327" stop-color="#fefe99"/><stop offset="0.5615" stop-color="#e9e38d"/><stop offset="0.716" stop-color="#dfd688"/><stop offset="0.8364" stop-color="#e9e38d"/><stop offset="0.8626" stop-color="#fdff99"/><stop offset="0.9123" stop-color="#a6ed87"/><stop offset="0.9594" stop-color="#6fe27c"/><stop offset="0.9987" stop-color="#52dc76"/></linearGradient>
<linearGradient id="g287" gradientUnits="userSpaceOnUse" x1="916.00" y1="0" x2="1299.00" y2="0"><stop offset="0.001305" stop-color="#0099fe"/><stop offset="0.158" stop-color="#1177dd"/><stop offset="0.1971" stop-color="#0f7be1"/><stop offset="0.2363" stop-color="#009afd"/><stop offset="0.2885" stop-color="#00bd93"/><stop offset="0.3251" stop-color="#02cc66"/><stop offset="0.3512" stop-color="#1dd26c"/><stop offset="0.4164" stop-color="#c5f38d"/><stop offset="0.5026" stop-color="#f2fc96"/><stop offset="0.5183" stop-color="#ffff99"/><stop offset="0.5444" stop-color="#e9e38d"/><stop offset="0.701" stop-color="#ddd487"/><stop offset="0.8264" stop-color="#e7e08c"/><stop offset="0.8446" stop-color="#eee990"/><stop offset="0.8603" stop-color="#fefe99"/><stop offset="0.9151" stop-color="#9fec86"/><stop offset="0.9621" stop-color="#6be17b"/><stop offset="0.9987" stop-color="#51dc76"/></linearGradient>
<linearGradient id="g288" gradientUnits="userSpaceOnUse" x1="916.00" y1="0" x2="1300.00" y2="0"><stop offset="0.001302" stop-color="#0889ef"/><stop offset="0.1549" stop-color="#1966cc"/><stop offset="0.1966" stop-color="#176bd1"/><stop offset="0.2487" stop-color="#009afd"/><stop offset="0.2878" stop-color="#00b6a9"/><stop offset="0.3372" stop-color="#02cc66"/><stop offset="0.3503" stop-color="#11cf69"/><stop offset="0.4154" stop-color="#cbf58f"/><stop offset="0.4987" stop-color="#f9fe98"/><stop offset="0.5091" stop-color="#fbfa97"/><stop offset="0.5299" stop-color="#e9e38d"/><stop offset="0.6784" stop-color="#dcd286"/><stop offset="0.8086" stop-color="#e4dc8a"/><stop offset="0.8424" stop-color="#ebe68e"/><stop offset="0.8607" stop-color="#feff99"/><stop offset="0.9049" stop-color="#acee88"/><stop offset="0.9492" stop-color="#75e37d"/><stop offset="0.9987" stop-color="#50dc76"/></linearGradient>
<linearGradient id="g289" gradientUnits="userSpaceOnUse" x1="916.00" y1="0" x2="1301.00" y2="0"><stop offset="0.001299" stop-color="#1079df"/><stop offset="0.1519" stop-color="#2256bc"/><stop offset="0.1961" stop-color="#1f5cc2"/><stop offset="0.2584" stop-color="#0099ff"/><stop offset="0.287" stop-color="#00aebf"/><stop offset="0.3468" stop-color="#02cc66"/><stop offset="0.4143" stop-color="#d2f690"/><stop offset="0.4922" stop-color="#fefe99"/><stop offset="0.5156" stop-color="#e9e38d"/><stop offset="0.6532" stop-color="#dbd185"/><stop offset="0.7857" stop-color="#e0d788"/><stop offset="0.8429" stop-color="#ece78f"/><stop offset="0.8584" stop-color="#fefe98"/><stop offset="0.9078" stop-color="#a4ed87"/><stop offset="0.9545" stop-color="#6de27c"/><stop offset="0.9987" stop-color="#4edc76"/></linearGradient>
<linearGradient id="g290" gradientUnits="userSpaceOnUse" x1="916.00" y1="0" x2="1301.00" y2="0"><stop offset="0.001299" stop-color="#1869cf"/><stop offset="0.1519" stop-color="#2a46ac"/><stop offset="0.1961" stop-color="#264db3"/><stop offset="0.2688" stop-color="#009afd"/><stop offset="0.287" stop-color="#00a8d2"/><stop offset="0.3468" stop-color="#00c872"/><stop offset="0.3519" stop-color="#07cd67"/><stop offset="0.4143" stop-color="#d9f791"/><stop offset="0.4792" stop-color="#ffff99"/><stop offset="0.5026" stop-color="#e9e38d"/><stop offset="0.6325" stop-color="#dad085"/><stop offset="0.7649" stop-color="#dcd386"/><stop offset="0.8429" stop-color="#ebe58e"/><stop offset="0.861" stop-color="#feff99"/><stop offset="0.9026" stop-color="#adef89"/><stop offset="0.9468" stop-color="#75e37d"/><stop offset="0.9987" stop-color="#4edc76"/></linearGradient>
<linearGradient id="g291" gradientUnits="userSpaceOnUse" x1="916.00" y1="0" x2="1302.00" y2="0"><stop offset="0.001295" stop-color="#2059bf"/><stop offset="0.1127" stop-color="#2c40a6"/><stop offset="0.1982" stop-color="#2c41a7"/><stop offset="0.2733" stop-color="#0197fd"/><stop offset="0.2785" stop-color="#009cf5"/><stop offset="0.3044" stop-color="#00acc7"/><stop offset="0.3459" stop-color="#00c380"/><stop offset="0.351" stop-color="#00cb69"/><stop offset="0.4106" stop-color="#daf892"/><stop offset="0.421" stop-color="#e4fa94"/><stop offset="0.465" stop-color="#fffe99"/><stop offset="0.4883" stop-color="#e9e38d"/><stop offset="0.6153" stop-color="#d9cf85"/><stop offset="0.7474" stop-color="#dacf85"/><stop offset="0.8407" stop-color="#eae48d"/><stop offset="0.8588" stop-color="#ffff99"/><stop offset="0.9003" stop-color="#aeef89"/><stop offset="0.9443" stop-color="#75e37d"/><stop offset="0.9987" stop-color="#4ddb75"/></linearGradient>
<linearGradient id="g292" gradientUnits="userSpaceOnUse" x1="916.00" y1="0" x2="1302.00" y2="0"><stop offset="0.001295" stop-color="#2849af"/><stop offset="0.07383" stop-color="#2d3fa5"/><stop offset="0.2034" stop-color="#2d40a6"/><stop offset="0.2215" stop-color="#254fb5"/><stop offset="0.2811" stop-color="#0098fe"/><stop offset="0.3459" stop-color="#00bf8e"/><stop offset="0.3536" stop-color="#00cc66"/><stop offset="0.4106" stop-color="#e2f993"/><stop offset="0.4184" stop-color="#eafb95"/><stop offset="0.4521" stop-color="#fefe99"/><stop offset="0.4754" stop-color="#e9e38d"/><stop offset="0.6049" stop-color="#d8cd84"/><stop offset="0.737" stop-color="#d8cd84"/><stop offset="0.8407" stop-color="#e9e38d"/><stop offset="0.8588" stop-color="#fefd98"/><stop offset="0.9054" stop-color="#a6ed87"/><stop offset="0.9495" stop-color="#70e27c"/><stop offset="0.9987" stop-color="#4ddb75"/></linearGradient>
<linearGradient id="g293" gradientUnits="userSpaceOnUse" x1="916.00" y1="0" x2="1302.00" y2="0"><stop offset="0.001295" stop-color="#2d40a6"/><stop offset="0.1956" stop-color="#2f3ca2"/><stop offset="0.2215" stop-color="#2b43a9"/><stop offset="0.2889" stop-color="#0197fd"/><stop offset="0.294" stop-color="#009afb"/><stop offset="0.3459" stop-color="#00ba9b"/><stop offset="0.351" stop-color="#00c381"/><stop offset="0.3562" stop-color="#03cd67"/><stop offset="0.4106" stop-color="#e9fb95"/><stop offset="0.4184" stop-color="#f2fc96"/><stop offset="0.4391" stop-color="#fefe98"/><stop offset="0.4598" stop-color="#e9e38d"/><stop offset="0.5946" stop-color="#d6cb83"/><stop offset="0.7293" stop-color="#d6ca83"/><stop offset="0.8407" stop-color="#e9e38d"/><stop offset="0.8614" stop-color="#fdff99"/><stop offset="0.8977" stop-color="#b3f08a"/><stop offset="0.9391" stop-color="#7be57f"/><stop offset="0.9935" stop-color="#50dc76"/><stop offset="0.9987" stop-color="#4ddb75"/></linearGradient>
<linearGradient id="g294" gradientUnits="userSpaceOnUse" x1="916.00" y1="0" x2="1303.00" y2="0"><stop offset="0.001292" stop-color="#2e3da3"/><stop offset="0.1977" stop-color="#2f3aa0"/><stop offset="0.2313" stop-color="#2a45ab"/><stop offset="0.2881" stop-color="#058ff5"/><stop offset="0.301" stop-color="#0099fe"/><stop offset="0.345" stop-color="#00b6a8"/><stop offset="0.3501" stop-color="#00bf8d"/><stop offset="0.3553" stop-color="#00ca6b"/><stop offset="0.3605" stop-color="#13d06a"/><stop offset="0.4096" stop-color="#f1fc96"/><stop offset="0.4173" stop-color="#fafe98"/><stop offset="0.4276" stop-color="#faf996"/><stop offset="0.4457" stop-color="#e9e38d"/><stop offset="0.5879" stop-color="#d5c982"/><stop offset="0.7222" stop-color="#d4c882"/><stop offset="0.8411" stop-color="#eae48d"/><stop offset="0.8592" stop-color="#feff99"/><stop offset="0.8953" stop-color="#b4f08a"/><stop offset="0.9367" stop-color="#7be57f"/><stop offset="0.991" stop-color="#50dc76"/><stop offset="0.9987" stop-color="#4cdb75"/></linearGradient>
<linearGradient id="g295" gradientUnits="userSpaceOnUse" x1="916.00" y1="0" x2="1303.00" y2="0"><stop offset="0.001292" stop-color="#2f3aa0"/><stop offset="0.1977" stop-color="#30389e"/><stop offset="0.239" stop-color="#2a45ab"/><stop offset="0.2881" stop-color="#0987ed"/><stop offset="0.3088" stop-color="#0099ff"/><stop offset="0.332" stop-color="#00aacb"/><stop offset="0.345" stop-color="#00b6a7"/><stop offset="0.3501" stop-color="#00c188"/><stop offset="0.3553" stop-color="#02cc66"/><stop offset="0.3941" stop-color="#b7f18b"/><stop offset="0.4096" stop-color="#fcfe98"/><stop offset="0.4302" stop-color="#e9e38d"/><stop offset="0.5775" stop-color="#d3c781"/><stop offset="0.7145" stop-color="#d3c681"/><stop offset="0.8333" stop-color="#e7e18c"/><stop offset="0.8463" stop-color="#efeb90"/><stop offset="0.8592" stop-color="#ffff99"/><stop offset="0.8953" stop-color="#b4f08a"/><stop offset="0.9367" stop-color="#7be57f"/><stop offset="0.991" stop-color="#50dc76"/><stop offset="0.9987" stop-color="#4cdb75"/></linearGradient>
<linearGradient id="g296" gradientUnits="userSpaceOnUse" x1="916.00" y1="0" x2="1303.00" y2="0"><stop offset="0.001292" stop-color="#30389e"/><stop offset="0.1977" stop-color="#31369c"/><stop offset="0.2442" stop-color="#2b42a8"/><stop offset="0.2959" stop-color="#078bf1"/><stop offset="0.3062" stop-color="#0198fe"/><stop offset="0.3165" stop-color="#00a2e5"/><stop offset="0.345" stop-color="#00be8f"/><stop offset="0.3501" stop-color="#00c96f"/><stop offset="0.3527" stop-color="#07cd67"/><stop offset="0.3863" stop-color="#a4ed87"/><stop offset="0.3966" stop-color="#d4f690"/><stop offset="0.4044" stop-color="#fefe99"/><stop offset="0.4121" stop-color="#ebe58e"/><stop offset="0.5517" stop-color="#d3c781"/><stop offset="0.699" stop-color="#d0c380"/><stop offset="0.8178" stop-color="#e3dc8a"/><stop offset="0.8437" stop-color="#ebe68e"/><stop offset="0.8592" stop-color="#ffff99"/><stop offset="0.8979" stop-color="#b0ef89"/><stop offset="0.9393" stop-color="#78e47e"/><stop offset="0.9935" stop-color="#4fdc76"/><stop offset="0.9987" stop-color="#4cdb75"/></linearGradient>
<linearGradient id="g297" gradientUnits="userSpaceOnUse" x1="916.00" y1="0" x2="1303.00" y2="0"><stop offset="0.001292" stop-color="#31369c"/><stop offset="0.2054" stop-color="#31369c"/><stop offset="0.2494" stop-color="#2a44aa"/><stop offset="0.2881" stop-color="#078af0"/><stop offset="0.2984" stop-color="#0098fe"/><stop offset="0.3372" stop-color="#00c285"/><stop offset="0.345" stop-color="#00cb6a"/><stop offset="0.3501" stop-color="#13d06a"/><stop offset="0.3811" stop-color="#a6ed87"/><stop offset="0.3966" stop-color="#feff99"/><stop offset="0.4044" stop-color="#ebe58e"/><stop offset="0.5" stop-color="#d7cc83"/><stop offset="0.6473" stop-color="#cdbf7e"/><stop offset="0.7636" stop-color="#d7cc84"/><stop offset="0.8437" stop-color="#ebe68e"/><stop offset="0.8592" stop-color="#fefe99"/><stop offset="0.8979" stop-color="#b0ef89"/><stop offset="0.9393" stop-color="#78e47e"/><stop offset="0.9935" stop-color="#4fdc76"/><stop offset="0.9987" stop-color="#4cdb75"/></linearGradient>
<linearGradient id="g298" gradientUnits="userSpaceOnUse" x1="916.00" y1="0" x2="1303.00" y2="0"><stop offset="0.001292" stop-color="#32349a"/><stop offset="0.2106" stop-color="#31379d"/><stop offset="0.2442" stop-color="#2b43a9"/><stop offset="0.2881" stop-color="#0099ff"/><stop offset="0.332" stop-color="#00cb6a"/><stop offset="0.345" stop-color="#1cd26c"/><stop offset="0.3656" stop-color="#7ce57f"/><stop offset="0.3863" stop-color="#f5fd97"/><stop offset="0.3889" stop-color="#fdfc98"/><stop offset="0.3966" stop-color="#e9e38d"/><stop offset="0.4612" stop-color="#dad085"/><stop offset="0.6085" stop-color="#ccbe7d"/><stop offset="0.7274" stop-color="#d1c480"/><stop offset="0.8437" stop-color="#ebe58e"/><stop offset="0.8592" stop-color="#fefe99"/><stop offset="0.8979" stop-color="#b0ef89"/><stop offset="0.9393" stop-color="#78e47e"/><stop offset="0.9935" stop-color="#4fdc76"/><stop offset="0.9987" stop-color="#4cdb75"/></linearGradient>
<linearGradient id="g299" gradientUnits="userSpaceOnUse" x1="916.00" y1="0" x2="1303.00" y2="0"><stop offset="0.001292" stop-color="#333399"/><stop offset="0.2054" stop-color="#31369c"/><stop offset="0.2364" stop-color="#2c41a7"/><stop offset="0.2778" stop-color="#0099fe"/><stop offset="0.2933" stop-color="#00adc2"/><stop offset="0.3191" stop-color="#01cc66"/><stop offset="0.3475" stop-color="#49db75"/><stop offset="0.376" stop-color="#f6fd97"/><stop offset="0.3786" stop-color="#fcfc98"/><stop offset="0.3863" stop-color="#e9e38d"/><stop offset="0.438" stop-color="#dbd185"/><stop offset="0.593" stop-color="#cbbc7d"/><stop offset="0.7145" stop-color="#cec17f"/><stop offset="0.8411" stop-color="#e9e38d"/><stop offset="0.8592" stop-color="#fefe99"/><stop offset="0.8979" stop-color="#afef89"/><stop offset="0.9393" stop-color="#78e47e"/><stop offset="0.9935" stop-color="#4fdc76"/><stop offset="0.9987" stop-color="#4cdb75"/></linearGradient>
<linearGradient id="g300" gradientUnits="userSpaceOnUse" x1="916.00" y1="0" x2="1303.00" y2="0"><stop offset="0.001292" stop-color="#333399"/><stop offset="0.1977" stop-color="#31369c"/><stop offset="0.2287" stop-color="#2b43a9"/><stop offset="0.2674" stop-color="#0099fe"/><stop offset="0.2829" stop-color="#00b2b3"/><stop offset="0.3036" stop-color="#00cc66"/><stop offset="0.332" stop-color="#47da74"/><stop offset="0.3475" stop-color="#8fe983"/><stop offset="0.3656" stop-color="#fdff99"/><stop offset="0.3734" stop-color="#eae48e"/><stop offset="0.4276" stop-color="#d9cf85"/><stop offset="0.5879" stop-color="#c9ba7c"/><stop offset="0.7119" stop-color="#cdbf7e"/><stop offset="0.8437" stop-color="#eae58e"/><stop offset="0.8592" stop-color="#fefe99"/><stop offset="0.9005" stop-color="#abee88"/><stop offset="0.9419" stop-color="#76e47e"/><stop offset="0.9987" stop-color="#4cdb75"/></linearGradient>
<linearGradient id="g301" gradientUnits="userSpaceOnUse" x1="916.00" y1="0" x2="1303.00" y2="0"><stop offset="0.001292" stop-color="#333399"/><stop offset="0.1899" stop-color="#31379d"/><stop offset="0.2183" stop-color="#2b44aa"/><stop offset="0.2545" stop-color="#0196fc"/><stop offset="0.2571" stop-color="#009bf8"/><stop offset="0.2829" stop-color="#00c678"/><stop offset="0.2881" stop-color="#01cc66"/><stop offset="0.3165" stop-color="#49db75"/><stop offset="0.3475" stop-color="#ddf892"/><stop offset="0.3527" stop-color="#fcfe98"/><stop offset="0.3605" stop-color="#eae48d"/><stop offset="0.4173" stop-color="#d8cd84"/><stop offset="0.5853" stop-color="#c7b77b"/><stop offset="0.7093" stop-color="#ccbe7e"/><stop offset="0.8437" stop-color="#eae58e"/><stop offset="0.8592" stop-color="#fefe99"/><stop offset="0.8979" stop-color="#afef89"/><stop offset="0.9393" stop-color="#78e47e"/><stop offset="0.9935" stop-color="#4fdc76"/><stop offset="0.9987" stop-color="#4cdb75"/></linearGradient>
<linearGradient id="g302" gradientUnits="userSpaceOnUse" x1="916.00" y1="0" x2="1302.00" y2="0"><stop offset="0.001295" stop-color="#333399"/><stop offset="0.1697" stop-color="#31379d"/><stop offset="0.206" stop-color="#2c42a8"/><stop offset="0.2422" stop-color="#0295fb"/><stop offset="0.2448" stop-color="#009bfa"/><stop offset="0.2733" stop-color="#00cb6a"/><stop offset="0.2811" stop-color="#16d06a"/><stop offset="0.3018" stop-color="#4edc76"/><stop offset="0.3381" stop-color="#feff99"/><stop offset="0.3484" stop-color="#e9e38d"/><stop offset="0.408" stop-color="#d6ca83"/><stop offset="0.5816" stop-color="#c5b57a"/><stop offset="0.706" stop-color="#cbbc7d"/><stop offset="0.8459" stop-color="#eae58e"/><stop offset="0.8614" stop-color="#fefe99"/><stop offset="0.9003" stop-color="#afef89"/><stop offset="0.9417" stop-color="#78e47e"/><stop offset="0.9961" stop-color="#4edc76"/><stop offset="0.9987" stop-color="#4ddb75"/></linearGradient>
<linearGradient id="g303" gradientUnits="userSpaceOnUse" x1="916.00" y1="0" x2="1302.00" y2="0"><stop offset="0.001295" stop-color="#333399"/><stop offset="0.149" stop-color="#31379d"/><stop offset="0.193" stop-color="#2b43a9"/><stop offset="0.2293" stop-color="#0197fd"/><stop offset="0.2319" stop-color="#009cf7"/><stop offset="0.2604" stop-color="#00cc67"/><stop offset="0.2837" stop-color="#47da74"/><stop offset="0.3199" stop-color="#ffff99"/><stop offset="0.3277" stop-color="#ebe68e"/><stop offset="0.3847" stop-color="#d7cb83"/><stop offset="0.5557" stop-color="#c4b379"/><stop offset="0.6904" stop-color="#c8b87b"/><stop offset="0.8329" stop-color="#e6df8c"/><stop offset="0.8484" stop-color="#eee990"/><stop offset="0.8614" stop-color="#fefe99"/><stop offset="0.9003" stop-color="#afef89"/><stop offset="0.9417" stop-color="#78e47e"/><stop offset="0.9961" stop-color="#4edc76"/><stop offset="0.9987" stop-color="#4ddb75"/></linearGradient>
<linearGradient id="g304" gradientUnits="userSpaceOnUse" x1="916.00" y1="0" x2="1302.00" y2="0"><stop offset="0.001295" stop-color="#333399"/><stop offset="0.1308" stop-color="#30399f"/><stop offset="0.1697" stop-color="#2b44aa"/><stop offset="0.1956" stop-color="#176bd1"/><stop offset="0.2163" stop-color="#0099fe"/><stop offset="0.2448" stop-color="#00c96e"/><stop offset="0.2474" stop-color="#03cd67"/><stop offset="0.2681" stop-color="#44da74"/><stop offset="0.2992" stop-color="#f3fd97"/><stop offset="0.3018" stop-color="#fefe99"/><stop offset="0.3096" stop-color="#eae48d"/><stop offset="0.3821" stop-color="#d3c681"/><stop offset="0.5635" stop-color="#c1b078"/><stop offset="0.693" stop-color="#c7b77b"/><stop offset="0.8433" stop-color="#e9e38d"/><stop offset="0.8614" stop-color="#fefe99"/><stop offset="0.9003" stop-color="#afef89"/><stop offset="0.9417" stop-color="#78e47e"/><stop offset="0.9961" stop-color="#4edc76"/><stop offset="0.9987" stop-color="#4ddb75"/></linearGradient>
<linearGradient id="g305" gradientUnits="userSpaceOnUse" x1="916.00" y1="0" x2="1302.00" y2="0"><stop offset="0.001295" stop-color="#333399"/><stop offset="0.1386" stop-color="#2c41a7"/><stop offset="0.193" stop-color="#088af0"/><stop offset="0.1982" stop-color="#0295fb"/><stop offset="0.2008" stop-color="#009afb"/><stop offset="0.2319" stop-color="#00cc66"/><stop offset="0.2526" stop-color="#43d973"/><stop offset="0.2811" stop-color="#f3fd97"/><stop offset="0.2837" stop-color="#fdfd98"/><stop offset="0.2915" stop-color="#e9e38d"/><stop offset="0.3614" stop-color="#d2c681"/><stop offset="0.5402" stop-color="#c0af77"/><stop offset="0.6775" stop-color="#c4b479"/><stop offset="0.8225" stop-color="#e4dc8a"/><stop offset="0.8459" stop-color="#eae58e"/><stop offset="0.8614" stop-color="#fefe99"/><stop offset="0.9003" stop-color="#afef89"/><stop offset="0.9417" stop-color="#78e47e"/><stop offset="0.9961" stop-color="#4edc76"/><stop offset="0.9987" stop-color="#4ddb75"/></linearGradient>
<linearGradient id="g306" gradientUnits="userSpaceOnUse" x1="916.00" y1="0" x2="1302.00" y2="0"><stop offset="0.001295" stop-color="#333399"/><stop offset="0.1075" stop-color="#2b44aa"/><stop offset="0.1541" stop-color="#1078de"/><stop offset="0.1775" stop-color="#0198fe"/><stop offset="0.1904" stop-color="#00a6d9"/><stop offset="0.2163" stop-color="#00cc67"/><stop offset="0.237" stop-color="#42d973"/><stop offset="0.2655" stop-color="#ffff99"/><stop offset="0.2733" stop-color="#e9e38d"/><stop offset="0.3329" stop-color="#d3c781"/><stop offset="0.4806" stop-color="#c1b078"/><stop offset="0.6334" stop-color="#bfad76"/><stop offset="0.7526" stop-color="#d2c580"/><stop offset="0.8459" stop-color="#ebe58e"/><stop offset="0.8614" stop-color="#fefe99"/><stop offset="0.8977" stop-color="#b3f08a"/><stop offset="0.9391" stop-color="#7be57f"/><stop offset="0.9935" stop-color="#50dc76"/><stop offset="0.9987" stop-color="#4ddb75"/></linearGradient>
<linearGradient id="g307" gradientUnits="userSpaceOnUse" x1="916.00" y1="0" x2="1301.00" y2="0"><stop offset="0.001299" stop-color="#31379d"/><stop offset="0.07143" stop-color="#2a46ac"/><stop offset="0.1494" stop-color="#0197fd"/><stop offset="0.1545" stop-color="#009df4"/><stop offset="0.1935" stop-color="#00c47f"/><stop offset="0.1987" stop-color="#00cb69"/><stop offset="0.2221" stop-color="#41d973"/><stop offset="0.2481" stop-color="#f9fe98"/><stop offset="0.2506" stop-color="#f9f796"/><stop offset="0.2558" stop-color="#e9e38d"/><stop offset="0.3078" stop-color="#d4c882"/><stop offset="0.4325" stop-color="#c2b178"/><stop offset="0.6065" stop-color="#bca975"/><stop offset="0.7234" stop-color="#cabc7d"/><stop offset="0.8481" stop-color="#ebe58e"/><stop offset="0.8636" stop-color="#fffe99"/><stop offset="0.9" stop-color="#b3f08a"/><stop offset="0.9416" stop-color="#7ae47e"/><stop offset="0.9961" stop-color="#50dc76"/><stop offset="0.9987" stop-color="#4edc76"/></linearGradient>
<linearGradient id="g308" gradientUnits="userSpaceOnUse" x1="916.00" y1="0" x2="1301.00" y2="0"><stop offset="0.001299" stop-color="#2e3ca2"/><stop offset="0.03247" stop-color="#2a45ab"/><stop offset="0.1182" stop-color="#009afd"/><stop offset="0.1494" stop-color="#00b4af"/><stop offset="0.1753" stop-color="#00cc67"/><stop offset="0.1987" stop-color="#2fd56f"/><stop offset="0.2065" stop-color="#43d973"/><stop offset="0.2299" stop-color="#f3fd97"/><stop offset="0.2325" stop-color="#fbfa97"/><stop offset="0.2377" stop-color="#e9e38d"/><stop offset="0.287" stop-color="#d3c681"/><stop offset="0.4013" stop-color="#c1b078"/><stop offset="0.5935" stop-color="#baa774"/><stop offset="0.713" stop-color="#c8b87b"/><stop offset="0.8481" stop-color="#ebe58e"/><stop offset="0.8636" stop-color="#ffff99"/><stop offset="0.8974" stop-color="#b7f18b"/><stop offset="0.939" stop-color="#7de57f"/><stop offset="0.9935" stop-color="#51dc76"/><stop offset="0.9987" stop-color="#4edc76"/></linearGradient>
<linearGradient id="g309" gradientUnits="userSpaceOnUse" x1="916.00" y1="0" x2="1301.00" y2="0"><stop offset="0.001299" stop-color="#274bb1"/><stop offset="0.07922" stop-color="#0098fe"/><stop offset="0.1468" stop-color="#00cc66"/><stop offset="0.1909" stop-color="#4cdb75"/><stop offset="0.1935" stop-color="#56dd77"/><stop offset="0.2117" stop-color="#edfb95"/><stop offset="0.2143" stop-color="#fdfc98"/><stop offset="0.2195" stop-color="#e9e38d"/><stop offset="0.2636" stop-color="#d3c681"/><stop offset="0.3649" stop-color="#c0af77"/><stop offset="0.5805" stop-color="#b8a473"/><stop offset="0.7026" stop-color="#c5b57a"/><stop offset="0.8481" stop-color="#ebe58e"/><stop offset="0.8636" stop-color="#ffff99"/><stop offset="0.8974" stop-color="#b7f18b"/><stop offset="0.939" stop-color="#7de57f"/><stop offset="0.9935" stop-color="#51dc76"/><stop offset="0.9987" stop-color="#4edc76"/></linearGradient>
<linearGradient id="g310" gradientUnits="userSpaceOnUse" x1="916.00" y1="0" x2="1301.00" y2="0"><stop offset="0.001299" stop-color="#1570d6"/><stop offset="0.04286" stop-color="#0099fe"/><stop offset="0.113" stop-color="#01cc66"/><stop offset="0.1701" stop-color="#56dd77"/><stop offset="0.1831" stop-color="#93e983"/><stop offset="0.1935" stop-color="#dff993"/><stop offset="0.1961" stop-color="#f6fd97"/><stop offset="0.1987" stop-color="#f7f595"/><stop offset="0.2013" stop-color="#eae58e"/><stop offset="0.2351" stop-color="#d5c982"/><stop offset="0.3156" stop-color="#c1b078"/><stop offset="0.5312" stop-color="#b5a171"/><stop offset="0.6662" stop-color="#beac76"/><stop offset="0.8455" stop-color="#e9e38d"/><stop offset="0.8636" stop-color="#ffff99"/><stop offset="0.8974" stop-color="#b7f18b"/><stop offset="0.939" stop-color="#7de57f"/><stop offset="0.9935" stop-color="#51dc76"/><stop offset="0.9987" stop-color="#4edc76"/></linearGradient>
<linearGradient id="g311" gradientUnits="userSpaceOnUse" x1="916.00" y1="0" x2="1301.00" y2="0"><stop offset="0.001299" stop-color="#0295fb"/><stop offset="0.006494" stop-color="#009afc"/><stop offset="0.07403" stop-color="#00cb68"/><stop offset="0.1338" stop-color="#4fdc76"/><stop offset="0.1545" stop-color="#9beb85"/><stop offset="0.1753" stop-color="#fefd98"/><stop offset="0.1831" stop-color="#e9e38d"/><stop offset="0.2273" stop-color="#cfc17f"/><stop offset="0.313" stop-color="#bcaa75"/><stop offset="0.5468" stop-color="#b39e70"/><stop offset="0.6766" stop-color="#bfad77"/><stop offset="0.8481" stop-color="#ebe68e"/><stop offset="0.8636" stop-color="#ffff99"/><stop offset="0.8974" stop-color="#b7f18b"/><stop offset="0.939" stop-color="#7de57f"/><stop offset="0.9935" stop-color="#51dc76"/><stop offset="0.9987" stop-color="#4edc76"/></linearGradient>
<linearGradient id="g312" gradientUnits="userSpaceOnUse" x1="916.00" y1="0" x2="1301.00" y2="0"><stop offset="0.001299" stop-color="#00b2b5"/><stop offset="0.03766" stop-color="#00cc67"/><stop offset="0.06104" stop-color="#2dd56f"/><stop offset="0.1104" stop-color="#9beb85"/><stop offset="0.1338" stop-color="#e8fa94"/><stop offset="0.139" stop-color="#fdff99"/><stop offset="0.1494" stop-color="#e9e38d"/><stop offset="0.2325" stop-color="#c4b479"/><stop offset="0.3442" stop-color="#b5a071"/><stop offset="0.5883" stop-color="#b39e70"/><stop offset="0.713" stop-color="#c6b77a"/><stop offset="0.8481" stop-color="#ebe68e"/><stop offset="0.8636" stop-color="#ffff99"/><stop offset="0.8974" stop-color="#b6f08a"/><stop offset="0.939" stop-color="#7de57f"/><stop offset="0.9935" stop-color="#51dc76"/><stop offset="0.9987" stop-color="#4edc76"/></linearGradient>
<linearGradient id="g313" gradientUnits="userSpaceOnUse" x1="916.00" y1="0" x2="1300.00" y2="0"><stop offset="0.001302" stop-color="#22d36d"/><stop offset="0.0638" stop-color="#c1f38d"/><stop offset="0.08464" stop-color="#fbfe98"/><stop offset="0.08984" stop-color="#faf896"/><stop offset="0.1029" stop-color="#e9e38d"/><stop offset="0.2409" stop-color="#bba874"/><stop offset="0.3555" stop-color="#b19b6f"/><stop offset="0.5898" stop-color="#b19b6f"/><stop offset="0.7148" stop-color="#c6b67a"/><stop offset="0.8503" stop-color="#ebe68e"/><stop offset="0.8659" stop-color="#feff99"/><stop offset="0.8997" stop-color="#b6f08a"/><stop offset="0.9414" stop-color="#7de57f"/><stop offset="0.9961" stop-color="#51dc76"/><stop offset="0.9987" stop-color="#50dc76"/></linearGradient>
<linearGradient id="g314" gradientUnits="userSpaceOnUse" x1="916.00" y1="0" x2="1300.00" y2="0"><stop offset="0.001302" stop-color="#a7ed87"/><stop offset="0.02995" stop-color="#ffff99"/><stop offset="0.04297" stop-color="#eae48d"/><stop offset="0.2435" stop-color="#b39e70"/><stop offset="0.556" stop-color="#ad966d"/><stop offset="0.681" stop-color="#beac76"/><stop offset="0.8503" stop-color="#ebe68e"/><stop offset="0.8659" stop-color="#feff99"/><stop offset="0.8997" stop-color="#b6f08a"/><stop offset="0.9414" stop-color="#7de57f"/><stop offset="0.9961" stop-color="#51dc76"/><stop offset="0.9987" stop-color="#50dc76"/></linearGradient>
<linearGradient id="g315" gradientUnits="userSpaceOnUse" x1="916.00" y1="0" x2="1300.00" y2="0"><stop offset="0.001302" stop-color="#e7e08c"/><stop offset="0.2148" stop-color="#b29c6f"/><stop offset="0.5247" stop-color="#aa926b"/><stop offset="0.6471" stop-color="#b7a272"/><stop offset="0.8503" stop-color="#ece68f"/><stop offset="0.8659" stop-color="#feff99"/><stop offset="0.8997" stop-color="#b6f08a"/><stop offset="0.9414" stop-color="#7de57f"/><stop offset="0.9961" stop-color="#51dc76"/><stop offset="0.9987" stop-color="#50dc76"/></linearGradient>
<linearGradient id="g316" gradientUnits="userSpaceOnUse" x1="916.00" y1="0" x2="1300.00" y2="0"><stop offset="0.001302" stop-color="#dacf85"/><stop offset="0.1732" stop-color="#b29d6f"/><stop offset="0.4596" stop-color="#a78f6a"/><stop offset="0.5977" stop-color="#ae976d"/><stop offset="0.7513" stop-color="#cfc27f"/><stop offset="0.8503" stop-color="#ece68f"/><stop offset="0.8659" stop-color="#feff99"/><stop offset="0.8997" stop-color="#b6f08a"/><stop offset="0.9414" stop-color="#7ce57f"/><stop offset="0.9961" stop-color="#51dc76"/><stop offset="0.9987" stop-color="#50dc76"/></linearGradient>
<linearGradient id="g317" gradientUnits="userSpaceOnUse" x1="916.00" y1="0" x2="1299.00" y2="0"><stop offset="0.001305" stop-color="#cfc27f"/><stop offset="0.1266" stop-color="#b29d6f"/><stop offset="0.4191" stop-color="#a58c69"/><stop offset="0.5809" stop-color="#aa926b"/><stop offset="0.7272" stop-color="#c8b97c"/><stop offset="0.8525" stop-color="#ece78f"/><stop offset="0.8681" stop-color="#fdff99"/><stop offset="0.9021" stop-color="#b6f08a"/><stop offset="0.9439" stop-color="#7ce57f"/><stop offset="0.9987" stop-color="#51dc76"/></linearGradient>
<linearGradient id="g318" gradientUnits="userSpaceOnUse" x1="916.00" y1="0" x2="1299.00" y2="0"><stop offset="0.001305" stop-color="#c6b67a"/><stop offset="0.0953" stop-color="#b19c6f"/><stop offset="0.393" stop-color="#a38967"/><stop offset="0.5679" stop-color="#a78f6a"/><stop offset="0.7115" stop-color="#c4b479"/><stop offset="0.8525" stop-color="#ece78f"/><stop offset="0.8681" stop-color="#fdff99"/><stop offset="0.9021" stop-color="#b5f08a"/><stop offset="0.9439" stop-color="#7ce57f"/><stop offset="0.9987" stop-color="#51dc76"/></linearGradient>
<linearGradient id="g319" gradientUnits="userSpaceOnUse" x1="916.00" y1="0" x2="1299.00" y2="0"><stop offset="0.001305" stop-color="#bdaa75"/><stop offset="0.0718" stop-color="#b09a6e"/><stop offset="0.3747" stop-color="#a18666"/><stop offset="0.5574" stop-color="#a58b68"/><stop offset="0.7037" stop-color="#c2b178"/><stop offset="0.8525" stop-color="#ece78f"/><stop offset="0.8681" stop-color="#fdff99"/><stop offset="0.9021" stop-color="#b5f08a"/><stop offset="0.9439" stop-color="#7ce57f"/><stop offset="0.9987" stop-color="#51dc76"/></linearGradient>
<linearGradient id="g320" gradientUnits="userSpaceOnUse" x1="916.00" y1="0" x2="1299.00" y2="0"><stop offset="0.001305" stop-color="#b5a071"/><stop offset="0.2415" stop-color="#a28867"/><stop offset="0.5131" stop-color="#9f8565"/><stop offset="0.6358" stop-color="#b19c6f"/><stop offset="0.8525" stop-color="#ede78f"/><stop offset="0.8655" stop-color="#fdfd98"/><stop offset="0.8708" stop-color="#f6fd97"/><stop offset="0.9047" stop-color="#b1ef89"/><stop offset="0.9465" stop-color="#79e47e"/><stop offset="0.9987" stop-color="#51dc76"/></linearGradient>
<linearGradient id="g321" gradientUnits="userSpaceOnUse" x1="916.00" y1="0" x2="1298.00" y2="0"><stop offset="0.001309" stop-color="#b09a6e"/><stop offset="0.2893" stop-color="#9d8264"/><stop offset="0.5223" stop-color="#9e8365"/><stop offset="0.6531" stop-color="#b5a071"/><stop offset="0.8547" stop-color="#ede88f"/><stop offset="0.8678" stop-color="#fdfd98"/><stop offset="0.8757" stop-color="#effc96"/><stop offset="0.9097" stop-color="#acee88"/><stop offset="0.9516" stop-color="#77e47e"/><stop offset="0.9987" stop-color="#52dc76"/></linearGradient>
<linearGradient id="g322" gradientUnits="userSpaceOnUse" x1="916.00" y1="0" x2="1298.00" y2="0"><stop offset="0.001309" stop-color="#ac956c"/><stop offset="0.3076" stop-color="#9a7e62"/><stop offset="0.5196" stop-color="#9c8164"/><stop offset="0.6558" stop-color="#b5a171"/><stop offset="0.8547" stop-color="#ede88f"/><stop offset="0.8678" stop-color="#fefd98"/><stop offset="0.8809" stop-color="#e3f993"/><stop offset="0.9175" stop-color="#a0ec86"/><stop offset="0.962" stop-color="#6de27c"/><stop offset="0.9987" stop-color="#52dc76"/></linearGradient>
<linearGradient id="g323" gradientUnits="userSpaceOnUse" x1="916.00" y1="0" x2="1298.00" y2="0"><stop offset="0.001309" stop-color="#a9906a"/><stop offset="0.3259" stop-color="#977a61"/><stop offset="0.517" stop-color="#9b7e63"/><stop offset="0.6584" stop-color="#b6a172"/><stop offset="0.8521" stop-color="#eae48d"/><stop offset="0.8678" stop-color="#fefd98"/><stop offset="0.9097" stop-color="#acee88"/><stop offset="0.9516" stop-color="#77e47e"/><stop offset="0.9987" stop-color="#52dc76"/></linearGradient>
<linearGradient id="g324" gradientUnits="userSpaceOnUse" x1="916.00" y1="0" x2="1298.00" y2="0"><stop offset="0.001309" stop-color="#a58c68"/><stop offset="0.3442" stop-color="#94765f"/><stop offset="0.517" stop-color="#997d62"/><stop offset="0.6715" stop-color="#b9a673"/><stop offset="0.8521" stop-color="#eae48e"/><stop offset="0.8678" stop-color="#fefe98"/><stop offset="0.9097" stop-color="#acee88"/><stop offset="0.9516" stop-color="#76e47e"/><stop offset="0.9987" stop-color="#52dc76"/></linearGradient>
<linearGradient id="g325" gradientUnits="userSpaceOnUse" x1="916.00" y1="0" x2="1297.00" y2="0"><stop offset="0.001312" stop-color="#a18766"/><stop offset="0.3556" stop-color="#91725e"/><stop offset="0.5157" stop-color="#977b61"/><stop offset="0.6811" stop-color="#bba874"/><stop offset="0.8543" stop-color="#eae48e"/><stop offset="0.8701" stop-color="#fefe98"/><stop offset="0.9094" stop-color="#b0ef89"/><stop offset="0.9514" stop-color="#79e47e"/><stop offset="0.9987" stop-color="#54dd77"/></linearGradient>
<linearGradient id="g326" gradientUnits="userSpaceOnUse" x1="916.00" y1="0" x2="1297.00" y2="0"><stop offset="0.001312" stop-color="#9d8264"/><stop offset="0.3609" stop-color="#8e6f5c"/><stop offset="0.5131" stop-color="#967960"/><stop offset="0.6942" stop-color="#bfad76"/><stop offset="0.8543" stop-color="#eae48e"/><stop offset="0.8701" stop-color="#fefe99"/><stop offset="0.9094" stop-color="#b0ef89"/><stop offset="0.9514" stop-color="#79e47e"/><stop offset="0.9987" stop-color="#54dd77"/></linearGradient>
<linearGradient id="g327" gradientUnits="userSpaceOnUse" x1="916.00" y1="0" x2="1297.00" y2="0"><stop offset="0.001312" stop-color="#9a7d62"/><stop offset="0.3661" stop-color="#8c6c5b"/><stop offset="0.5079" stop-color="#94765f"/><stop offset="0.7021" stop-color="#c1b077"/><stop offset="0.8543" stop-color="#eae58e"/><stop offset="0.8701" stop-color="#fefe99"/><stop offset="0.9094" stop-color="#afef89"/><stop offset="0.9514" stop-color="#79e47e"/><stop offset="0.9987" stop-color="#54dd77"/></linearGradient>
<linearGradient id="g328" gradientUnits="userSpaceOnUse" x1="916.00" y1="0" x2="1296.00" y2="0"><stop offset="0.001316" stop-color="#967960"/><stop offset="0.3724" stop-color="#896859"/><stop offset="0.5092" stop-color="#93755f"/><stop offset="0.7382" stop-color="#cabb7c"/><stop offset="0.8566" stop-color="#ebe58e"/><stop offset="0.8724" stop-color="#fffe99"/><stop offset="0.9092" stop-color="#b4f08a"/><stop offset="0.9513" stop-color="#7be57f"/><stop offset="0.9987" stop-color="#55dd77"/></linearGradient>
<linearGradient id="g329" gradientUnits="userSpaceOnUse" x1="916.00" y1="0" x2="1296.00" y2="0"><stop offset="0.001316" stop-color="#92745e"/><stop offset="0.375" stop-color="#876558"/><stop offset="0.5066" stop-color="#92735e"/><stop offset="0.7724" stop-color="#d3c781"/><stop offset="0.8566" stop-color="#ebe58e"/><stop offset="0.8724" stop-color="#ffff99"/><stop offset="0.9092" stop-color="#b3f08a"/><stop offset="0.9513" stop-color="#7be57f"/><stop offset="0.9987" stop-color="#55dd77"/></linearGradient>
<linearGradient id="g330" gradientUnits="userSpaceOnUse" x1="916.00" y1="0" x2="1295.00" y2="0"><stop offset="0.001319" stop-color="#8f6f5c"/><stop offset="0.376" stop-color="#846257"/><stop offset="0.5053" stop-color="#90725d"/><stop offset="0.8245" stop-color="#e1d889"/><stop offset="0.8588" stop-color="#ebe58e"/><stop offset="0.8747" stop-color="#ffff99"/><stop offset="0.909" stop-color="#b8f18b"/><stop offset="0.9512" stop-color="#7ee57f"/><stop offset="0.9987" stop-color="#57dd77"/></linearGradient>
<linearGradient id="g331" gradientUnits="userSpaceOnUse" x1="916.00" y1="0" x2="1295.00" y2="0"><stop offset="0.001319" stop-color="#8b6b5a"/><stop offset="0.376" stop-color="#825f56"/><stop offset="0.5026" stop-color="#8f705d"/><stop offset="0.8562" stop-color="#e9e38d"/><stop offset="0.8747" stop-color="#ffff99"/><stop offset="0.909" stop-color="#b7f18b"/><stop offset="0.9512" stop-color="#7ee57f"/><stop offset="0.9987" stop-color="#57dd77"/></linearGradient>
<linearGradient id="g332" gradientUnits="userSpaceOnUse" x1="916.00" y1="0" x2="1295.00" y2="0"><stop offset="0.001319" stop-color="#876658"/><stop offset="0.376" stop-color="#805c54"/><stop offset="0.5" stop-color="#8e6e5c"/><stop offset="0.8562" stop-color="#e9e38d"/><stop offset="0.8747" stop-color="#ffff99"/><stop offset="0.909" stop-color="#b7f18b"/><stop offset="0.9512" stop-color="#7ee57f"/><stop offset="0.9987" stop-color="#57dd77"/></linearGradient>
<linearGradient id="g333" gradientUnits="userSpaceOnUse" x1="916.00" y1="0" x2="1294.00" y2="0"><stop offset="0.001323" stop-color="#846156"/><stop offset="0.2156" stop-color="#815e57"/><stop offset="0.4352" stop-color="#826056"/><stop offset="0.5966" stop-color="#a48b68"/><stop offset="0.8611" stop-color="#ece68f"/><stop offset="0.877" stop-color="#feff99"/><stop offset="0.9114" stop-color="#b7f18b"/><stop offset="0.9537" stop-color="#7ee57f"/><stop offset="0.9987" stop-color="#58de78"/></linearGradient>
<linearGradient id="g334" gradientUnits="userSpaceOnUse" x1="916.00" y1="0" x2="1294.00" y2="0"><stop offset="0.001323" stop-color="#805c54"/><stop offset="0.3717" stop-color="#84615a"/><stop offset="0.4378" stop-color="#815e55"/><stop offset="0.6257" stop-color="#ac946c"/><stop offset="0.8611" stop-color="#ece68f"/><stop offset="0.877" stop-color="#feff99"/><stop offset="0.9114" stop-color="#b7f18b"/><stop offset="0.9537" stop-color="#7ee57f"/><stop offset="0.9987" stop-color="#58de78"/></linearGradient>
<linearGradient id="g335" gradientUnits="userSpaceOnUse" x1="916.00" y1="0" x2="1293.00" y2="0"><stop offset="0.001326" stop-color="#836058"/><stop offset="0.3621" stop-color="#86645d"/><stop offset="0.4443" stop-color="#815e55"/><stop offset="0.6857" stop-color="#bba874"/><stop offset="0.8634" stop-color="#ece78f"/><stop offset="0.8793" stop-color="#feff99"/><stop offset="0.9138" stop-color="#b7f18b"/><stop offset="0.9562" stop-color="#7ee57f"/><stop offset="0.9987" stop-color="#5ade78"/></linearGradient>
<linearGradient id="g336" gradientUnits="userSpaceOnUse" x1="916.00" y1="0" x2="1293.00" y2="0"><stop offset="0.001326" stop-color="#86645d"/><stop offset="0.3647" stop-color="#88665f"/><stop offset="0.4496" stop-color="#815e55"/><stop offset="0.7997" stop-color="#d9cf85"/><stop offset="0.8634" stop-color="#ece78f"/><stop offset="0.8793" stop-color="#fdff99"/><stop offset="0.9138" stop-color="#b6f08a"/><stop offset="0.9562" stop-color="#7de57f"/><stop offset="0.9987" stop-color="#5ade78"/></linearGradient>
<linearGradient id="g337" gradientUnits="userSpaceOnUse" x1="916.00" y1="0" x2="1293.00" y2="0"><stop offset="0.001326" stop-color="#8a6a63"/><stop offset="0.3568" stop-color="#8b6a63"/><stop offset="0.4523" stop-color="#815e55"/><stop offset="0.8607" stop-color="#eae48d"/><stop offset="0.8793" stop-color="#fdff99"/><stop offset="0.9138" stop-color="#b6f08a"/><stop offset="0.9562" stop-color="#7de57f"/><stop offset="0.9987" stop-color="#5ade78"/></linearGradient>
<linearGradient id="g338" gradientUnits="userSpaceOnUse" x1="916.00" y1="0" x2="1292.00" y2="0"><stop offset="0.00133" stop-color="#8f6f69"/><stop offset="0.3444" stop-color="#8f6f68"/><stop offset="0.4588" stop-color="#815e55"/><stop offset="0.8657" stop-color="#ede88f"/><stop offset="0.879" stop-color="#fdfd98"/><stop offset="0.887" stop-color="#effc96"/><stop offset="0.9215" stop-color="#adef89"/><stop offset="0.9641" stop-color="#78e47e"/><stop offset="0.9987" stop-color="#5cde78"/></linearGradient>
<linearGradient id="g339" gradientUnits="userSpaceOnUse" x1="916.00" y1="0" x2="1291.00" y2="0"><stop offset="0.001333" stop-color="#93756f"/><stop offset="0.332" stop-color="#92746e"/><stop offset="0.46" stop-color="#815d55"/><stop offset="0.8653" stop-color="#eae48e"/><stop offset="0.8813" stop-color="#fefd98"/><stop offset="0.924" stop-color="#adef89"/><stop offset="0.9693" stop-color="#75e37d"/><stop offset="0.9987" stop-color="#5ddf79"/></linearGradient>
<linearGradient id="g340" gradientUnits="userSpaceOnUse" x1="916.00" y1="0" x2="1289.00" y2="0"><stop offset="0.00134" stop-color="#987b75"/><stop offset="0.3204" stop-color="#967973"/><stop offset="0.4464" stop-color="#826058"/><stop offset="0.4705" stop-color="#825f56"/><stop offset="0.87" stop-color="#eae58e"/><stop offset="0.8861" stop-color="#fefe99"/><stop offset="0.9263" stop-color="#b1ef89"/><stop offset="0.9692" stop-color="#7ae47e"/><stop offset="0.9987" stop-color="#61df79"/></linearGradient>
<linearGradient id="g341" gradientUnits="userSpaceOnUse" x1="916.00" y1="0" x2="1288.00" y2="0"><stop offset="0.001344" stop-color="#9c817b"/><stop offset="0.3078" stop-color="#9a7e78"/><stop offset="0.4341" stop-color="#86645d"/><stop offset="0.4664" stop-color="#815d55"/><stop offset="0.8723" stop-color="#ebe58e"/><stop offset="0.8884" stop-color="#fefe99"/><stop offset="0.9288" stop-color="#b0ef89"/><stop offset="0.9718" stop-color="#7ae47e"/><stop offset="0.9987" stop-color="#63e07a"/></linearGradient>
<linearGradient id="g342" gradientUnits="userSpaceOnUse" x1="916.00" y1="0" x2="1287.00" y2="0"><stop offset="0.001348" stop-color="#a18781"/><stop offset="0.2951" stop-color="#9e837d"/><stop offset="0.4218" stop-color="#8a6962"/><stop offset="0.4677" stop-color="#815d55"/><stop offset="0.8747" stop-color="#ebe68e"/><stop offset="0.8908" stop-color="#ffff99"/><stop offset="0.9286" stop-color="#b4f08a"/><stop offset="0.9717" stop-color="#7ce57f"/><stop offset="0.9987" stop-color="#65e07a"/></linearGradient>
<linearGradient id="g343" gradientUnits="userSpaceOnUse" x1="916.00" y1="0" x2="1285.00" y2="0"><stop offset="0.001355" stop-color="#a58c87"/><stop offset="0.2832" stop-color="#a28882"/><stop offset="0.4133" stop-color="#8c6c66"/><stop offset="0.4702" stop-color="#815d55"/><stop offset="0.8794" stop-color="#ece68f"/><stop offset="0.8957" stop-color="#ffff99"/><stop offset="0.9309" stop-color="#b8f18b"/><stop offset="0.9743" stop-color="#7fe57f"/><stop offset="0.9986" stop-color="#69e17b"/></linearGradient>
<linearGradient id="g344" gradientUnits="userSpaceOnUse" x1="916.00" y1="0" x2="1284.00" y2="0"><stop offset="0.001359" stop-color="#aa928d"/><stop offset="0.2677" stop-color="#a68d88"/><stop offset="0.3981" stop-color="#91726b"/><stop offset="0.4715" stop-color="#815d55"/><stop offset="0.8818" stop-color="#ece78f"/><stop offset="0.8981" stop-color="#feff99"/><stop offset="0.9334" stop-color="#b8f18b"/><stop offset="0.9769" stop-color="#7fe57f"/><stop offset="0.9986" stop-color="#6be17b"/></linearGradient>
<linearGradient id="g345" gradientUnits="userSpaceOnUse" x1="916.00" y1="0" x2="1282.00" y2="0"><stop offset="0.001366" stop-color="#ae9893"/><stop offset="0.2527" stop-color="#aa938d"/><stop offset="0.3839" stop-color="#957771"/><stop offset="0.474" stop-color="#815d55"/><stop offset="0.8866" stop-color="#ede88f"/><stop offset="0.903" stop-color="#feff99"/><stop offset="0.9385" stop-color="#b7f18b"/><stop offset="0.9822" stop-color="#7fe57f"/><stop offset="0.9986" stop-color="#6fe27c"/></linearGradient>
<linearGradient id="g346" gradientUnits="userSpaceOnUse" x1="916.00" y1="0" x2="1280.00" y2="0"><stop offset="0.001374" stop-color="#b39e99"/><stop offset="0.2404" stop-color="#ae9793"/><stop offset="0.3723" stop-color="#997c76"/><stop offset="0.4766" stop-color="#815d55"/><stop offset="0.8915" stop-color="#ede88f"/><stop offset="0.908" stop-color="#fdff99"/><stop offset="0.9437" stop-color="#b7f18b"/><stop offset="0.9876" stop-color="#7ee57f"/><stop offset="0.9986" stop-color="#74e37d"/></linearGradient>
<linearGradient id="g347" gradientUnits="userSpaceOnUse" x1="916.00" y1="0" x2="1278.00" y2="0"><stop offset="0.001381" stop-color="#b7a39f"/><stop offset="0.2279" stop-color="#b29c98"/><stop offset="0.3633" stop-color="#9b807a"/><stop offset="0.4793" stop-color="#815e55"/><stop offset="0.8936" stop-color="#eae48e"/><stop offset="0.9102" stop-color="#fdfd98"/><stop offset="0.9185" stop-color="#f0fc96"/><stop offset="0.9544" stop-color="#aeef89"/><stop offset="0.9986" stop-color="#79e47e"/></linearGradient>
<linearGradient id="g348" gradientUnits="userSpaceOnUse" x1="916.00" y1="0" x2="1276.00" y2="0"><stop offset="0.001389" stop-color="#bca9a5"/><stop offset="0.2153" stop-color="#b6a29d"/><stop offset="0.3542" stop-color="#9e837e"/><stop offset="0.4819" stop-color="#815e55"/><stop offset="0.8986" stop-color="#eae58e"/><stop offset="0.9153" stop-color="#fefd98"/><stop offset="0.9625" stop-color="#a9ee88"/><stop offset="0.9986" stop-color="#7ee57f"/></linearGradient>
<linearGradient id="g349" gradientUnits="userSpaceOnUse" x1="916.00" y1="0" x2="1273.00" y2="0"><stop offset="0.001401" stop-color="#c0afab"/><stop offset="0.2059" stop-color="#baa6a2"/><stop offset="0.3487" stop-color="#a18681"/><stop offset="0.4832" stop-color="#805d55"/><stop offset="0.9062" stop-color="#ebe58e"/><stop offset="0.923" stop-color="#fefe98"/><stop offset="0.9678" stop-color="#adef89"/><stop offset="0.9986" stop-color="#86e781"/></linearGradient>
<linearGradient id="g350" gradientUnits="userSpaceOnUse" x1="916.00" y1="0" x2="1269.00" y2="0"><stop offset="0.001416" stop-color="#c4b4b1"/><stop offset="0.1969" stop-color="#bdaba7"/><stop offset="0.347" stop-color="#a28883"/><stop offset="0.4887" stop-color="#805d55"/><stop offset="0.9164" stop-color="#ebe68e"/><stop offset="0.9334" stop-color="#fefe99"/><stop offset="0.9759" stop-color="#b1ef89"/><stop offset="0.9986" stop-color="#93e983"/></linearGradient>
<linearGradient id="g351" gradientUnits="userSpaceOnUse" x1="916.00" y1="0" x2="1265.00" y2="0"><stop offset="0.001433" stop-color="#c8b8b5"/><stop offset="0.1905" stop-color="#c0afab"/><stop offset="0.3481" stop-color="#a38984"/><stop offset="0.4943" stop-color="#815d55"/><stop offset="0.9269" stop-color="#ece68f"/><stop offset="0.9441" stop-color="#ffff99"/><stop offset="0.9842" stop-color="#b5f08a"/><stop offset="0.9986" stop-color="#a1ec86"/></linearGradient>
<linearGradient id="g352" gradientUnits="userSpaceOnUse" x1="916.00" y1="0" x2="1260.00" y2="0"><stop offset="0.001453" stop-color="#cbbdba"/><stop offset="0.1846" stop-color="#c3b3af"/><stop offset="0.3532" stop-color="#a38a84"/><stop offset="0.5015" stop-color="#815d55"/><stop offset="0.9404" stop-color="#ece78f"/><stop offset="0.9578" stop-color="#ffff99"/><stop offset="0.9956" stop-color="#b9f18b"/><stop offset="0.9985" stop-color="#b5f08a"/></linearGradient>
<linearGradient id="g353" gradientUnits="userSpaceOnUse" x1="916.00" y1="0" x2="1252.00" y2="0"><stop offset="0.001488" stop-color="#cfc1be"/><stop offset="0.183" stop-color="#c6b6b3"/><stop offset="0.3646" stop-color="#a38983"/><stop offset="0.5134" stop-color="#815d55"/><stop offset="0.9628" stop-color="#ece78f"/><stop offset="0.9807" stop-color="#feff99"/><stop offset="0.9985" stop-color="#dbf892"/></linearGradient>
<linearGradient id="g354" gradientUnits="userSpaceOnUse" x1="916.00" y1="0" x2="1086.00" y2="0"><stop offset="0.002941" stop-color="#d2c6c3"/><stop offset="0.3441" stop-color="#c9bab6"/><stop offset="0.7265" stop-color="#a28882"/><stop offset="0.9971" stop-color="#805d55"/></linearGradient>
<linearGradient id="g355" gradientUnits="userSpaceOnUse" x1="916.00" y1="0" x2="1079.00" y2="0"><stop offset="0.003067" stop-color="#d6cac7"/><stop offset="0.3466" stop-color="#cbbdba"/><stop offset="0.7761" stop-color="#a0857f"/><stop offset="0.9969" stop-color="#85635c"/></linearGradient>
<linearGradient id="g356" gradientUnits="userSpaceOnUse" x1="916.00" y1="0" x2="1011.00" y2="0"><stop offset="0.005263" stop-color="#d9cecc"/><stop offset="0.5632" stop-color="#cec1be"/><stop offset="0.9947" stop-color="#b7a29e"/></linearGradient>
<linearGradient id="g357" gradientUnits="userSpaceOnUse" x1="916.00" y1="0" x2="1008.00" y2="0"><stop offset="0.005435" stop-color="#dcd2d0"/><stop offset="0.5598" stop-color="#d1c4c1"/><stop offset="0.9946" stop-color="#b9a5a1"/></linearGradient>
<linearGradient id="g358" gradientUnits="userSpaceOnUse" x1="916.00" y1="0" x2="1005.00" y2="0"><stop offset="0.005618" stop-color="#dfd6d4"/><stop offset="0.5562" stop-color="#d3c7c4"/><stop offset="0.9944" stop-color="#bba8a4"/></linearGradient>
<linearGradient id="g359" gradientUnits="userSpaceOnUse" x1="916.00" y1="0" x2="1001.00" y2="0"><stop offset="0.005882" stop-color="#e2dad9"/><stop offset="0.5706" stop-color="#d5c9c7"/><stop offset="0.9941" stop-color="#beaca8"/></linearGradient>
<linearGradient id="g360" gradientUnits="userSpaceOnUse" x1="916.00" y1="0" x2="998.00" y2="0"><stop offset="0.006098" stop-color="#e5dedd"/><stop offset="0.5793" stop-color="#d7cbc9"/><stop offset="0.9939" stop-color="#c0afab"/></linearGradient>
<linearGradient id="g361" gradientUnits="userSpaceOnUse" x1="916.00" y1="0" x2="994.00" y2="0"><stop offset="0.00641" stop-color="#e8e2e1"/><stop offset="0.5962" stop-color="#d8cdcb"/><stop offset="0.9936" stop-color="#c3b3af"/></linearGradient>
<linearGradient id="g362" gradientUnits="userSpaceOnUse" x1="916.00" y1="0" x2="990.00" y2="0"><stop offset="0.006757" stop-color="#ebe6e4"/><stop offset="0.6284" stop-color="#d9cecc"/><stop offset="0.9932" stop-color="#c7b7b3"/></linearGradient>
<linearGradient id="g363" gradientUnits="userSpaceOnUse" x1="916.00" y1="0" x2="985.00" y2="0"><stop offset="0.007246" stop-color="#eeeae9"/><stop offset="0.6739" stop-color="#dacfcd"/><stop offset="0.9928" stop-color="#cbbcb9"/></linearGradient>
<linearGradient id="g364" gradientUnits="userSpaceOnUse" x1="916.00" y1="0" x2="979.00" y2="0"><stop offset="0.007937" stop-color="#f2eeed"/><stop offset="0.7857" stop-color="#d9cecc"/><stop offset="0.9921" stop-color="#cfc2bf"/></linearGradient>
<linearGradient id="g365" gradientUnits="userSpaceOnUse" x1="916.00" y1="0" x2="972.00" y2="0"><stop offset="0.008929" stop-color="#f5f2f2"/><stop offset="0.9554" stop-color="#d6cbc8"/><stop offset="0.9911" stop-color="#d5c9c6"/></linearGradient>
<linearGradient id="g366" gradientUnits="userSpaceOnUse" x1="916.00" y1="0" x2="965.00" y2="0"><stop offset="0.0102" stop-color="#f8f6f6"/><stop offset="0.9898" stop-color="#dad0ce"/></linearGradient>
<linearGradient id="g367" gradientUnits="userSpaceOnUse" x1="916.00" y1="0" x2="956.00" y2="0"><stop offset="0.0125" stop-color="#fbfafa"/><stop offset="0.9875" stop-color="#e1d9d7"/></linearGradient>
<linearGradient id="g368" gradientUnits="userSpaceOnUse" x1="916.00" y1="0" x2="945.00" y2="0"><stop offset="0.01724" stop-color="#fefefe"/><stop offset="0.9828" stop-color="#eae4e3"/></linearGradient>
<linearGradient id="g369" gradientUnits="userSpaceOnUse" x1="916.00" y1="0" x2="922.00" y2="0"><stop offset="0.08333" stop-color="#ffffff"/><stop offset="0.9167" stop-color="#fcfbfb"/></linearGradient>
<linearGradient id="g370" gradientUnits="userSpaceOnUse" x1="916.00" y1="0" x2="1395.00" y2="0"><stop offset="0.001044" stop-color="#bba8a4"/><stop offset="0.3434" stop-color="#9d827c"/><stop offset="0.3852" stop-color="#997c76"/><stop offset="0.3998" stop-color="#967872"/><stop offset="0.4478" stop-color="#90716a"/><stop offset="0.4624" stop-color="#8d6d66"/><stop offset="0.5104" stop-color="#87655e"/><stop offset="0.5251" stop-color="#84615a"/><stop offset="0.5731" stop-color="#825e55"/><stop offset="0.5772" stop-color="#866458"/><stop offset="0.5939" stop-color="#866458"/><stop offset="0.5981" stop-color="#8b6b5b"/><stop offset="0.6148" stop-color="#8b6b5b"/><stop offset="0.619" stop-color="#90715d"/><stop offset="0.6357" stop-color="#90715d"/><stop offset="0.6399" stop-color="#957860"/><stop offset="0.6566" stop-color="#957860"/><stop offset="0.6608" stop-color="#9b7e63"/><stop offset="0.6754" stop-color="#9b7e63"/><stop offset="0.6795" stop-color="#a08565"/><stop offset="0.6962" stop-color="#a08565"/><stop offset="0.7004" stop-color="#a58b68"/><stop offset="0.7171" stop-color="#a58b68"/><stop offset="0.7213" stop-color="#aa926b"/><stop offset="0.738" stop-color="#aa926b"/><stop offset="0.7422" stop-color="#af986e"/><stop offset="0.7589" stop-color="#af986e"/><stop offset="0.763" stop-color="#b49f70"/><stop offset="0.7797" stop-color="#b49f70"/><stop offset="0.786" stop-color="#b8a472"/><stop offset="0.8006" stop-color="#b8a472"/><stop offset="0.8111" stop-color="#bba874"/><stop offset="0.8215" stop-color="#bba874"/><stop offset="0.8319" stop-color="#beac76"/><stop offset="0.8424" stop-color="#beac76"/><stop offset="0.8528" stop-color="#c2b178"/><stop offset="0.8633" stop-color="#c2b178"/><stop offset="0.8737" stop-color="#c5b57a"/><stop offset="0.8841" stop-color="#c5b57a"/><stop offset="0.8946" stop-color="#c9b97c"/><stop offset="0.905" stop-color="#c9b97c"/><stop offset="0.9154" stop-color="#ccbe7e"/><stop offset="0.9259" stop-color="#ccbe7e"/><stop offset="0.9363" stop-color="#d0c27f"/><stop offset="0.9468" stop-color="#d0c27f"/><stop offset="0.9572" stop-color="#d3c781"/><stop offset="0.9676" stop-color="#d3c781"/><stop offset="0.9781" stop-color="#d6cb83"/><stop offset="0.9885" stop-color="#d6cb83"/><stop offset="0.999" stop-color="#dacf85"/></linearGradient>
<linearGradient id="g371" gradientUnits="userSpaceOnUse" x1="916.00" y1="0" x2="1395.00" y2="0"><stop offset="0.001044" stop-color="#00cc66"/><stop offset="0.905" stop-color="#00cc66"/><stop offset="0.9071" stop-color="#0ace68"/><stop offset="0.9259" stop-color="#0ace68"/><stop offset="0.9322" stop-color="#0fcf69"/><stop offset="0.9468" stop-color="#0fcf69"/><stop offset="0.953" stop-color="#14d06a"/><stop offset="0.9676" stop-color="#14d06a"/><stop offset="0.9697" stop-color="#1fd26c"/><stop offset="0.9885" stop-color="#1fd26c"/><stop offset="0.9906" stop-color="#29d46e"/><stop offset="0.999" stop-color="#29d46e"/></linearGradient>
<linearGradient id="g372" gradientUnits="userSpaceOnUse" x1="916.00" y1="0" x2="1395.00" y2="0"><stop offset="0.001044" stop-color="#00cc66"/><stop offset="0.905" stop-color="#00cc66"/><stop offset="0.9071" stop-color="#0ace68"/><stop offset="0.9259" stop-color="#0ace68"/><stop offset="0.9322" stop-color="#0fcf69"/><stop offset="0.9468" stop-color="#0fcf69"/><stop offset="0.953" stop-color="#14d06a"/><stop offset="0.9676" stop-color="#14d06a"/><stop offset="0.9697" stop-color="#1fd26c"/><stop offset="0.9885" stop-color="#1fd26c"/><stop offset="0.9906" stop-color="#29d46e"/><stop offset="0.999" stop-color="#29d46e"/></linearGradient>
<linearGradient id="g373" gradientUnits="userSpaceOnUse" x1="916.00" y1="0" x2="1395.00" y2="0"><stop offset="0.001044" stop-color="#1470d6"/><stop offset="0.738" stop-color="#1374da"/><stop offset="0.8633" stop-color="#0a85eb"/><stop offset="0.8653" stop-color="#0099ff"/><stop offset="0.8841" stop-color="#0099ff"/><stop offset="0.8862" stop-color="#009ef0"/><stop offset="0.905" stop-color="#009ef0"/><stop offset="0.9071" stop-color="#00b3b2"/><stop offset="0.9259" stop-color="#00b3b2"/><stop offset="0.928" stop-color="#00cc66"/><stop offset="0.9468" stop-color="#00cc66"/><stop offset="0.9489" stop-color="#0ace68"/><stop offset="0.9676" stop-color="#0ace68"/><stop offset="0.9697" stop-color="#47da74"/><stop offset="0.9885" stop-color="#47da74"/><stop offset="0.9906" stop-color="#adef89"/><stop offset="0.999" stop-color="#adef89"/></linearGradient>
<linearGradient id="g374" gradientUnits="userSpaceOnUse" x1="916.00" y1="0" x2="1395.00" y2="0"><stop offset="0.001044" stop-color="#1470d6"/><stop offset="0.738" stop-color="#1374da"/><stop offset="0.8633" stop-color="#0a85eb"/><stop offset="0.8653" stop-color="#0099ff"/><stop offset="0.8841" stop-color="#0099ff"/><stop offset="0.8862" stop-color="#009ef0"/><stop offset="0.905" stop-color="#009ef0"/><stop offset="0.9071" stop-color="#00b3b2"/><stop offset="0.9259" stop-color="#00b3b2"/><stop offset="0.928" stop-color="#00cc66"/><stop offset="0.9468" stop-color="#00cc66"/><stop offset="0.9489" stop-color="#0ace68"/><stop offset="0.9676" stop-color="#0ace68"/><stop offset="0.9697" stop-color="#47da74"/><stop offset="0.9885" stop-color="#47da74"/><stop offset="0.9906" stop-color="#adef89"/><stop offset="0.999" stop-color="#adef89"/></linearGradient>
<linearGradient id="g375" gradientUnits="userSpaceOnUse" x1="916.00" y1="0" x2="1395.00" y2="0"><stop offset="0.001044" stop-color="#333399"/><stop offset="0.7589" stop-color="#333399"/><stop offset="0.761" stop-color="#2c41a7"/><stop offset="0.7797" stop-color="#2c41a7"/><stop offset="0.7818" stop-color="#254eb4"/><stop offset="0.8006" stop-color="#254eb4"/><stop offset="0.8027" stop-color="#1b63c9"/><stop offset="0.8215" stop-color="#1b63c9"/><stop offset="0.8236" stop-color="#0e7ee4"/><stop offset="0.8424" stop-color="#0e7ee4"/><stop offset="0.8445" stop-color="#0099ff"/><stop offset="0.8633" stop-color="#0099ff"/><stop offset="0.8653" stop-color="#00b3b2"/><stop offset="0.8841" stop-color="#00b3b2"/><stop offset="0.8862" stop-color="#0ace68"/><stop offset="0.905" stop-color="#0ace68"/><stop offset="0.9071" stop-color="#85e781"/><stop offset="0.9259" stop-color="#85e781"/><stop offset="0.928" stop-color="#e5de8b"/><stop offset="0.999" stop-color="#e5de8b"/></linearGradient>
<linearGradient id="g376" gradientUnits="userSpaceOnUse" x1="916.00" y1="0" x2="1395.00" y2="0"><stop offset="0.001044" stop-color="#333399"/><stop offset="0.7589" stop-color="#333399"/><stop offset="0.761" stop-color="#2c41a7"/><stop offset="0.7797" stop-color="#2c41a7"/><stop offset="0.7818" stop-color="#254eb4"/><stop offset="0.8006" stop-color="#254eb4"/><stop offset="0.8027" stop-color="#1b63c9"/><stop offset="0.8215" stop-color="#1b63c9"/><stop offset="0.8236" stop-color="#0e7ee4"/><stop offset="0.8424" stop-color="#0e7ee4"/><stop offset="0.8445" stop-color="#0099ff"/><stop offset="0.8633" stop-color="#0099ff"/><stop offset="0.8653" stop-color="#00b3b2"/><stop offset="0.8841" stop-color="#00b3b2"/><stop offset="0.8862" stop-color="#0ace68"/><stop offset="0.905" stop-color="#0ace68"/><stop offset="0.9071" stop-color="#85e781"/><stop offset="0.9259" stop-color="#85e781"/><stop offset="0.928" stop-color="#e5de8b"/><stop offset="0.999" stop-color="#e5de8b"/></linearGradient>
<linearGradient id="g377" gradientUnits="userSpaceOnUse" x1="916.00" y1="0" x2="1395.00" y2="0"><stop offset="0.001044" stop-color="#dbd186"/><stop offset="0.9885" stop-color="#dcd286"/><stop offset="0.999" stop-color="#ddd487"/></linearGradient>
<linearGradient id="g378" gradientUnits="userSpaceOnUse" x1="916.00" y1="0" x2="1395.00" y2="0"><stop offset="0.001044" stop-color="#d4c982"/><stop offset="0.9468" stop-color="#d5c982"/><stop offset="0.999" stop-color="#dbd186"/></linearGradient>
<linearGradient id="g379" gradientUnits="userSpaceOnUse" x1="916.00" y1="0" x2="1395.00" y2="0"><stop offset="0.001044" stop-color="#d4c982"/><stop offset="0.9468" stop-color="#d5c982"/><stop offset="0.999" stop-color="#dbd186"/></linearGradient>
<linearGradient id="g380" gradientUnits="userSpaceOnUse" x1="916.00" y1="0" x2="1381.00" y2="0"><stop offset="0.001075" stop-color="#cec07e"/><stop offset="0.9323" stop-color="#cfc17f"/><stop offset="0.9989" stop-color="#d7cc83"/></linearGradient>
<linearGradient id="g381" gradientUnits="userSpaceOnUse" x1="916.00" y1="0" x2="1381.00" y2="0"><stop offset="0.001075" stop-color="#cec07e"/><stop offset="0.9323" stop-color="#cfc17f"/><stop offset="0.9989" stop-color="#d7cc83"/></linearGradient>
<linearGradient id="g382" gradientUnits="userSpaceOnUse" x1="916.00" y1="0" x2="1361.00" y2="0"><stop offset="0.001124" stop-color="#c7b77b"/><stop offset="0.9517" stop-color="#c9ba7c"/><stop offset="0.9989" stop-color="#d0c380"/></linearGradient>
<linearGradient id="g383" gradientUnits="userSpaceOnUse" x1="916.00" y1="0" x2="1361.00" y2="0"><stop offset="0.001124" stop-color="#c7b77b"/><stop offset="0.9517" stop-color="#c9ba7c"/><stop offset="0.9989" stop-color="#d0c380"/></linearGradient>
<linearGradient id="g384" gradientUnits="userSpaceOnUse" x1="916.00" y1="0" x2="1341.00" y2="0"><stop offset="0.001176" stop-color="#c0ae77"/><stop offset="0.9494" stop-color="#c3b278"/><stop offset="0.9988" stop-color="#cabb7c"/></linearGradient>
<linearGradient id="g385" gradientUnits="userSpaceOnUse" x1="916.00" y1="0" x2="1341.00" y2="0"><stop offset="0.001176" stop-color="#c0ae77"/><stop offset="0.9494" stop-color="#c3b278"/><stop offset="0.9988" stop-color="#cabb7c"/></linearGradient>
<linearGradient id="g386" gradientUnits="userSpaceOnUse" x1="916.00" y1="0" x2="1321.00" y2="0"><stop offset="0.001235" stop-color="#b9a673"/><stop offset="0.9469" stop-color="#bca975"/><stop offset="0.9988" stop-color="#c3b278"/></linearGradient>
<linearGradient id="g387" gradientUnits="userSpaceOnUse" x1="916.00" y1="0" x2="1321.00" y2="0"><stop offset="0.001235" stop-color="#b9a673"/><stop offset="0.9469" stop-color="#bca975"/><stop offset="0.9988" stop-color="#c3b278"/></linearGradient>
<linearGradient id="g388" gradientUnits="userSpaceOnUse" x1="916.00" y1="0" x2="1301.00" y2="0"><stop offset="0.001299" stop-color="#b39d70"/><stop offset="0.9442" stop-color="#b5a171"/><stop offset="0.9987" stop-color="#bca975"/></linearGradient>
<linearGradient id="g389" gradientUnits="userSpaceOnUse" x1="916.00" y1="0" x2="1291.00" y2="0"><stop offset="0.001333" stop-color="#ac956c"/><stop offset="0.916" stop-color="#ae976d"/><stop offset="0.9693" stop-color="#b29c6f"/><stop offset="0.9827" stop-color="#b5a171"/><stop offset="0.9987" stop-color="#b8a573"/></linearGradient>
<linearGradient id="g390" gradientUnits="userSpaceOnUse" x1="916.00" y1="0" x2="1291.00" y2="0"><stop offset="0.001333" stop-color="#ac956c"/><stop offset="0.916" stop-color="#ae976d"/><stop offset="0.9693" stop-color="#b29c6f"/><stop offset="0.9827" stop-color="#b5a171"/><stop offset="0.9987" stop-color="#b8a573"/></linearGradient>
<linearGradient id="g391" gradientUnits="userSpaceOnUse" x1="916.00" y1="0" x2="1281.00" y2="0"><stop offset="0.00137" stop-color="#a58c68"/><stop offset="0.9137" stop-color="#a78f6a"/><stop offset="0.9685" stop-color="#ac956c"/><stop offset="0.9767" stop-color="#b09a6e"/><stop offset="0.9959" stop-color="#b09a6e"/><stop offset="0.9986" stop-color="#b4a071"/></linearGradient>
<linearGradient id="g392" gradientUnits="userSpaceOnUse" x1="916.00" y1="0" x2="1281.00" y2="0"><stop offset="0.00137" stop-color="#a58c68"/><stop offset="0.9137" stop-color="#a78f6a"/><stop offset="0.9685" stop-color="#ac956c"/><stop offset="0.9767" stop-color="#b09a6e"/><stop offset="0.9959" stop-color="#b09a6e"/><stop offset="0.9986" stop-color="#b4a071"/></linearGradient>
<linearGradient id="g393" gradientUnits="userSpaceOnUse" x1="916.00" y1="0" x2="1261.00" y2="0"><stop offset="0.001449" stop-color="#9e8365"/><stop offset="0.9377" stop-color="#a18766"/><stop offset="0.9957" stop-color="#a78e69"/><stop offset="0.9986" stop-color="#ab936c"/></linearGradient>
<linearGradient id="g394" gradientUnits="userSpaceOnUse" x1="916.00" y1="0" x2="1261.00" y2="0"><stop offset="0.001449" stop-color="#9e8365"/><stop offset="0.9377" stop-color="#a18766"/><stop offset="0.9957" stop-color="#a78e69"/><stop offset="0.9986" stop-color="#ab936c"/></linearGradient>
<linearGradient id="g395" gradientUnits="userSpaceOnUse" x1="916.00" y1="0" x2="1251.00" y2="0"><stop offset="0.001493" stop-color="#987b61"/><stop offset="0.909" stop-color="#9a7d62"/><stop offset="0.9657" stop-color="#9e8365"/><stop offset="0.9776" stop-color="#a18766"/><stop offset="0.9955" stop-color="#a18766"/><stop offset="0.9985" stop-color="#a68c69"/></linearGradient>
<linearGradient id="g396" gradientUnits="userSpaceOnUse" x1="916.00" y1="0" x2="1251.00" y2="0"><stop offset="0.001493" stop-color="#987b61"/><stop offset="0.909" stop-color="#9a7d62"/><stop offset="0.9657" stop-color="#9e8365"/><stop offset="0.9776" stop-color="#a18766"/><stop offset="0.9955" stop-color="#a18766"/><stop offset="0.9985" stop-color="#a68c69"/></linearGradient>
<linearGradient id="g397" gradientUnits="userSpaceOnUse" x1="916.00" y1="0" x2="1241.00" y2="0"><stop offset="0.001538" stop-color="#91725e"/><stop offset="0.9062" stop-color="#93755f"/><stop offset="0.9677" stop-color="#987b61"/><stop offset="0.9769" stop-color="#9c8063"/><stop offset="0.9954" stop-color="#9c8063"/><stop offset="0.9985" stop-color="#a08666"/></linearGradient>
<linearGradient id="g398" gradientUnits="userSpaceOnUse" x1="916.00" y1="0" x2="1241.00" y2="0"><stop offset="0.001538" stop-color="#91725e"/><stop offset="0.9062" stop-color="#93755f"/><stop offset="0.9677" stop-color="#987b61"/><stop offset="0.9769" stop-color="#9c8063"/><stop offset="0.9954" stop-color="#9c8063"/><stop offset="0.9985" stop-color="#a08666"/></linearGradient>
<linearGradient id="g399" gradientUnits="userSpaceOnUse" x1="916.00" y1="0" x2="1222.00" y2="0"><stop offset="0.001634" stop-color="#8a695a"/><stop offset="0.9297" stop-color="#8d6d5c"/><stop offset="0.9951" stop-color="#93745e"/><stop offset="0.9984" stop-color="#977961"/></linearGradient>
<linearGradient id="g400" gradientUnits="userSpaceOnUse" x1="916.00" y1="0" x2="1212.00" y2="0"><stop offset="0.001689" stop-color="#836156"/><stop offset="0.8936" stop-color="#856357"/><stop offset="0.9611" stop-color="#8a695a"/><stop offset="0.9747" stop-color="#8d6d5b"/><stop offset="0.9949" stop-color="#8d6d5b"/><stop offset="0.9983" stop-color="#91735e"/></linearGradient>
<linearGradient id="g401" gradientUnits="userSpaceOnUse" x1="916.00" y1="0" x2="1212.00" y2="0"><stop offset="0.001689" stop-color="#836156"/><stop offset="0.8936" stop-color="#856357"/><stop offset="0.9611" stop-color="#8a695a"/><stop offset="0.9747" stop-color="#8d6d5b"/><stop offset="0.9949" stop-color="#8d6d5b"/><stop offset="0.9983" stop-color="#91735e"/></linearGradient>
<linearGradient id="g402" gradientUnits="userSpaceOnUse" x1="916.00" y1="0" x2="1202.00" y2="0"><stop offset="0.001748" stop-color="#805c54"/><stop offset="0.9248" stop-color="#825e55"/><stop offset="0.9598" stop-color="#846257"/><stop offset="0.9703" stop-color="#886659"/><stop offset="0.9948" stop-color="#886659"/><stop offset="0.9983" stop-color="#8c6c5b"/></linearGradient>
<linearGradient id="g403" gradientUnits="userSpaceOnUse" x1="916.00" y1="0" x2="1202.00" y2="0"><stop offset="0.001748" stop-color="#805c54"/><stop offset="0.9248" stop-color="#825e55"/><stop offset="0.9598" stop-color="#846257"/><stop offset="0.9703" stop-color="#886659"/><stop offset="0.9948" stop-color="#886659"/><stop offset="0.9983" stop-color="#8c6c5b"/></linearGradient>
<linearGradient id="g404" gradientUnits="userSpaceOnUse" x1="916.00" y1="0" x2="1172.00" y2="0"><stop offset="0.001953" stop-color="#836058"/><stop offset="0.998" stop-color="#805d54"/></linearGradient>
<linearGradient id="g405" gradientUnits="userSpaceOnUse" x1="916.00" y1="0" x2="1172.00" y2="0"><stop offset="0.001953" stop-color="#836058"/><stop offset="0.998" stop-color="#805d54"/></linearGradient>
<linearGradient id="g406" gradientUnits="userSpaceOnUse" x1="916.00" y1="0" x2="1172.00" y2="0"><stop offset="0.001953" stop-color="#86645d"/><stop offset="0.9551" stop-color="#84615a"/><stop offset="0.998" stop-color="#805c54"/></linearGradient>
<linearGradient id="g407" gradientUnits="userSpaceOnUse" x1="916.00" y1="0" x2="1172.00" y2="0"><stop offset="0.001953" stop-color="#86645d"/><stop offset="0.9551" stop-color="#84615a"/><stop offset="0.998" stop-color="#805c54"/></linearGradient>
<linearGradient id="g408" gradientUnits="userSpaceOnUse" x1="916.00" y1="0" x2="1162.00" y2="0"><stop offset="0.002033" stop-color="#896861"/><stop offset="0.9533" stop-color="#87655e"/><stop offset="0.998" stop-color="#836059"/></linearGradient>
<linearGradient id="g409" gradientUnits="userSpaceOnUse" x1="916.00" y1="0" x2="1162.00" y2="0"><stop offset="0.002033" stop-color="#896861"/><stop offset="0.9533" stop-color="#87655e"/><stop offset="0.998" stop-color="#836059"/></linearGradient>
<linearGradient id="g410" gradientUnits="userSpaceOnUse" x1="916.00" y1="0" x2="1152.00" y2="0"><stop offset="0.002119" stop-color="#8c6c65"/><stop offset="0.9513" stop-color="#8a6962"/><stop offset="0.9979" stop-color="#86645d"/></linearGradient>
<linearGradient id="g411" gradientUnits="userSpaceOnUse" x1="916.00" y1="0" x2="1152.00" y2="0"><stop offset="0.002119" stop-color="#8c6c65"/><stop offset="0.9513" stop-color="#8a6962"/><stop offset="0.9979" stop-color="#86645d"/></linearGradient>
<linearGradient id="g412" gradientUnits="userSpaceOnUse" x1="916.00" y1="0" x2="1142.00" y2="0"><stop offset="0.002212" stop-color="#8f7069"/><stop offset="0.9491" stop-color="#8d6d66"/><stop offset="0.9978" stop-color="#896861"/></linearGradient>
<linearGradient id="g413" gradientUnits="userSpaceOnUse" x1="916.00" y1="0" x2="1132.00" y2="0"><stop offset="0.002315" stop-color="#93746e"/><stop offset="0.9468" stop-color="#90716a"/><stop offset="0.9977" stop-color="#8c6c65"/></linearGradient>
<linearGradient id="g414" gradientUnits="userSpaceOnUse" x1="916.00" y1="0" x2="1132.00" y2="0"><stop offset="0.002315" stop-color="#93746e"/><stop offset="0.9468" stop-color="#90716a"/><stop offset="0.9977" stop-color="#8c6c65"/></linearGradient>
<linearGradient id="g415" gradientUnits="userSpaceOnUse" x1="916.00" y1="0" x2="1122.00" y2="0"><stop offset="0.002427" stop-color="#967872"/><stop offset="0.9442" stop-color="#93756f"/><stop offset="0.9976" stop-color="#8f7069"/></linearGradient>
<linearGradient id="g416" gradientUnits="userSpaceOnUse" x1="916.00" y1="0" x2="1122.00" y2="0"><stop offset="0.002427" stop-color="#967872"/><stop offset="0.9442" stop-color="#93756f"/><stop offset="0.9976" stop-color="#8f7069"/></linearGradient>
<linearGradient id="g417" gradientUnits="userSpaceOnUse" x1="916.00" y1="0" x2="1112.00" y2="0"><stop offset="0.002551" stop-color="#997c76"/><stop offset="0.9413" stop-color="#967973"/><stop offset="0.9974" stop-color="#92746d"/></linearGradient>
<linearGradient id="g418" gradientUnits="userSpaceOnUse" x1="916.00" y1="0" x2="1112.00" y2="0"><stop offset="0.002551" stop-color="#997c76"/><stop offset="0.9413" stop-color="#967973"/><stop offset="0.9974" stop-color="#92746d"/></linearGradient>
<linearGradient id="g419" gradientUnits="userSpaceOnUse" x1="916.00" y1="0" x2="1082.00" y2="0"><stop offset="0.003012" stop-color="#9f847e"/><stop offset="0.991" stop-color="#9b7f79"/><stop offset="0.997" stop-color="#9a7e78"/></linearGradient>
<linearGradient id="g420" gradientUnits="userSpaceOnUse" x1="916.00" y1="0" x2="1082.00" y2="0"><stop offset="0.003012" stop-color="#9f847e"/><stop offset="0.991" stop-color="#9b7f79"/><stop offset="0.997" stop-color="#9a7e78"/></linearGradient>
<linearGradient id="g421" gradientUnits="userSpaceOnUse" x1="916.00" y1="0" x2="1052.00" y2="0"><stop offset="0.003676" stop-color="#a58c86"/><stop offset="0.989" stop-color="#a18782"/><stop offset="0.9963" stop-color="#a08580"/></linearGradient>
<linearGradient id="g422" gradientUnits="userSpaceOnUse" x1="916.00" y1="0" x2="1052.00" y2="0"><stop offset="0.003676" stop-color="#a58c86"/><stop offset="0.989" stop-color="#a18782"/><stop offset="0.9963" stop-color="#a08580"/></linearGradient>
<linearGradient id="g423" gradientUnits="userSpaceOnUse" x1="916.00" y1="0" x2="1022.00" y2="0"><stop offset="0.004717" stop-color="#ab948f"/><stop offset="0.9953" stop-color="#a68d88"/></linearGradient>
<linearGradient id="g424" gradientUnits="userSpaceOnUse" x1="916.00" y1="0" x2="992.00" y2="0"><stop offset="0.006579" stop-color="#b19b97"/><stop offset="0.9934" stop-color="#ac9590"/></linearGradient>
<linearGradient id="g425" gradientUnits="userSpaceOnUse" x1="916.00" y1="0" x2="992.00" y2="0"><stop offset="0.006579" stop-color="#b19b97"/><stop offset="0.9934" stop-color="#ac9590"/></linearGradient>
<linearGradient id="g426" gradientUnits="userSpaceOnUse" x1="916.00" y1="0" x2="962.00" y2="0"><stop offset="0.01087" stop-color="#b7a39e"/><stop offset="0.9891" stop-color="#b29d98"/></linearGradient>
<linearGradient id="g427" gradientUnits="userSpaceOnUse" x1="916.00" y1="0" x2="962.00" y2="0"><stop offset="0.01087" stop-color="#b7a39e"/><stop offset="0.9891" stop-color="#b29d98"/></linearGradient>
<linearGradient id="g428" gradientUnits="userSpaceOnUse" x1="0" y1="449.30" x2="0" y2="108.30"><stop offset="0" stop-color="#333399"/><stop offset="0.15" stop-color="#0099ff"/><stop offset="0.25" stop-color="#00cc66"/><stop offset="0.5" stop-color="#ffff99"/><stop offset="0.75" stop-color="#805c54"/><stop offset="1" stop-color="#ffffff"/></linearGradient>
<linearGradient id="g429" gradientUnits="userSpaceOnUse" x1="0" y1="1038.20" x2="0" y2="667.00"><stop offset="0" stop-color="#333399"/><stop offset="0.15" stop-color="#0099ff"/><stop offset="0.25" stop-color="#00cc66"/><stop offset="0.5" stop-color="#ffff99"/><stop offset="0.75" stop-color="#805c54"/><stop offset="1" stop-color="#ffffff"/></linearGradient>
<linearGradient id="g430" gradientUnits="userSpaceOnUse" x1="0" y1="437.80" x2="0" y2="112.50"><stop offset="0" stop-color="#333399"/><stop offset="0.15" stop-color="#0099ff"/><stop offset="0.25" stop-color="#00cc66"/><stop offset="0.5" stop-color="#ffff99"/><stop offset="0.75" stop-color="#805c54"/><stop offset="1" stop-color="#ffffff"/></linearGradient>
<linearGradient id="g431" gradientUnits="userSpaceOnUse" x1="0" y1="1003.20" x2="0" y2="650.20"><stop offset="0" stop-color="#333399"/><stop offset="0.1576" stop-color="#0099ff"/><stop offset="0.2627" stop-color="#00cc66"/><stop offset="0.5255" stop-color="#ffff99"/><stop offset="0.7882" stop-color="#805c54"/><stop offset="0.9999" stop-color="#e6dfde"/></linearGradient></defs>
<rect width="100%" height="100%" fill="#fff"/>
<clipPath id="ca"><rect x="127.10" y="91.10" width="494.20" height="358.20"/></clipPath>
<g clip-path="url(#ca)">
<rect x="127" y="91" width="495" height="359" fill="url(#g0)"/>
<rect x="127" y="91" width="495" height="2" fill="url(#g1)"/>
<rect x="127" y="93" width="495" height="2" fill="url(#g2)"/>
<rect x="127" y="95" width="495" height="2" fill="url(#g3)"/>
<rect x="127" y="97" width="495" height="2" fill="url(#g4)"/>
<rect x="127" y="99" width="495" height="2" fill="url(#g5)"/>
<rect x="127" y="101" width="492" height="2" fill="url(#g6)"/>
<rect x="127" y="103" width="489" height="2" fill="url(#g7)"/>
<rect x="127" y="105" width="486" height="2" fill="url(#g8)"/>
<rect x="127" y="107" width="483" height="2" fill="url(#g9)"/>
<rect x="127" y="109" width="480" height="2" fill="url(#g10)"/>
<rect x="127" y="111" width="477" height="2" fill="url(#g11)"/>
<rect x="127" y="113" width="474" height="2" fill="url(#g12)"/>
<rect x="127" y="115" width="471" height="2" fill="url(#g13)"/>
<rect x="127" y="117" width="469" height="2" fill="url(#g14)"/>
<rect x="127" y="119" width="466" height="2" fill="url(#g15)"/>
<rect x="127" y="121" width="463" height="2" fill="url(#g16)"/>
<rect x="127" y="123" width="460" height="2" fill="url(#g17)"/>
<rect x="127" y="125" width="457" height="1" fill="url(#g18)"/>
<rect x="127" y="126" width="456" height="1" fill="url(#g19)"/>
<rect x="127" y="127" width="454" height="1" fill="url(#g20)"/>
<rect x="127" y="128" width="453" height="1" fill="url(#g21)"/>
<rect x="127" y="129" width="451" height="1" fill="url(#g22)"/>
<rect x="127" y="130" width="450" height="1" fill="url(#g23)"/>
<rect x="127" y="131" width="448" height="1" fill="url(#g24)"/>
<rect x="127" y="132" width="447" height="1" fill="url(#g25)"/>
<rect x="127" y="133" width="445" height="1" fill="url(#g26)"/>
<rect x="127" y="134" width="444" height="1" fill="url(#g27)"/>
<rect x="127" y="135" width="442" height="1" fill="url(#g28)"/>
<rect x="127" y="136" width="441" height="1" fill="url(#g29)"/>
<rect x="127" y="137" width="440" height="1" fill="url(#g30)"/>
<rect x="127" y="138" width="438" height="1" fill="url(#g31)"/>
<rect x="127" y="139" width="437" height="1" fill="url(#g32)"/>
<rect x="127" y="140" width="435" height="1" fill="url(#g33)"/>
<rect x="127" y="141" width="434" height="1" fill="url(#g34)"/>
<rect x="127" y="142" width="432" height="1" fill="url(#g35)"/>
<rect x="127" y="143" width="431" height="1" fill="url(#g36)"/>
<rect x="127" y="144" width="429" height="1" fill="url(#g37)"/>
<rect x="127" y="145" width="428" height="1" fill="url(#g38)"/>
<rect x="127" y="146" width="427" height="1" fill="url(#g39)"/>
<rect x="127" y="147" width="425" height="1" fill="url(#g40)"/>
<rect x="127" y="148" width="425" height="1" fill="url(#g41)"/>
<rect x="127" y="149" width="425" height="1" fill="url(#g42)"/>
<rect x="127" y="150" width="425" height="1" fill="url(#g43)"/>
<rect x="127" y="151" width="425" height="1" fill="url(#g44)"/>
<rect x="127" y="152" width="425" height="1" fill="url(#g45)"/>
<rect x="127" y="153" width="426" height="1" fill="url(#g46)"/>
<rect x="127" y="154" width="426" height="1" fill="url(#g47)"/>
<rect x="127" y="155" width="424" height="1" fill="url(#g48)"/>
<rect x="127" y="156" width="423" height="1" fill="url(#g49)"/>
<rect x="127" y="157" width="421" height="1" fill="url(#g50)"/>
<rect x="127" y="158" width="420" height="1" fill="url(#g51)"/>
<rect x="127" y="159" width="418" height="1" fill="url(#g52)"/>
<rect x="127" y="160" width="417" height="1" fill="url(#g53)"/>
<rect x="127" y="161" width="415" height="1" fill="url(#g54)"/>
<rect x="127" y="162" width="414" height="1" fill="url(#g55)"/>
<rect x="127" y="163" width="413" height="1" fill="url(#g56)"/>
<rect x="127" y="164" width="411" height="1" fill="url(#g57)"/>
<rect x="127" y="165" width="410" height="1" fill="url(#g58)"/>
<rect x="127" y="166" width="408" height="1" fill="url(#g59)"/>
<rect x="127" y="167" width="407" height="1" fill="url(#g60)"/>
<rect x="127" y="168" width="405" height="1" fill="url(#g61)"/>
<rect x="127" y="169" width="404" height="1" fill="url(#g62)"/>
<rect x="127" y="170" width="402" height="1" fill="url(#g63)"/>
<rect x="127" y="171" width="401" height="1" fill="url(#g64)"/>
<rect x="127" y="172" width="399" height="1" fill="url(#g65)"/>
<rect x="127" y="173" width="398" height="1" fill="url(#g66)"/>
<rect x="127" y="174" width="396" height="1" fill="url(#g67)"/>
<rect x="127" y="175" width="395" height="1" fill="url(#g68)"/>
<rect x="127" y="176" width="393" height="1" fill="url(#g69)"/>
<rect x="127" y="177" width="392" height="1" fill="url(#g70)"/>
<rect x="127" y="178" width="391" height="1" fill="url(#g71)"/>
<rect x="127" y="179" width="389" height="1" fill="url(#g72)"/>
<rect x="127" y="180" width="388" height="1" fill="url(#g73)"/>
<rect x="127" y="181" width="386" height="1" fill="url(#g74)"/>
<rect x="127" y="182" width="385" height="1" fill="url(#g75)"/>
<rect x="127" y="183" width="383" height="1" fill="url(#g76)"/>
<rect x="127" y="184" width="381" height="1" fill="url(#g77)"/>
<rect x="127" y="185" width="380" height="1" fill="url(#g78)"/>
<rect x="127" y="186" width="373" height="1" fill="url(#g79)"/>
<rect x="127" y="187" width="371" height="1" fill="url(#g80)"/>
<rect x="127" y="188" width="370" height="1" fill="url(#g81)"/>
<rect x="127" y="189" width="368" height="1" fill="url(#g82)"/>
<rect x="127" y="190" width="367" height="1" fill="url(#g83)"/>
<rect x="127" y="191" width="365" height="1" fill="url(#g84)"/>
<rect x="127" y="192" width="364" height="1" fill="url(#g85)"/>
<rect x="127" y="193" width="362" height="1" fill="url(#g86)"/>
<rect x="127" y="194" width="361" height="1" fill="url(#g87)"/>
<rect x="127" y="195" width="359" height="1" fill="url(#g88)"/>
<rect x="127" y="196" width="358" height="1" fill="url(#g89)"/>
<rect x="127" y="197" width="356" height="2" fill="url(#g90)"/>
<rect x="127" y="199" width="353" height="2" fill="url(#g91)"/>
<rect x="127" y="201" width="350" height="2" fill="url(#g92)"/>
<rect x="127" y="203" width="346" height="2" fill="url(#g93)"/>
<rect x="127" y="205" width="343" height="2" fill="url(#g94)"/>
<rect x="127" y="207" width="340" height="2" fill="url(#g95)"/>
<rect x="127" y="209" width="337" height="2" fill="url(#g96)"/>
<rect x="127" y="211" width="334" height="2" fill="url(#g97)"/>
<rect x="127" y="213" width="331" height="2" fill="url(#g98)"/>
<rect x="127" y="215" width="327" height="2" fill="url(#g99)"/>
<rect x="127" y="217" width="324" height="2" fill="url(#g100)"/>
<rect x="127" y="219" width="321" height="2" fill="url(#g101)"/>
<rect x="127" y="221" width="318" height="2" fill="url(#g102)"/>
<rect x="127" y="223" width="315" height="2" fill="url(#g103)"/>
<rect x="127" y="225" width="311" height="2" fill="url(#g104)"/>
<rect x="127" y="227" width="308" height="2" fill="url(#g105)"/>
<rect x="127" y="229" width="305" height="2" fill="url(#g106)"/>
<rect x="127" y="231" width="302" height="2" fill="url(#g107)"/>
<rect x="127" y="233" width="298" height="2" fill="url(#g108)"/>
<rect x="127" y="235" width="295" height="2" fill="url(#g109)"/>
<rect x="127" y="237" width="292" height="2" fill="url(#g110)"/>
<rect x="127" y="239" width="288" height="2" fill="url(#g111)"/>
<rect x="127" y="241" width="285" height="2" fill="url(#g112)"/>
<rect x="127" y="243" width="281" height="2" fill="url(#g113)"/>
<rect x="127" y="245" width="278" height="2" fill="url(#g114)"/>
<rect x="127" y="247" width="274" height="2" fill="url(#g115)"/>
<rect x="127" y="249" width="271" height="2" fill="url(#g116)"/>
<rect x="127" y="251" width="267" height="2" fill="url(#g117)"/>
<rect x="127" y="253" width="264" height="2" fill="url(#g118)"/>
<rect x="127" y="255" width="261" height="2" fill="url(#g119)"/>
<rect x="127" y="257" width="251" height="2" fill="url(#g120)"/>
<rect x="127" y="259" width="247" height="2" fill="url(#g121)"/>
<rect x="127" y="261" width="244" height="2" fill="url(#g122)"/>
<rect x="127" y="263" width="240" height="2" fill="url(#g123)"/>
<rect x="127" y="265" width="236" height="2" fill="url(#g124)"/>
<rect x="127" y="267" width="233" height="2" fill="url(#g125)"/>
<rect x="127" y="269" width="229" height="2" fill="url(#g126)"/>
<rect x="127" y="271" width="226" height="2" fill="url(#g127)"/>
<rect x="127" y="273" width="222" height="2" fill="url(#g128)"/>
<rect x="127" y="275" width="218" height="2" fill="url(#g129)"/>
<rect x="127" y="277" width="215" height="2" fill="url(#g130)"/>
<rect x="127" y="279" width="211" height="2" fill="url(#g131)"/>
<rect x="127" y="281" width="208" height="2" fill="url(#g132)"/>
<rect x="127" y="283" width="204" height="2" fill="url(#g133)"/>
<rect x="127" y="285" width="201" height="2" fill="url(#g134)"/>
<rect x="127" y="287" width="197" height="2" fill="url(#g135)"/>
<rect x="127" y="289" width="194" height="2" fill="url(#g136)"/>
<rect x="127" y="291" width="190" height="2" fill="url(#g137)"/>
<rect x="127" y="293" width="187" height="2" fill="url(#g138)"/>
<rect x="127" y="295" width="183" height="2" fill="url(#g139)"/>
<rect x="127" y="297" width="179" height="2" fill="url(#g140)"/>
<rect x="127" y="299" width="176" height="2" fill="url(#g141)"/>
<rect x="127" y="301" width="172" height="2" fill="url(#g142)"/>
<rect x="127" y="303" width="169" height="2" fill="url(#g143)"/>
<rect x="127" y="305" width="165" height="2" fill="url(#g144)"/>
<rect x="127" y="307" width="162" height="2" fill="url(#g145)"/>
<rect x="127" y="309" width="158" height="2" fill="url(#g146)"/>
<rect x="127" y="311" width="155" height="2" fill="url(#g147)"/>
<rect x="127" y="313" width="151" height="2" fill="url(#g148)"/>
<rect x="127" y="315" width="148" height="2" fill="url(#g149)"/>
<rect x="127" y="317" width="144" height="2" fill="url(#g150)"/>
<rect x="127" y="319" width="141" height="2" fill="url(#g151)"/>
<rect x="127" y="321" width="137" height="2" fill="url(#g152)"/>
<rect x="127" y="323" width="133" height="2" fill="url(#g153)"/>
<rect x="127" y="325" width="130" height="2" fill="url(#g154)"/>
<rect x="127" y="327" width="127" height="2" fill="url(#g155)"/>
<rect x="127" y="329" width="123" height="2" fill="url(#g156)"/>
<rect x="127" y="331" width="120" height="2" fill="url(#g157)"/>
<rect x="127" y="333" width="116" height="2" fill="url(#g158)"/>
<rect x="127" y="335" width="113" height="2" fill="url(#g159)"/>
<rect x="127" y="337" width="109" height="2" fill="url(#g160)"/>
<rect x="127" y="339" width="106" height="2" fill="url(#g161)"/>
<rect x="127" y="341" width="102" height="2" fill="url(#g162)"/>
<rect x="127" y="343" width="98" height="2" fill="url(#g163)"/>
<rect x="127" y="345" width="95" height="2" fill="url(#g164)"/>
<rect x="127" y="347" width="91" height="2" fill="url(#g165)"/>
<rect x="127" y="349" width="88" height="2" fill="url(#g166)"/>
<rect x="127" y="351" width="84" height="2" fill="url(#g167)"/>
<rect x="127" y="353" width="80" height="2" fill="url(#g168)"/>
<rect x="127" y="355" width="77" height="2" fill="url(#g169)"/>
<rect x="127" y="357" width="73" height="2" fill="url(#g170)"/>
<rect x="127" y="359" width="70" height="2" fill="url(#g171)"/>
<rect x="127" y="361" width="66" height="2" fill="url(#g172)"/>
<rect x="127" y="363" width="62" height="2" fill="url(#g173)"/>
<rect x="127" y="365" width="59" height="2" fill="url(#g174)"/>
<rect x="127" y="367" width="55" height="2" fill="url(#g175)"/>
<rect x="127" y="369" width="51" height="3" fill="url(#g176)"/>
<rect x="127" y="372" width="46" height="3" fill="url(#g177)"/>
<rect x="127" y="375" width="41" height="3" fill="url(#g178)"/>
<rect x="127" y="378" width="35" height="4" fill="url(#g179)"/>
<rect x="127" y="382" width="28" height="6" fill="url(#g180)"/>
<rect x="127" y="388" width="17" height="10" fill="url(#g181)"/>
<path d="M163.8,449.5 163.5,388.5 162.7,377.5 160.9,370.5 159.3,367.5 157.5,365.2 154.5,362.9 151.5,361.4 141.5,358.8 127.5,357.6M235.8,449.5 235.5,347.5 234.1,334.5 232.5,329.7 230.5,326.5 227.3,323.5 222.5,321.1 216.5,319.5 207.5,318.3 182.5,317.4 127.5,317.5M307.5,449.5 307.2,307.5 306.5,298.5 305.4,292.5 303.5,287.9 300.8,284.5 296.4,281.5 290.5,279.5 281.5,278.0 269.5,277.2 228.5,276.8 127.5,277.6M379.2,449.5 378.9,267.5 378.3,258.5 376.8,251.5 374.5,246.6 371.6,243.5 366.0,240.5 358.5,238.6 348.5,237.5 333.5,236.9 237.5,237.0 127.5,238.5M448.4,449.5 448.1,227.5 447.4,216.5 446.0,209.5 443.8,204.5 440.5,200.9 434.5,197.7 426.5,195.8 414.5,194.6 396.5,194.1 243.5,194.8 127.5,196.9M515.8,449.5 515.5,184.5 514.9,173.5 513.4,165.5 511.3,160.5 507.5,156.1 503.5,153.8 499.5,152.4 493.5,151.1 486.5,150.3 466.5,149.4 426.5,149.2 325.5,150.1 245.5,151.6 181.5,153.8 127.5,157.0M581.3,449.5 581.1,140.5 580.4,128.5 579.0,120.5 576.4,114.5 572.5,110.5 567.5,107.9 560.5,106.1 551.5,105.0 538.5,104.4 427.5,104.0 364.5,104.8 288.5,106.6 226.5,109.2 173.5,112.9 127.5,117.8" fill="none" stroke="#000" stroke-width="2.95" stroke-linejoin="round"/>
<path d="M127.0,375.5 440.5,204.4" fill="none" stroke="#ff0000" stroke-width="3.10"/>
<path d="M451.0,204.4 586.5,106.0" fill="none" stroke="#0000ff" stroke-width="3.10"/>
</g>
<rect x="127.10" y="91.10" width="494.20" height="358.20" fill="none" stroke="#000" stroke-width="1.60"/>
<clipPath id="cb"><rect x="127.10" y="649.10" width="494.00" height="389.10"/></clipPath>
<g clip-path="url(#cb)">
<rect x="127" y="649" width="495" height="390" fill="url(#g182)"/>
<rect x="127" y="649" width="495" height="6" fill="#333399"/>
<rect x="127" y="655" width="495" height="10" fill="#2b42a8"/>
<rect x="127" y="665" width="495" height="10" fill="#2452b8"/>
<rect x="127" y="675" width="495" height="1" fill="#2452b8"/>
<rect x="127" y="676" width="495" height="10" fill="#1c61c7"/>
<rect x="127" y="686" width="495" height="1" fill="#1c61c7"/>
<rect x="127" y="687" width="495" height="10" fill="url(#g183)"/>
<rect x="127" y="697" width="495" height="1" fill="url(#g184)"/>
<rect x="127" y="698" width="495" height="10" fill="url(#g185)"/>
<rect x="127" y="708" width="495" height="1" fill="url(#g186)"/>
<rect x="127" y="709" width="495" height="10" fill="url(#g187)"/>
<rect x="127" y="719" width="495" height="10" fill="url(#g188)"/>
<rect x="127" y="729" width="495" height="1" fill="url(#g189)"/>
<rect x="127" y="730" width="490" height="10" fill="url(#g190)"/>
<rect x="127" y="740" width="490" height="1" fill="url(#g191)"/>
<rect x="127" y="741" width="480" height="10" fill="url(#g192)"/>
<rect x="127" y="751" width="480" height="1" fill="url(#g193)"/>
<rect x="127" y="752" width="469" height="10" fill="url(#g194)"/>
<rect x="127" y="762" width="469" height="1" fill="url(#g195)"/>
<rect x="127" y="763" width="459" height="10" fill="url(#g196)"/>
<rect x="127" y="773" width="449" height="10" fill="url(#g197)"/>
<rect x="127" y="783" width="449" height="1" fill="url(#g198)"/>
<rect x="127" y="784" width="428" height="10" fill="url(#g199)"/>
<rect x="127" y="794" width="428" height="1" fill="url(#g200)"/>
<rect x="127" y="795" width="418" height="10" fill="url(#g201)"/>
<rect x="127" y="805" width="418" height="1" fill="url(#g202)"/>
<rect x="127" y="806" width="397" height="10" fill="url(#g203)"/>
<rect x="127" y="816" width="397" height="1" fill="url(#g204)"/>
<rect x="127" y="817" width="387" height="10" fill="url(#g205)"/>
<rect x="127" y="827" width="377" height="10" fill="url(#g206)"/>
<rect x="127" y="837" width="377" height="1" fill="url(#g207)"/>
<rect x="127" y="838" width="356" height="10" fill="url(#g208)"/>
<rect x="127" y="848" width="356" height="1" fill="url(#g209)"/>
<rect x="127" y="849" width="346" height="10" fill="url(#g210)"/>
<rect x="127" y="859" width="346" height="1" fill="url(#g211)"/>
<rect x="127" y="860" width="336" height="10" fill="url(#g212)"/>
<rect x="127" y="870" width="336" height="1" fill="url(#g213)"/>
<rect x="127" y="871" width="315" height="10" fill="url(#g214)"/>
<rect x="127" y="881" width="305" height="10" fill="url(#g215)"/>
<rect x="127" y="891" width="305" height="1" fill="url(#g216)"/>
<rect x="127" y="892" width="294" height="10" fill="url(#g217)"/>
<rect x="127" y="902" width="294" height="1" fill="url(#g218)"/>
<rect x="127" y="903" width="284" height="10" fill="url(#g219)"/>
<rect x="127" y="913" width="284" height="1" fill="url(#g220)"/>
<rect x="127" y="914" width="274" height="10" fill="url(#g221)"/>
<rect x="127" y="924" width="274" height="1" fill="url(#g222)"/>
<rect x="127" y="925" width="253" height="10" fill="url(#g223)"/>
<rect x="127" y="935" width="253" height="1" fill="url(#g224)"/>
<rect x="127" y="936" width="243" height="10" fill="url(#g225)"/>
<rect x="127" y="946" width="233" height="10" fill="url(#g226)"/>
<rect x="127" y="956" width="233" height="1" fill="url(#g227)"/>
<rect x="127" y="957" width="222" height="10" fill="url(#g228)"/>
<rect x="127" y="967" width="222" height="1" fill="url(#g229)"/>
<rect x="127" y="968" width="212" height="10" fill="url(#g230)"/>
<rect x="127" y="978" width="212" height="1" fill="url(#g231)"/>
<rect x="127" y="979" width="202" height="10" fill="url(#g232)"/>
<rect x="127" y="989" width="202" height="1" fill="url(#g233)"/>
<rect x="127" y="990" width="191" height="10" fill="url(#g234)"/>
<rect x="127" y="1000" width="181" height="10" fill="url(#g235)"/>
<rect x="127" y="1010" width="181" height="1" fill="url(#g236)"/>
<rect x="127" y="1011" width="171" height="10" fill="url(#g237)"/>
<rect x="127" y="1021" width="171" height="1" fill="url(#g238)"/>
<rect x="127" y="1022" width="150" height="10" fill="url(#g239)"/>
<rect x="127" y="1032" width="150" height="1" fill="url(#g240)"/>
<path d="M311.9,1038.2 309.3,995.0 304.5,984.2 291.8,976.8 127.1,974.0M406.1,1038.2 404.9,908.5 402.9,897.7 394.7,885.1 363.8,879.2 127.1,878.8M509.0,1038.2 508.6,832.8 505.4,811.2 497.6,801.2 456.4,795.2 127.1,795.0M615.0,1038.2 614.4,746.4 610.1,724.8 600.5,716.5 559.4,711.7 127.1,711.5" fill="none" stroke="#000" stroke-width="2.95" stroke-linejoin="round"/>
<path d="M373.5,902.5 611.0,716.5" fill="none" stroke="#ff0000" stroke-width="3.10"/>
</g>
<rect x="127.10" y="649.10" width="494.00" height="389.10" fill="none" stroke="#000" stroke-width="1.60"/>
<clipPath id="cc"><rect x="916.40" y="96.50" width="484.80" height="358.20"/></clipPath>
<g clip-path="url(#cc)">
<rect x="916" y="96" width="486" height="359" fill="url(#g241)"/>
<rect x="916" y="96" width="486" height="10" fill="#20d26c"/>
<rect x="916" y="106" width="486" height="10" fill="#20d26c"/>
<rect x="916" y="116" width="486" height="10" fill="#20d26c"/>
<rect x="916" y="126" width="485" height="10" fill="#20d26c"/>
<rect x="916" y="136" width="483" height="10" fill="#20d26c"/>
<rect x="916" y="146" width="480" height="10" fill="#21d36d"/>
<rect x="916" y="156" width="476" height="10" fill="#21d36d"/>
<rect x="916" y="166" width="472" height="10" fill="#22d36d"/>
<rect x="916" y="176" width="467" height="10" fill="#23d36d"/>
<rect x="916" y="186" width="461" height="10" fill="#25d36d"/>
<rect x="916" y="196" width="455" height="9" fill="url(#g242)"/>
<rect x="916" y="205" width="449" height="6" fill="url(#g243)"/>
<rect x="916" y="211" width="444" height="5" fill="url(#g244)"/>
<rect x="916" y="216" width="440" height="4" fill="url(#g245)"/>
<rect x="916" y="220" width="437" height="3" fill="url(#g246)"/>
<rect x="916" y="223" width="435" height="3" fill="url(#g247)"/>
<rect x="916" y="226" width="432" height="2" fill="url(#g248)"/>
<rect x="916" y="228" width="430" height="2" fill="url(#g249)"/>
<rect x="916" y="230" width="428" height="2" fill="url(#g250)"/>
<rect x="916" y="232" width="426" height="2" fill="url(#g251)"/>
<rect x="916" y="234" width="424" height="2" fill="url(#g252)"/>
<rect x="916" y="236" width="422" height="2" fill="url(#g253)"/>
<rect x="916" y="238" width="420" height="2" fill="url(#g254)"/>
<rect x="916" y="240" width="418" height="1" fill="url(#g255)"/>
<rect x="916" y="241" width="417" height="1" fill="url(#g256)"/>
<rect x="916" y="242" width="416" height="1" fill="url(#g257)"/>
<rect x="916" y="243" width="415" height="1" fill="url(#g258)"/>
<rect x="916" y="244" width="414" height="1" fill="url(#g259)"/>
<rect x="916" y="245" width="413" height="1" fill="url(#g260)"/>
<rect x="916" y="246" width="412" height="1" fill="url(#g261)"/>
<rect x="916" y="247" width="411" height="1" fill="url(#g262)"/>
<rect x="916" y="248" width="409" height="1" fill="url(#g263)"/>
<rect x="916" y="249" width="407" height="1" fill="url(#g264)"/>
<rect x="916" y="250" width="404" height="1" fill="url(#g265)"/>
<rect x="916" y="251" width="402" height="1" fill="url(#g266)"/>
<rect x="916" y="252" width="399" height="1" fill="url(#g267)"/>
<rect x="916" y="253" width="396" height="1" fill="url(#g268)"/>
<rect x="916" y="254" width="392" height="1" fill="url(#g269)"/>
<rect x="916" y="255" width="389" height="1" fill="url(#g270)"/>
<rect x="916" y="256" width="385" height="1" fill="url(#g271)"/>
<rect x="916" y="257" width="382" height="1" fill="url(#g272)"/>
<rect x="916" y="258" width="378" height="1" fill="url(#g273)"/>
<rect x="916" y="259" width="374" height="1" fill="url(#g274)"/>
<rect x="916" y="260" width="370" height="1" fill="url(#g275)"/>
<rect x="916" y="261" width="367" height="1" fill="url(#g276)"/>
<rect x="916" y="262" width="363" height="1" fill="url(#g277)"/>
<rect x="916" y="263" width="358" height="1" fill="url(#g278)"/>
<rect x="916" y="264" width="354" height="1" fill="url(#g279)"/>
<rect x="916" y="265" width="350" height="1" fill="url(#g280)"/>
<rect x="916" y="266" width="371" height="1" fill="url(#g281)"/>
<rect x="916" y="267" width="375" height="1" fill="url(#g282)"/>
<rect x="916" y="268" width="378" height="1" fill="url(#g283)"/>
<rect x="916" y="269" width="380" height="1" fill="url(#g284)"/>
<rect x="916" y="270" width="381" height="1" fill="url(#g285)"/>
<rect x="916" y="271" width="382" height="1" fill="url(#g286)"/>
<rect x="916" y="272" width="383" height="1" fill="url(#g287)"/>
<rect x="916" y="273" width="384" height="1" fill="url(#g288)"/>
<rect x="916" y="274" width="385" height="1" fill="url(#g289)"/>
<rect x="916" y="275" width="385" height="1" fill="url(#g290)"/>
<rect x="916" y="276" width="386" height="1" fill="url(#g291)"/>
<rect x="916" y="277" width="386" height="1" fill="url(#g292)"/>
<rect x="916" y="278" width="386" height="1" fill="url(#g293)"/>
<rect x="916" y="279" width="387" height="1" fill="url(#g294)"/>
<rect x="916" y="280" width="387" height="1" fill="url(#g295)"/>
<rect x="916" y="281" width="387" height="1" fill="url(#g296)"/>
<rect x="916" y="282" width="387" height="1" fill="url(#g297)"/>
<rect x="916" y="283" width="387" height="1" fill="url(#g298)"/>
<rect x="916" y="284" width="387" height="1" fill="url(#g299)"/>
<rect x="916" y="285" width="387" height="1" fill="url(#g300)"/>
<rect x="916" y="286" width="387" height="1" fill="url(#g301)"/>
<rect x="916" y="287" width="386" height="1" fill="url(#g302)"/>
<rect x="916" y="288" width="386" height="1" fill="url(#g303)"/>
<rect x="916" y="289" width="386" height="1" fill="url(#g304)"/>
<rect x="916" y="290" width="386" height="1" fill="url(#g305)"/>
<rect x="916" y="291" width="386" height="1" fill="url(#g306)"/>
<rect x="916" y="292" width="385" height="1" fill="url(#g307)"/>
<rect x="916" y="293" width="385" height="1" fill="url(#g308)"/>
<rect x="916" y="294" width="385" height="1" fill="url(#g309)"/>
<rect x="916" y="295" width="385" height="1" fill="url(#g310)"/>
<rect x="916" y="296" width="385" height="1" fill="url(#g311)"/>
<rect x="916" y="297" width="385" height="1" fill="url(#g312)"/>
<rect x="916" y="298" width="384" height="1" fill="url(#g313)"/>
<rect x="916" y="299" width="384" height="1" fill="url(#g314)"/>
<rect x="916" y="300" width="384" height="1" fill="url(#g315)"/>
<rect x="916" y="301" width="384" height="1" fill="url(#g316)"/>
<rect x="916" y="302" width="383" height="1" fill="url(#g317)"/>
<rect x="916" y="303" width="383" height="1" fill="url(#g318)"/>
<rect x="916" y="304" width="383" height="1" fill="url(#g319)"/>
<rect x="916" y="305" width="383" height="1" fill="url(#g320)"/>
<rect x="916" y="306" width="382" height="1" fill="url(#g321)"/>
<rect x="916" y="307" width="382" height="1" fill="url(#g322)"/>
<rect x="916" y="308" width="382" height="1" fill="url(#g323)"/>
<rect x="916" y="309" width="382" height="1" fill="url(#g324)"/>
<rect x="916" y="310" width="381" height="1" fill="url(#g325)"/>
<rect x="916" y="311" width="381" height="1" fill="url(#g326)"/>
<rect x="916" y="312" width="381" height="1" fill="url(#g327)"/>
<rect x="916" y="313" width="380" height="1" fill="url(#g328)"/>
<rect x="916" y="314" width="380" height="1" fill="url(#g329)"/>
<rect x="916" y="315" width="379" height="1" fill="url(#g330)"/>
<rect x="916" y="316" width="379" height="1" fill="url(#g331)"/>
<rect x="916" y="317" width="379" height="1" fill="url(#g332)"/>
<rect x="916" y="318" width="378" height="1" fill="url(#g333)"/>
<rect x="916" y="319" width="378" height="1" fill="url(#g334)"/>
<rect x="916" y="320" width="377" height="1" fill="url(#g335)"/>
<rect x="916" y="321" width="377" height="1" fill="url(#g336)"/>
<rect x="916" y="322" width="377" height="2" fill="url(#g337)"/>
<rect x="916" y="324" width="376" height="2" fill="url(#g338)"/>
<rect x="916" y="326" width="375" height="2" fill="url(#g339)"/>
<rect x="916" y="328" width="373" height="2" fill="url(#g340)"/>
<rect x="916" y="330" width="372" height="2" fill="url(#g341)"/>
<rect x="916" y="332" width="371" height="2" fill="url(#g342)"/>
<rect x="916" y="334" width="369" height="2" fill="url(#g343)"/>
<rect x="916" y="336" width="368" height="2" fill="url(#g344)"/>
<rect x="916" y="338" width="366" height="2" fill="url(#g345)"/>
<rect x="916" y="340" width="364" height="2" fill="url(#g346)"/>
<rect x="916" y="342" width="362" height="2" fill="url(#g347)"/>
<rect x="916" y="344" width="360" height="2" fill="url(#g348)"/>
<rect x="916" y="346" width="357" height="2" fill="url(#g349)"/>
<rect x="916" y="348" width="353" height="2" fill="url(#g350)"/>
<rect x="916" y="350" width="349" height="2" fill="url(#g351)"/>
<rect x="916" y="352" width="344" height="2" fill="url(#g352)"/>
<rect x="916" y="354" width="336" height="2" fill="url(#g353)"/>
<rect x="916" y="356" width="170" height="2" fill="url(#g354)"/>
<rect x="916" y="358" width="163" height="2" fill="url(#g355)"/>
<rect x="916" y="360" width="95" height="2" fill="url(#g356)"/>
<rect x="916" y="362" width="92" height="2" fill="url(#g357)"/>
<rect x="916" y="364" width="89" height="2" fill="url(#g358)"/>
<rect x="916" y="366" width="85" height="2" fill="url(#g359)"/>
<rect x="916" y="368" width="82" height="2" fill="url(#g360)"/>
<rect x="916" y="370" width="78" height="2" fill="url(#g361)"/>
<rect x="916" y="372" width="74" height="2" fill="url(#g362)"/>
<rect x="916" y="374" width="69" height="3" fill="url(#g363)"/>
<rect x="916" y="377" width="63" height="3" fill="url(#g364)"/>
<rect x="916" y="380" width="56" height="3" fill="url(#g365)"/>
<rect x="916" y="383" width="49" height="4" fill="url(#g366)"/>
<rect x="916" y="387" width="40" height="5" fill="url(#g367)"/>
<rect x="916" y="392" width="29" height="10" fill="url(#g368)"/>
<rect x="916" y="402" width="6" height="10" fill="url(#g369)"/>
<clipPath id="kc0"><rect x="919.00" y="0" width="1550" height="1138"/></clipPath><g clip-path="url(#kc0)">
<path d="M995.0,454.5 995.0,397.5 994.5,379.5 993.0,367.5 991.7,363.5 989.5,359.7 986.3,356.5 982.5,354.2 976.5,352.1 969.5,350.6 951.5,349.1 916.5,348.4M1073.5,454.5 1073.5,399.5 1076.1,339.5 1075.6,334.5 1074.9,331.5 1073.2,328.5 1071.5,326.8 1067.4,324.5 1060.4,322.5 1051.5,321.3 1039.5,320.7 1007.5,320.5 916.5,322.0M1156.7,454.5 1157.2,360.5 1159.0,340.5 1162.8,320.5 1163.2,313.5 1162.8,308.5 1161.9,305.5 1160.6,303.5 1158.2,301.5 1154.5,299.8 1150.5,298.8 1139.5,297.3 1124.5,296.6 1099.5,296.8 1060.5,297.7 1009.4,299.5 986.5,301.2 958.5,302.5 916.5,305.8M1245.4,454.5 1245.4,360.5 1248.5,302.5 1249.0,283.5 1248.2,277.5 1246.2,272.5 1243.5,269.3 1239.5,266.6 1228.5,264.3 1210.5,263.0 1181.5,262.8 1167.5,263.7 1135.5,268.0 1079.4,279.5 1058.5,282.9 1056.6,283.5 1052.5,283.8 1050.6,284.5 1046.5,284.8 1044.5,285.5 1027.5,287.8 1025.5,288.5 1021.5,288.7 1019.0,289.5 1014.5,289.8 1012.8,290.5 1008.5,290.8 1006.7,291.5 1002.5,291.8 1000.7,292.5 996.5,292.8 995.5,293.5 991.5,293.7 989.6,294.5M1324.9,454.5 1324.9,293.5 1324.4,264.5 1323.0,250.5 1320.4,240.5 1316.5,233.4 1313.9,230.5 1310.5,227.9 1301.5,224.6 1289.5,222.3 1273.5,220.8 1250.5,220.0 1185.5,219.5 916.5,219.5M1389.1,454.5 1389.0,279.5 1387.9,233.5 1386.1,216.5 1382.9,203.5 1380.9,198.5 1378.1,193.5 1374.9,189.5 1371.5,186.4 1366.5,183.9 1360.5,181.7 1346.2,178.5 1326.5,176.4 1301.5,175.3 1223.5,174.6 916.5,174.5M1401.5,135.3 1372.5,133.8 1335.5,133.1 992.5,131.6 954.5,129.9 934.5,127.6 916.5,124.8" fill="none" stroke="#000" stroke-width="2.95" stroke-linejoin="round"/>
</g>
<path d="M919.3,258.4 940.0,258.8 960.0,259.4 985.7,260.4M995.0,260.6 1010.0,261.6 1030.0,263.6 1046.0,265.8 1056.0,268.0 1062.0,270.5 1064.3,273.0 1063.0,275.6 1059.7,278.0M938.5,297.4 955.0,296.8 970.9,296.1M985.7,295.3 989.5,294.6" fill="none" stroke="#000" stroke-width="2.95" stroke-linejoin="round"/>
<path d="M919.3,431.0 919.3,456.0" fill="none" stroke="#000" stroke-width="2.40" stroke-linejoin="round"/>
<path d="M918.0,377.5 958.2,356.3" fill="none" stroke="#ff0000" stroke-width="3.10"/>
<path d="M982.5,344.0 1255.0,252.5" fill="none" stroke="#008000" stroke-width="3.10"/>
<path d="M1301.2,226.9 1391.8,168.0" fill="none" stroke="#d3d3d3" stroke-width="3.10" stroke-dasharray="14.2,4.5"/>
</g>
<rect x="916.40" y="96.50" width="484.80" height="358.20" fill="none" stroke="#000" stroke-width="1.60"/>
<clipPath id="cd"><rect x="916.50" y="631.30" width="478.50" height="390.20"/></clipPath>
<g clip-path="url(#cd)">
<rect x="916" y="631" width="479" height="391" fill="url(#g370)"/>
<rect x="916" y="631" width="479" height="10" fill="#14d06a"/>
<rect x="916" y="641" width="479" height="7" fill="#14d06a"/>
<rect x="916" y="648" width="479" height="10" fill="#33d670"/>
<rect x="916" y="658" width="479" height="10" fill="#33d670"/>
<rect x="916" y="668" width="479" height="1" fill="#33d670"/>
<rect x="916" y="669" width="479" height="10" fill="url(#g371)"/>
<rect x="916" y="679" width="479" height="1" fill="url(#g372)"/>
<rect x="916" y="680" width="479" height="10" fill="url(#g373)"/>
<rect x="916" y="690" width="479" height="1" fill="url(#g374)"/>
<rect x="916" y="691" width="479" height="10" fill="url(#g375)"/>
<rect x="916" y="701" width="479" height="1" fill="url(#g376)"/>
<rect x="916" y="702" width="479" height="10" fill="#e1d989"/>
<rect x="916" y="712" width="479" height="1" fill="#e1d989"/>
<rect x="916" y="713" width="479" height="10" fill="url(#g377)"/>
<rect x="916" y="723" width="479" height="10" fill="url(#g378)"/>
<rect x="916" y="733" width="479" height="1" fill="url(#g379)"/>
<rect x="916" y="734" width="465" height="10" fill="url(#g380)"/>
<rect x="916" y="744" width="465" height="1" fill="url(#g381)"/>
<rect x="916" y="745" width="445" height="10" fill="url(#g382)"/>
<rect x="916" y="755" width="445" height="1" fill="url(#g383)"/>
<rect x="916" y="756" width="425" height="10" fill="url(#g384)"/>
<rect x="916" y="766" width="425" height="1" fill="url(#g385)"/>
<rect x="916" y="767" width="405" height="10" fill="url(#g386)"/>
<rect x="916" y="777" width="405" height="1" fill="url(#g387)"/>
<rect x="916" y="778" width="385" height="10" fill="url(#g388)"/>
<rect x="916" y="788" width="375" height="10" fill="url(#g389)"/>
<rect x="916" y="798" width="375" height="1" fill="url(#g390)"/>
<rect x="916" y="799" width="365" height="10" fill="url(#g391)"/>
<rect x="916" y="809" width="365" height="1" fill="url(#g392)"/>
<rect x="916" y="810" width="345" height="10" fill="url(#g393)"/>
<rect x="916" y="820" width="345" height="1" fill="url(#g394)"/>
<rect x="916" y="821" width="335" height="10" fill="url(#g395)"/>
<rect x="916" y="831" width="335" height="1" fill="url(#g396)"/>
<rect x="916" y="832" width="325" height="10" fill="url(#g397)"/>
<rect x="916" y="842" width="325" height="1" fill="url(#g398)"/>
<rect x="916" y="843" width="306" height="10" fill="url(#g399)"/>
<rect x="916" y="853" width="296" height="10" fill="url(#g400)"/>
<rect x="916" y="863" width="296" height="1" fill="url(#g401)"/>
<rect x="916" y="864" width="286" height="10" fill="url(#g402)"/>
<rect x="916" y="874" width="286" height="1" fill="url(#g403)"/>
<rect x="916" y="875" width="256" height="10" fill="url(#g404)"/>
<rect x="916" y="885" width="256" height="1" fill="url(#g405)"/>
<rect x="916" y="886" width="256" height="10" fill="url(#g406)"/>
<rect x="916" y="896" width="256" height="1" fill="url(#g407)"/>
<rect x="916" y="897" width="246" height="10" fill="url(#g408)"/>
<rect x="916" y="907" width="246" height="1" fill="url(#g409)"/>
<rect x="916" y="908" width="236" height="10" fill="url(#g410)"/>
<rect x="916" y="918" width="236" height="1" fill="url(#g411)"/>
<rect x="916" y="919" width="226" height="10" fill="url(#g412)"/>
<rect x="916" y="929" width="216" height="10" fill="url(#g413)"/>
<rect x="916" y="939" width="216" height="1" fill="url(#g414)"/>
<rect x="916" y="940" width="206" height="10" fill="url(#g415)"/>
<rect x="916" y="950" width="206" height="1" fill="url(#g416)"/>
<rect x="916" y="951" width="196" height="10" fill="url(#g417)"/>
<rect x="916" y="961" width="196" height="1" fill="url(#g418)"/>
<rect x="916" y="962" width="166" height="10" fill="url(#g419)"/>
<rect x="916" y="972" width="166" height="1" fill="url(#g420)"/>
<rect x="916" y="973" width="136" height="10" fill="url(#g421)"/>
<rect x="916" y="983" width="136" height="1" fill="url(#g422)"/>
<rect x="916" y="984" width="106" height="10" fill="url(#g423)"/>
<rect x="916" y="994" width="76" height="10" fill="url(#g424)"/>
<rect x="916" y="1004" width="76" height="1" fill="url(#g425)"/>
<rect x="916" y="1005" width="46" height="10" fill="url(#g426)"/>
<rect x="916" y="1015" width="46" height="1" fill="url(#g427)"/>
<path d="M1095.3,1021.5 1094.6,978.1 1091.4,967.3 1086.0,963.6 1056.1,957.5 916.5,956.6M1186.7,1021.5 1186.0,891.4 1183.6,880.6 1175.7,868.4 1135.8,863.0 916.5,862.8M1288.6,1021.5 1288.0,815.6 1284.2,793.9 1275.4,784.2 1235.5,779.2 916.5,779.0M1395.0,716.2 1355.1,710.9 916.5,713.8" fill="none" stroke="#000" stroke-width="2.95" stroke-linejoin="round"/>
<path d="M1164.5,877.7 1296.3,770.2" fill="none" stroke="#ff0000" stroke-width="3.10"/>
</g>
<rect x="916.50" y="631.30" width="478.50" height="390.20" fill="none" stroke="#000" stroke-width="1.60"/>
<line x1="127.10" y1="449.30" x2="127.10" y2="456.10" stroke="#000" stroke-width="1.60"/>
<text x="126.1" y="483.8" font-size="33.3" text-anchor="middle">10<tspan dy="-11.4" font-size="23.3">−4</tspan></text>
<line x1="253.55" y1="449.30" x2="253.55" y2="456.10" stroke="#000" stroke-width="1.60"/>
<text x="252.5" y="483.8" font-size="33.3" text-anchor="middle">10<tspan dy="-11.4" font-size="23.3">−3</tspan></text>
<line x1="380.00" y1="449.30" x2="380.00" y2="456.10" stroke="#000" stroke-width="1.60"/>
<text x="379.0" y="483.8" font-size="33.3" text-anchor="middle">10<tspan dy="-11.4" font-size="23.3">−2</tspan></text>
<line x1="506.45" y1="449.30" x2="506.45" y2="456.10" stroke="#000" stroke-width="1.60"/>
<text x="505.5" y="483.8" font-size="33.3" text-anchor="middle">10<tspan dy="-11.4" font-size="23.3">−1</tspan></text>
<line x1="165.17" y1="449.30" x2="165.17" y2="453.30" stroke="#000" stroke-width="1.20"/>
<line x1="187.43" y1="449.30" x2="187.43" y2="453.30" stroke="#000" stroke-width="1.20"/>
<line x1="203.23" y1="449.30" x2="203.23" y2="453.30" stroke="#000" stroke-width="1.20"/>
<line x1="215.48" y1="449.30" x2="215.48" y2="453.30" stroke="#000" stroke-width="1.20"/>
<line x1="225.50" y1="449.30" x2="225.50" y2="453.30" stroke="#000" stroke-width="1.20"/>
<line x1="233.96" y1="449.30" x2="233.96" y2="453.30" stroke="#000" stroke-width="1.20"/>
<line x1="241.30" y1="449.30" x2="241.30" y2="453.30" stroke="#000" stroke-width="1.20"/>
<line x1="247.76" y1="449.30" x2="247.76" y2="453.30" stroke="#000" stroke-width="1.20"/>
<line x1="291.62" y1="449.30" x2="291.62" y2="453.30" stroke="#000" stroke-width="1.20"/>
<line x1="313.88" y1="449.30" x2="313.88" y2="453.30" stroke="#000" stroke-width="1.20"/>
<line x1="329.68" y1="449.30" x2="329.68" y2="453.30" stroke="#000" stroke-width="1.20"/>
<line x1="341.93" y1="449.30" x2="341.93" y2="453.30" stroke="#000" stroke-width="1.20"/>
<line x1="351.95" y1="449.30" x2="351.95" y2="453.30" stroke="#000" stroke-width="1.20"/>
<line x1="360.41" y1="449.30" x2="360.41" y2="453.30" stroke="#000" stroke-width="1.20"/>
<line x1="367.75" y1="449.30" x2="367.75" y2="453.30" stroke="#000" stroke-width="1.20"/>
<line x1="374.21" y1="449.30" x2="374.21" y2="453.30" stroke="#000" stroke-width="1.20"/>
<line x1="418.07" y1="449.30" x2="418.07" y2="453.30" stroke="#000" stroke-width="1.20"/>
<line x1="440.33" y1="449.30" x2="440.33" y2="453.30" stroke="#000" stroke-width="1.20"/>
<line x1="456.13" y1="449.30" x2="456.13" y2="453.30" stroke="#000" stroke-width="1.20"/>
<line x1="468.38" y1="449.30" x2="468.38" y2="453.30" stroke="#000" stroke-width="1.20"/>
<line x1="478.40" y1="449.30" x2="478.40" y2="453.30" stroke="#000" stroke-width="1.20"/>
<line x1="486.86" y1="449.30" x2="486.86" y2="453.30" stroke="#000" stroke-width="1.20"/>
<line x1="494.20" y1="449.30" x2="494.20" y2="453.30" stroke="#000" stroke-width="1.20"/>
<line x1="500.66" y1="449.30" x2="500.66" y2="453.30" stroke="#000" stroke-width="1.20"/>
<line x1="544.52" y1="449.30" x2="544.52" y2="453.30" stroke="#000" stroke-width="1.20"/>
<line x1="566.78" y1="449.30" x2="566.78" y2="453.30" stroke="#000" stroke-width="1.20"/>
<line x1="582.58" y1="449.30" x2="582.58" y2="453.30" stroke="#000" stroke-width="1.20"/>
<line x1="594.83" y1="449.30" x2="594.83" y2="453.30" stroke="#000" stroke-width="1.20"/>
<line x1="604.85" y1="449.30" x2="604.85" y2="453.30" stroke="#000" stroke-width="1.20"/>
<line x1="613.31" y1="449.30" x2="613.31" y2="453.30" stroke="#000" stroke-width="1.20"/>
<line x1="620.65" y1="449.30" x2="620.65" y2="453.30" stroke="#000" stroke-width="1.20"/>
<line x1="120.30" y1="449.30" x2="127.10" y2="449.30" stroke="#000" stroke-width="1.60"/>
<text x="112.3" y="460.4" font-size="33.3" text-anchor="end">10<tspan dy="-11.4" font-size="23.3">−8</tspan></text>
<line x1="120.30" y1="357.30" x2="127.10" y2="357.30" stroke="#000" stroke-width="1.60"/>
<text x="112.3" y="368.4" font-size="33.3" text-anchor="end">10<tspan dy="-11.4" font-size="23.3">−6</tspan></text>
<line x1="120.30" y1="265.30" x2="127.10" y2="265.30" stroke="#000" stroke-width="1.60"/>
<text x="112.3" y="276.4" font-size="33.3" text-anchor="end">10<tspan dy="-11.4" font-size="23.3">−4</tspan></text>
<line x1="120.30" y1="173.30" x2="127.10" y2="173.30" stroke="#000" stroke-width="1.60"/>
<text x="112.3" y="184.4" font-size="33.3" text-anchor="end">10<tspan dy="-11.4" font-size="23.3">−2</tspan></text>
<line x1="127.10" y1="1038.20" x2="127.10" y2="1045.00" stroke="#000" stroke-width="1.60"/>
<text x="126.1" y="1072.7" font-size="33.3" text-anchor="middle">10<tspan dy="-11.4" font-size="23.3">−2</tspan></text>
<line x1="250.60" y1="1038.20" x2="250.60" y2="1045.00" stroke="#000" stroke-width="1.60"/>
<text x="249.6" y="1072.7" font-size="33.3" text-anchor="middle">10<tspan dy="-11.4" font-size="23.3">−1</tspan></text>
<line x1="374.10" y1="1038.20" x2="374.10" y2="1045.00" stroke="#000" stroke-width="1.60"/>
<text x="373.1" y="1072.7" font-size="33.3" text-anchor="middle">10<tspan dy="-11.4" font-size="23.3">0</tspan></text>
<line x1="497.60" y1="1038.20" x2="497.60" y2="1045.00" stroke="#000" stroke-width="1.60"/>
<text x="496.6" y="1072.7" font-size="33.3" text-anchor="middle">10<tspan dy="-11.4" font-size="23.3">1</tspan></text>
<line x1="621.10" y1="1038.20" x2="621.10" y2="1045.00" stroke="#000" stroke-width="1.60"/>
<text x="620.1" y="1072.7" font-size="33.3" text-anchor="middle">10<tspan dy="-11.4" font-size="23.3">2</tspan></text>
<line x1="164.28" y1="1038.20" x2="164.28" y2="1042.20" stroke="#000" stroke-width="1.20"/>
<line x1="186.02" y1="1038.20" x2="186.02" y2="1042.20" stroke="#000" stroke-width="1.20"/>
<line x1="201.45" y1="1038.20" x2="201.45" y2="1042.20" stroke="#000" stroke-width="1.20"/>
<line x1="213.42" y1="1038.20" x2="213.42" y2="1042.20" stroke="#000" stroke-width="1.20"/>
<line x1="223.20" y1="1038.20" x2="223.20" y2="1042.20" stroke="#000" stroke-width="1.20"/>
<line x1="231.47" y1="1038.20" x2="231.47" y2="1042.20" stroke="#000" stroke-width="1.20"/>
<line x1="238.63" y1="1038.20" x2="238.63" y2="1042.20" stroke="#000" stroke-width="1.20"/>
<line x1="244.95" y1="1038.20" x2="244.95" y2="1042.20" stroke="#000" stroke-width="1.20"/>
<line x1="287.78" y1="1038.20" x2="287.78" y2="1042.20" stroke="#000" stroke-width="1.20"/>
<line x1="309.52" y1="1038.20" x2="309.52" y2="1042.20" stroke="#000" stroke-width="1.20"/>
<line x1="324.95" y1="1038.20" x2="324.95" y2="1042.20" stroke="#000" stroke-width="1.20"/>
<line x1="336.92" y1="1038.20" x2="336.92" y2="1042.20" stroke="#000" stroke-width="1.20"/>
<line x1="346.70" y1="1038.20" x2="346.70" y2="1042.20" stroke="#000" stroke-width="1.20"/>
<line x1="354.97" y1="1038.20" x2="354.97" y2="1042.20" stroke="#000" stroke-width="1.20"/>
<line x1="362.13" y1="1038.20" x2="362.13" y2="1042.20" stroke="#000" stroke-width="1.20"/>
<line x1="368.45" y1="1038.20" x2="368.45" y2="1042.20" stroke="#000" stroke-width="1.20"/>
<line x1="411.28" y1="1038.20" x2="411.28" y2="1042.20" stroke="#000" stroke-width="1.20"/>
<line x1="433.02" y1="1038.20" x2="433.02" y2="1042.20" stroke="#000" stroke-width="1.20"/>
<line x1="448.45" y1="1038.20" x2="448.45" y2="1042.20" stroke="#000" stroke-width="1.20"/>
<line x1="460.42" y1="1038.20" x2="460.42" y2="1042.20" stroke="#000" stroke-width="1.20"/>
<line x1="470.20" y1="1038.20" x2="470.20" y2="1042.20" stroke="#000" stroke-width="1.20"/>
<line x1="478.47" y1="1038.20" x2="478.47" y2="1042.20" stroke="#000" stroke-width="1.20"/>
<line x1="485.63" y1="1038.20" x2="485.63" y2="1042.20" stroke="#000" stroke-width="1.20"/>
<line x1="491.95" y1="1038.20" x2="491.95" y2="1042.20" stroke="#000" stroke-width="1.20"/>
<line x1="534.78" y1="1038.20" x2="534.78" y2="1042.20" stroke="#000" stroke-width="1.20"/>
<line x1="556.52" y1="1038.20" x2="556.52" y2="1042.20" stroke="#000" stroke-width="1.20"/>
<line x1="571.95" y1="1038.20" x2="571.95" y2="1042.20" stroke="#000" stroke-width="1.20"/>
<line x1="583.92" y1="1038.20" x2="583.92" y2="1042.20" stroke="#000" stroke-width="1.20"/>
<line x1="593.70" y1="1038.20" x2="593.70" y2="1042.20" stroke="#000" stroke-width="1.20"/>
<line x1="601.97" y1="1038.20" x2="601.97" y2="1042.20" stroke="#000" stroke-width="1.20"/>
<line x1="609.13" y1="1038.20" x2="609.13" y2="1042.20" stroke="#000" stroke-width="1.20"/>
<line x1="615.45" y1="1038.20" x2="615.45" y2="1042.20" stroke="#000" stroke-width="1.20"/>
<line x1="120.30" y1="1038.20" x2="127.10" y2="1038.20" stroke="#000" stroke-width="1.60"/>
<text x="112.3" y="1049.3" font-size="33.3" text-anchor="end">10<tspan dy="-11.4" font-size="23.3">−2</tspan></text>
<line x1="120.30" y1="908.50" x2="127.10" y2="908.50" stroke="#000" stroke-width="1.60"/>
<text x="112.3" y="919.6" font-size="33.3" text-anchor="end">10<tspan dy="-11.4" font-size="23.3">0</tspan></text>
<line x1="120.30" y1="778.80" x2="127.10" y2="778.80" stroke="#000" stroke-width="1.60"/>
<text x="112.3" y="789.9" font-size="33.3" text-anchor="end">10<tspan dy="-11.4" font-size="23.3">2</tspan></text>
<line x1="120.30" y1="649.10" x2="127.10" y2="649.10" stroke="#000" stroke-width="1.60"/>
<text x="112.3" y="660.2" font-size="33.3" text-anchor="end">10<tspan dy="-11.4" font-size="23.3">4</tspan></text>
<line x1="1119.70" y1="454.70" x2="1119.70" y2="461.50" stroke="#000" stroke-width="1.60"/>
<text x="1118.7" y="489.2" font-size="33.3" text-anchor="middle">10<tspan dy="-11.4" font-size="23.3">0</tspan></text>
<line x1="1373.70" y1="454.70" x2="1373.70" y2="461.50" stroke="#000" stroke-width="1.60"/>
<text x="1372.7" y="489.2" font-size="33.3" text-anchor="middle">10<tspan dy="-11.4" font-size="23.3">1</tspan></text>
<line x1="942.16" y1="454.70" x2="942.16" y2="458.70" stroke="#000" stroke-width="1.20"/>
<line x1="986.89" y1="454.70" x2="986.89" y2="458.70" stroke="#000" stroke-width="1.20"/>
<line x1="1018.62" y1="454.70" x2="1018.62" y2="458.70" stroke="#000" stroke-width="1.20"/>
<line x1="1043.24" y1="454.70" x2="1043.24" y2="458.70" stroke="#000" stroke-width="1.20"/>
<line x1="1063.35" y1="454.70" x2="1063.35" y2="458.70" stroke="#000" stroke-width="1.20"/>
<line x1="1080.35" y1="454.70" x2="1080.35" y2="458.70" stroke="#000" stroke-width="1.20"/>
<line x1="1095.08" y1="454.70" x2="1095.08" y2="458.70" stroke="#000" stroke-width="1.20"/>
<line x1="1108.08" y1="454.70" x2="1108.08" y2="458.70" stroke="#000" stroke-width="1.20"/>
<line x1="1196.16" y1="454.70" x2="1196.16" y2="458.70" stroke="#000" stroke-width="1.20"/>
<line x1="1240.89" y1="454.70" x2="1240.89" y2="458.70" stroke="#000" stroke-width="1.20"/>
<line x1="1272.62" y1="454.70" x2="1272.62" y2="458.70" stroke="#000" stroke-width="1.20"/>
<line x1="1297.24" y1="454.70" x2="1297.24" y2="458.70" stroke="#000" stroke-width="1.20"/>
<line x1="1317.35" y1="454.70" x2="1317.35" y2="458.70" stroke="#000" stroke-width="1.20"/>
<line x1="1334.35" y1="454.70" x2="1334.35" y2="458.70" stroke="#000" stroke-width="1.20"/>
<line x1="1349.08" y1="454.70" x2="1349.08" y2="458.70" stroke="#000" stroke-width="1.20"/>
<line x1="1362.08" y1="454.70" x2="1362.08" y2="458.70" stroke="#000" stroke-width="1.20"/>
<line x1="909.60" y1="454.70" x2="916.40" y2="454.70" stroke="#000" stroke-width="1.60"/>
<text x="901.6" y="465.8" font-size="33.3" text-anchor="end">10<tspan dy="-11.4" font-size="23.3">−2</tspan></text>
<line x1="909.60" y1="369.60" x2="916.40" y2="369.60" stroke="#000" stroke-width="1.60"/>
<text x="901.6" y="380.7" font-size="33.3" text-anchor="end">10<tspan dy="-11.4" font-size="23.3">−1</tspan></text>
<line x1="909.60" y1="284.50" x2="916.40" y2="284.50" stroke="#000" stroke-width="1.60"/>
<text x="901.6" y="295.6" font-size="33.3" text-anchor="end">10<tspan dy="-11.4" font-size="23.3">0</tspan></text>
<line x1="909.60" y1="199.40" x2="916.40" y2="199.40" stroke="#000" stroke-width="1.60"/>
<text x="901.6" y="210.5" font-size="33.3" text-anchor="end">10<tspan dy="-11.4" font-size="23.3">1</tspan></text>
<line x1="909.60" y1="114.30" x2="916.40" y2="114.30" stroke="#000" stroke-width="1.60"/>
<text x="901.6" y="125.4" font-size="33.3" text-anchor="end">10<tspan dy="-11.4" font-size="23.3">2</tspan></text>
<line x1="912.40" y1="429.08" x2="916.40" y2="429.08" stroke="#000" stroke-width="1.20"/>
<line x1="912.40" y1="414.10" x2="916.40" y2="414.10" stroke="#000" stroke-width="1.20"/>
<line x1="912.40" y1="403.46" x2="916.40" y2="403.46" stroke="#000" stroke-width="1.20"/>
<line x1="912.40" y1="395.22" x2="916.40" y2="395.22" stroke="#000" stroke-width="1.20"/>
<line x1="912.40" y1="388.48" x2="916.40" y2="388.48" stroke="#000" stroke-width="1.20"/>
<line x1="912.40" y1="382.78" x2="916.40" y2="382.78" stroke="#000" stroke-width="1.20"/>
<line x1="912.40" y1="377.85" x2="916.40" y2="377.85" stroke="#000" stroke-width="1.20"/>
<line x1="912.40" y1="373.49" x2="916.40" y2="373.49" stroke="#000" stroke-width="1.20"/>
<line x1="912.40" y1="343.98" x2="916.40" y2="343.98" stroke="#000" stroke-width="1.20"/>
<line x1="912.40" y1="329.00" x2="916.40" y2="329.00" stroke="#000" stroke-width="1.20"/>
<line x1="912.40" y1="318.36" x2="916.40" y2="318.36" stroke="#000" stroke-width="1.20"/>
<line x1="912.40" y1="310.12" x2="916.40" y2="310.12" stroke="#000" stroke-width="1.20"/>
<line x1="912.40" y1="303.38" x2="916.40" y2="303.38" stroke="#000" stroke-width="1.20"/>
<line x1="912.40" y1="297.68" x2="916.40" y2="297.68" stroke="#000" stroke-width="1.20"/>
<line x1="912.40" y1="292.75" x2="916.40" y2="292.75" stroke="#000" stroke-width="1.20"/>
<line x1="912.40" y1="288.39" x2="916.40" y2="288.39" stroke="#000" stroke-width="1.20"/>
<line x1="912.40" y1="258.88" x2="916.40" y2="258.88" stroke="#000" stroke-width="1.20"/>
<line x1="912.40" y1="243.90" x2="916.40" y2="243.90" stroke="#000" stroke-width="1.20"/>
<line x1="912.40" y1="233.26" x2="916.40" y2="233.26" stroke="#000" stroke-width="1.20"/>
<line x1="912.40" y1="225.02" x2="916.40" y2="225.02" stroke="#000" stroke-width="1.20"/>
<line x1="912.40" y1="218.28" x2="916.40" y2="218.28" stroke="#000" stroke-width="1.20"/>
<line x1="912.40" y1="212.58" x2="916.40" y2="212.58" stroke="#000" stroke-width="1.20"/>
<line x1="912.40" y1="207.65" x2="916.40" y2="207.65" stroke="#000" stroke-width="1.20"/>
<line x1="912.40" y1="203.29" x2="916.40" y2="203.29" stroke="#000" stroke-width="1.20"/>
<line x1="912.40" y1="173.78" x2="916.40" y2="173.78" stroke="#000" stroke-width="1.20"/>
<line x1="912.40" y1="158.80" x2="916.40" y2="158.80" stroke="#000" stroke-width="1.20"/>
<line x1="912.40" y1="148.16" x2="916.40" y2="148.16" stroke="#000" stroke-width="1.20"/>
<line x1="912.40" y1="139.92" x2="916.40" y2="139.92" stroke="#000" stroke-width="1.20"/>
<line x1="912.40" y1="133.18" x2="916.40" y2="133.18" stroke="#000" stroke-width="1.20"/>
<line x1="912.40" y1="127.48" x2="916.40" y2="127.48" stroke="#000" stroke-width="1.20"/>
<line x1="912.40" y1="122.55" x2="916.40" y2="122.55" stroke="#000" stroke-width="1.20"/>
<line x1="912.40" y1="118.19" x2="916.40" y2="118.19" stroke="#000" stroke-width="1.20"/>
<line x1="916.50" y1="1021.50" x2="916.50" y2="1028.30" stroke="#000" stroke-width="1.60"/>
<text x="915.5" y="1056.0" font-size="33.3" text-anchor="middle">10<tspan dy="-11.4" font-size="23.3">−2</tspan></text>
<line x1="1155.75" y1="1021.50" x2="1155.75" y2="1028.30" stroke="#000" stroke-width="1.60"/>
<text x="1154.8" y="1056.0" font-size="33.3" text-anchor="middle">10<tspan dy="-11.4" font-size="23.3">0</tspan></text>
<line x1="1395.00" y1="1021.50" x2="1395.00" y2="1028.30" stroke="#000" stroke-width="1.60"/>
<text x="1394.0" y="1056.0" font-size="33.3" text-anchor="middle">10<tspan dy="-11.4" font-size="23.3">2</tspan></text>
<line x1="909.70" y1="1021.50" x2="916.50" y2="1021.50" stroke="#000" stroke-width="1.60"/>
<text x="901.7" y="1032.6" font-size="33.3" text-anchor="end">10<tspan dy="-11.4" font-size="23.3">−2</tspan></text>
<line x1="909.70" y1="891.43" x2="916.50" y2="891.43" stroke="#000" stroke-width="1.60"/>
<text x="901.7" y="902.5" font-size="33.3" text-anchor="end">10<tspan dy="-11.4" font-size="23.3">0</tspan></text>
<line x1="909.70" y1="761.37" x2="916.50" y2="761.37" stroke="#000" stroke-width="1.60"/>
<text x="901.7" y="772.5" font-size="33.3" text-anchor="end">10<tspan dy="-11.4" font-size="23.3">2</tspan></text>
<line x1="909.70" y1="631.30" x2="916.50" y2="631.30" stroke="#000" stroke-width="1.60"/>
<text x="901.7" y="642.4" font-size="33.3" text-anchor="end">10<tspan dy="-11.4" font-size="23.3">4</tspan></text>
<text x="373.7" y="525.3" font-size="44.0" text-anchor="middle" font-style="italic">p</text>
<text x="1158.2" y="531.2" font-size="44.0" text-anchor="middle" font-style="italic">p</text>
<text x="371.5" y="1117.2" font-size="44.0" text-anchor="middle" font-style="italic">p̂</text>
<text x="1153.9" y="1100.5" font-size="44.0" text-anchor="middle" font-style="italic">p̂</text>
<text x="36.6" y="270.2" font-size="44" font-style="italic" font-weight="bold" text-anchor="middle" transform="rotate(-90 36.6 270.2)">ϖ</text>
<text x="36.0" y="843.4" font-size="44" font-style="italic" font-weight="bold" text-anchor="middle" transform="rotate(-90 36.0 843.4)">ϖ</text>
<text x="36.0" y="841.4" font-size="44" font-style="italic" font-weight="bold" text-anchor="middle" transform="rotate(-90 36.0 841.4)">ˆ</text>
<text x="825.2" y="275.3" font-size="44" font-style="italic" font-weight="bold" text-anchor="middle" transform="rotate(-90 825.2 275.3)">ϖ</text>
<text x="825.2" y="826.5" font-size="44" font-style="italic" font-weight="bold" text-anchor="middle" transform="rotate(-90 825.2 826.5)">ϖ</text>
<text x="825.2" y="824.3" font-size="44" font-style="italic" font-weight="bold" text-anchor="middle" transform="rotate(-90 825.2 824.3)">ˆ</text>
<text id="t1a" x="304.75" y="35.3" font-size="43.6"><tspan font-style="italic">ĝ</tspan><tspan font-size="30.5" dy="5.5">Λ</tspan><tspan dy="-2.5" dx="7.5">=</tspan><tspan dy="-3" dx="6.5">0.1</tspan></text>
<text id="t2a" x="280.75" y="79.4" font-size="43.6">(a) <tspan font-style="italic">C</tspan>(<tspan font-style="italic" style="stroke-width:1px">ϖ</tspan>,<tspan font-style="italic" dx="5.5">p</tspan>)</text>
<text id="t1c" x="1083.70" y="40.6" font-size="43.6"><tspan font-style="italic">ĝ</tspan><tspan font-size="30.5" dy="5.5">Λ</tspan><tspan dy="-2.5" dx="9">=</tspan><tspan dy="-3" dx="8">300</tspan></text>
<text id="t2c" x="1065.05" y="84.7" font-size="43.6">(c) <tspan font-style="italic">C</tspan>(<tspan font-style="italic" style="stroke-width:1px">ϖ</tspan>,<tspan font-style="italic" dx="5.5">p</tspan>)</text>
<text id="t2b" x="278.95" y="638.6" font-size="43.6">(b) <tspan font-style="italic">Ĉ</tspan>(<tspan font-style="italic" style="stroke-width:1px">ϖ</tspan><tspan font-style="italic" dx="-21.8" dy="-1">ˆ</tspan><tspan dx="7.3" dy="1">,</tspan><tspan font-style="italic" dx="5.5">p̂</tspan>)</text>
<text id="t2d" x="1060.80" y="621.3" font-size="43.6">(d) <tspan font-style="italic">Ĉ</tspan>(<tspan font-style="italic" style="stroke-width:1px">ϖ</tspan><tspan font-style="italic" dx="-21.8" dy="-1">ˆ</tspan><tspan dx="7.3" dy="1">,</tspan><tspan font-style="italic" dx="5.5">p̂</tspan>)</text>
<rect x="652.00" y="108.30" width="18.00" height="341.00" fill="url(#g428)"/>
<path d="M652.00,109.10 L661.00,90.40 L670.00,109.10 Z" fill="#ffffff"/>
<path d="M652.0,108.3 661.0,90.4 670.0,108.3 670.0,449.3 652.0,449.3Z" fill="none" stroke="#000" stroke-width="1.6" stroke-linejoin="miter"/>
<line x1="670.00" y1="179.60" x2="676.80" y2="179.60" stroke="#000" stroke-width="1.60"/>
<text x="683.0" y="190.7" font-size="33.3" text-anchor="start">10<tspan dy="-11.4" font-size="23.3">−3</tspan></text>
<line x1="670.00" y1="275.50" x2="676.80" y2="275.50" stroke="#000" stroke-width="1.60"/>
<text x="683.0" y="286.6" font-size="33.3" text-anchor="start">10<tspan dy="-11.4" font-size="23.3">−7</tspan></text>
<line x1="670.00" y1="371.70" x2="676.80" y2="371.70" stroke="#000" stroke-width="1.60"/>
<text x="683.0" y="382.8" font-size="33.3" text-anchor="start">10<tspan dy="-11.4" font-size="23.3">−11</tspan></text>
<rect x="652.00" y="667.00" width="18.00" height="371.20" fill="url(#g429)"/>
<path d="M652.00,667.80 L661.00,648.60 L670.00,667.80 Z" fill="#ffffff"/>
<path d="M652.0,667.0 661.0,648.6 670.0,667.0 670.0,1038.2 652.0,1038.2Z" fill="none" stroke="#000" stroke-width="1.6" stroke-linejoin="miter"/>
<line x1="670.00" y1="710.20" x2="676.80" y2="710.20" stroke="#000" stroke-width="1.60"/>
<text x="683.0" y="721.3" font-size="33.3" text-anchor="start">10<tspan dy="-11.4" font-size="23.3">−2</tspan></text>
<line x1="670.00" y1="797.00" x2="676.80" y2="797.00" stroke="#000" stroke-width="1.60"/>
<text x="683.0" y="808.1" font-size="33.3" text-anchor="start">10<tspan dy="-11.4" font-size="23.3">−6</tspan></text>
<line x1="670.00" y1="883.40" x2="676.80" y2="883.40" stroke="#000" stroke-width="1.60"/>
<text x="683.0" y="894.5" font-size="33.3" text-anchor="start">10<tspan dy="-11.4" font-size="23.3">−10</tspan></text>
<line x1="670.00" y1="969.10" x2="676.80" y2="969.10" stroke="#000" stroke-width="1.60"/>
<text x="683.0" y="980.2" font-size="33.3" text-anchor="start">10<tspan dy="-11.4" font-size="23.3">−14</tspan></text>
<rect x="1432.00" y="112.50" width="17.80" height="325.30" fill="url(#g430)"/>
<path d="M1432.00,113.30 L1440.90,95.40 L1449.80,113.30 Z" fill="#ffffff"/>
<path d="M1432.00,437.00 L1440.90,454.90 L1449.80,437.00 Z" fill="#333399"/>
<path d="M1432.0,112.5 1440.9,95.4 1449.8,112.5 1449.8,437.8 1440.9,454.9 1432.0,437.8Z" fill="none" stroke="#000" stroke-width="1.6" stroke-linejoin="miter"/>
<line x1="1449.80" y1="112.50" x2="1456.60" y2="112.50" stroke="#000" stroke-width="1.60"/>
<text x="1463.0" y="123.6" font-size="33.3" text-anchor="start">10<tspan dy="-11.4" font-size="23.3">0</tspan></text>
<line x1="1449.80" y1="150.90" x2="1456.60" y2="150.90" stroke="#000" stroke-width="1.60"/>
<text x="1463.0" y="162.0" font-size="33.3" text-anchor="start">10<tspan dy="-11.4" font-size="23.3">−1</tspan></text>
<line x1="1449.80" y1="188.90" x2="1456.60" y2="188.90" stroke="#000" stroke-width="1.60"/>
<text x="1463.0" y="200.0" font-size="33.3" text-anchor="start">10<tspan dy="-11.4" font-size="23.3">−2</tspan></text>
<line x1="1449.80" y1="226.50" x2="1456.60" y2="226.50" stroke="#000" stroke-width="1.60"/>
<text x="1463.0" y="237.6" font-size="33.3" text-anchor="start">10<tspan dy="-11.4" font-size="23.3">−3</tspan></text>
<line x1="1449.80" y1="275.80" x2="1456.60" y2="275.80" stroke="#000" stroke-width="1.60"/>
<text x="1463.0" y="286.9" font-size="33.3" text-anchor="start">10<tspan dy="-11.4" font-size="23.3">−4</tspan></text>
<line x1="1449.80" y1="346.30" x2="1456.60" y2="346.30" stroke="#000" stroke-width="1.60"/>
<text x="1463.0" y="357.4" font-size="33.3" text-anchor="start">0</text>
<line x1="1449.80" y1="417.20" x2="1456.60" y2="417.20" stroke="#000" stroke-width="1.60"/>
<text x="1461.0" y="428.3" font-size="33.3" text-anchor="start">−10<tspan dy="-11.4" font-size="23.3">−4</tspan></text>
<rect x="1425.20" y="650.20" width="19.70" height="353.00" fill="url(#g431)"/>
<path d="M1425.20,651.00 L1435.05,631.70 L1444.90,651.00 Z" fill="#e5dedd"/>
<path d="M1425.20,1002.40 L1435.05,1021.20 L1444.90,1002.40 Z" fill="#333399"/>
<path d="M1425.2,650.2 1435.1,631.7 1444.9,650.2 1444.9,1003.2 1435.1,1021.2 1425.2,1003.2Z" fill="none" stroke="#000" stroke-width="1.6" stroke-linejoin="miter"/>
<rect x="1444.9" y="649.2" width="6.4" height="4.6" fill="#000"/>
<line x1="1444.90" y1="656.10" x2="1451.30" y2="656.10" stroke="#000" stroke-width="1.00"/>
<line x1="1444.90" y1="659.10" x2="1448.90" y2="659.10" stroke="#000" stroke-width="1.20"/>
<line x1="1444.90" y1="668.00" x2="1448.90" y2="668.00" stroke="#000" stroke-width="1.20"/>
<line x1="1444.90" y1="677.20" x2="1448.90" y2="677.20" stroke="#000" stroke-width="1.20"/>
<line x1="1444.90" y1="686.40" x2="1448.90" y2="686.40" stroke="#000" stroke-width="1.20"/>
<line x1="1444.90" y1="695.50" x2="1448.90" y2="695.50" stroke="#000" stroke-width="1.20"/>
<line x1="1444.90" y1="704.70" x2="1448.90" y2="704.70" stroke="#000" stroke-width="1.20"/>
<line x1="1444.90" y1="713.90" x2="1448.90" y2="713.90" stroke="#000" stroke-width="1.20"/>
<line x1="1444.90" y1="723.40" x2="1448.90" y2="723.40" stroke="#000" stroke-width="1.20"/>
<line x1="1444.90" y1="732.60" x2="1448.90" y2="732.60" stroke="#000" stroke-width="1.20"/>
<line x1="1444.90" y1="741.80" x2="1448.90" y2="741.80" stroke="#000" stroke-width="1.20"/>
<line x1="1444.90" y1="750.80" x2="1448.90" y2="750.80" stroke="#000" stroke-width="1.20"/>
<line x1="1444.90" y1="759.80" x2="1448.90" y2="759.80" stroke="#000" stroke-width="1.20"/>
<line x1="1444.90" y1="769.30" x2="1448.90" y2="769.30" stroke="#000" stroke-width="1.20"/>
<line x1="1444.90" y1="778.50" x2="1448.90" y2="778.50" stroke="#000" stroke-width="1.20"/>
<line x1="1444.90" y1="787.70" x2="1448.90" y2="787.70" stroke="#000" stroke-width="1.20"/>
<line x1="1444.90" y1="796.70" x2="1448.90" y2="796.70" stroke="#000" stroke-width="1.20"/>
<line x1="1444.90" y1="877.30" x2="1448.90" y2="877.30" stroke="#000" stroke-width="1.20"/>
<line x1="1444.90" y1="901.80" x2="1451.70" y2="901.80" stroke="#000" stroke-width="1.60"/>
<text x="1456.5" y="913.0" font-size="33.3" text-anchor="start">0</text>
<text x="1458.0" y="660.5" font-size="33.3" text-anchor="start">1<tspan dx="2.5" font-size="43" dy="1.5">×</tspan><tspan dx="2.5" dy="-1.5">10</tspan><tspan dy="-11.4" font-size="23.3">0</tspan></text>
</svg>
</body></html>
